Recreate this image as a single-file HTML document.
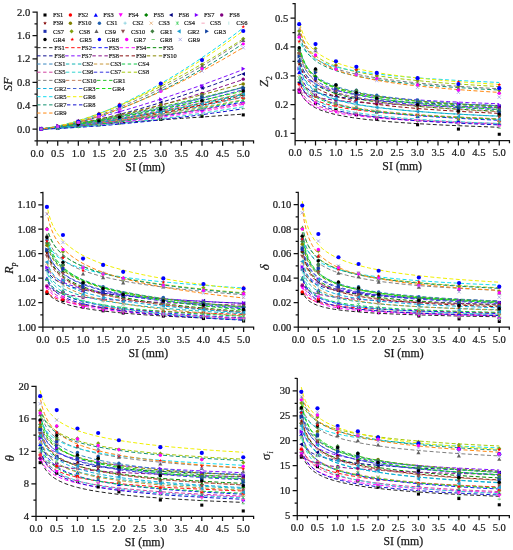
<!DOCTYPE html>
<html lang="en"><head><meta charset="utf-8"><title>Roughness parameters vs sampling interval</title>
<style>html,body{margin:0;padding:0;background:#fff}svg{display:block;filter:blur(0.35px)}</style></head>
<body>
<svg width="513" height="550" viewBox="0 0 513 550" font-family='"Liberation Serif", "DejaVu Serif", serif'>
<rect width="513" height="550" fill="#ffffff"/>
<g fill="none" stroke-width="1" stroke-dasharray="4 2.4">
<polyline stroke="#202020" stroke-dashoffset="2.0" points="41.2,128.7 43.3,128.6 45.3,128.4 47.4,128.2 49.5,128.0 51.5,127.9 53.6,127.7 55.7,127.6 57.7,127.4 59.8,127.2 61.8,127.1 66.0,126.8 70.1,126.4 74.2,126.1 78.3,125.8 82.5,125.5 86.6,125.2 90.7,124.9 94.8,124.6 98.9,124.3 109.3,123.5 119.6,122.8 129.9,122.1 140.2,121.3 150.5,120.6 160.8,119.9 171.1,119.1 181.4,118.4 191.7,117.7 202.0,117.0 212.3,116.3 222.6,115.5 232.9,114.8 243.2,114.1"/>
<polyline stroke="#ff1010" stroke-dashoffset="2.6" points="41.2,128.8 43.3,128.7 45.3,128.5 47.4,128.3 49.5,128.1 51.5,127.9 53.6,127.7 55.7,127.5 57.7,127.3 59.8,127.0 61.8,126.8 66.0,126.3 70.1,125.8 74.2,125.3 78.3,124.8 82.5,124.2 86.6,123.7 90.7,123.1 94.8,122.5 98.9,121.9 109.3,120.4 119.6,118.9 129.9,117.3 140.2,115.6 150.5,114.0 160.8,112.2 171.1,110.5 181.4,108.7 191.7,106.9 202.0,105.0 212.3,103.2 222.6,101.3 232.9,99.3 243.2,97.4"/>
<polyline stroke="#1010ff" stroke-dashoffset="4.0" points="41.2,129.0 43.3,128.9 45.3,128.8 47.4,128.7 49.5,128.6 51.5,128.5 53.6,128.4 55.7,128.3 57.7,128.1 59.8,128.0 61.8,127.8 66.0,127.5 70.1,127.2 74.2,126.8 78.3,126.5 82.5,126.1 86.6,125.7 90.7,125.3 94.8,124.8 98.9,124.4 109.3,123.2 119.6,121.9 129.9,120.6 140.2,119.2 150.5,117.7 160.8,116.2 171.1,114.6 181.4,112.9 191.7,111.2 202.0,109.5 212.3,107.6 222.6,105.8 232.9,103.9 243.2,101.9"/>
<polyline stroke="#ff10ff" stroke-dashoffset="5.0" points="41.2,129.0 43.3,128.9 45.3,128.9 47.4,128.8 49.5,128.7 51.5,128.6 53.6,128.5 55.7,128.4 57.7,128.2 59.8,128.1 61.8,128.0 66.0,127.7 70.1,127.4 74.2,127.1 78.3,126.7 82.5,126.4 86.6,126.0 90.7,125.6 94.8,125.2 98.9,124.8 109.3,123.7 119.6,122.6 129.9,121.4 140.2,120.1 150.5,118.7 160.8,117.4 171.1,115.9 181.4,114.4 191.7,112.8 202.0,111.2 212.3,109.6 222.6,107.9 232.9,106.2 243.2,104.4"/>
<polyline stroke="#008800" stroke-dashoffset="5.4" points="41.2,129.0 43.3,128.8 45.3,128.7 47.4,128.6 49.5,128.4 51.5,128.2 53.6,128.1 55.7,127.9 57.7,127.7 59.8,127.5 61.8,127.3 66.0,126.8 70.1,126.4 74.2,125.9 78.3,125.4 82.5,124.9 86.6,124.3 90.7,123.7 94.8,123.2 98.9,122.6 109.3,121.0 119.6,119.3 129.9,117.6 140.2,115.7 150.5,113.8 160.8,111.9 171.1,109.8 181.4,107.7 191.7,105.5 202.0,103.3 212.3,101.0 222.6,98.7 232.9,96.3 243.2,93.9"/>
<polyline stroke="#101090" stroke-dashoffset="1.0" points="41.2,128.9 43.3,128.7 45.3,128.6 47.4,128.4 49.5,128.1 51.5,127.9 53.6,127.7 55.7,127.4 57.7,127.1 59.8,126.8 61.8,126.5 66.0,125.9 70.1,125.2 74.2,124.4 78.3,123.7 82.5,122.9 86.6,122.0 90.7,121.2 94.8,120.3 98.9,119.3 109.3,116.9 119.6,114.3 129.9,111.6 140.2,108.7 150.5,105.7 160.8,102.5 171.1,99.3 181.4,95.9 191.7,92.4 202.0,88.8 212.3,85.2 222.6,81.4 232.9,77.5 243.2,73.5"/>
<polyline stroke="#8010ff" stroke-dashoffset="1.8" points="41.2,128.8 43.3,128.6 45.3,128.3 47.4,128.0 49.5,127.7 51.5,127.4 53.6,127.1 55.7,126.8 57.7,126.4 59.8,126.0 61.8,125.6 66.0,124.8 70.1,124.0 74.2,123.1 78.3,122.2 82.5,121.3 86.6,120.3 90.7,119.3 94.8,118.3 98.9,117.3 109.3,114.6 119.6,111.7 129.9,108.7 140.2,105.6 150.5,102.4 160.8,99.1 171.1,95.7 181.4,92.2 191.7,88.6 202.0,85.0 212.3,81.2 222.6,77.4 232.9,73.5 243.2,69.5"/>
<polyline stroke="#881088" stroke-dashoffset="2.7" points="41.2,128.9 43.3,128.8 45.3,128.6 47.4,128.4 49.5,128.2 51.5,128.0 53.6,127.8 55.7,127.5 57.7,127.3 59.8,127.0 61.8,126.7 66.0,126.1 70.1,125.5 74.2,124.8 78.3,124.1 82.5,123.4 86.6,122.7 90.7,121.9 94.8,121.1 98.9,120.2 109.3,118.1 119.6,115.7 129.9,113.3 140.2,110.7 150.5,108.0 160.8,105.2 171.1,102.3 181.4,99.3 191.7,96.2 202.0,93.0 212.3,89.8 222.6,86.4 232.9,83.0 243.2,79.5"/>
<polyline stroke="#8a1010" stroke-dashoffset="3.4" points="41.2,129.0 43.3,128.9 45.3,128.8 47.4,128.7 49.5,128.6 51.5,128.5 53.6,128.4 55.7,128.2 57.7,128.1 59.8,127.9 61.8,127.7 66.0,127.4 70.1,127.0 74.2,126.6 78.3,126.2 82.5,125.7 86.6,125.2 90.7,124.7 94.8,124.2 98.9,123.6 109.3,122.2 119.6,120.7 129.9,119.0 140.2,117.3 150.5,115.4 160.8,113.5 171.1,111.5 181.4,109.4 191.7,107.2 202.0,104.9 212.3,102.6 222.6,100.2 232.9,97.7 243.2,95.2"/>
<polyline stroke="#888800" stroke-dashoffset="2.1" points="41.2,128.8 43.3,128.5 45.3,128.3 47.4,128.0 49.5,127.8 51.5,127.5 53.6,127.2 55.7,126.9 57.7,126.6 59.8,126.2 61.8,125.9 66.0,125.2 70.1,124.5 74.2,123.8 78.3,123.0 82.5,122.3 86.6,121.5 90.7,120.7 94.8,119.9 98.9,119.0 109.3,116.9 119.6,114.7 129.9,112.4 140.2,110.0 150.5,107.6 160.8,105.1 171.1,102.6 181.4,100.0 191.7,97.4 202.0,94.7 212.3,92.0 222.6,89.3 232.9,86.5 243.2,83.7"/>
<polyline stroke="#3888c0" stroke-dashoffset="1.2" points="41.2,128.9 43.3,128.7 45.3,128.5 47.4,128.3 49.5,128.1 51.5,127.9 53.6,127.7 55.7,127.4 57.7,127.2 59.8,126.9 61.8,126.6 66.0,126.1 70.1,125.5 74.2,124.9 78.3,124.2 82.5,123.6 86.6,122.9 90.7,122.2 94.8,121.5 98.9,120.7 109.3,118.8 119.6,116.8 129.9,114.7 140.2,112.5 150.5,110.3 160.8,108.0 171.1,105.6 181.4,103.1 191.7,100.6 202.0,98.1 212.3,95.5 222.6,92.8 232.9,90.1 243.2,87.3"/>
<polyline stroke="#10b4b4" stroke-dashoffset="0.5" points="41.2,129.0 43.3,129.0 45.3,128.9 47.4,128.8 49.5,128.7 51.5,128.6 53.6,128.4 55.7,128.3 57.7,128.2 59.8,128.0 61.8,127.9 66.0,127.5 70.1,127.2 74.2,126.8 78.3,126.4 82.5,126.0 86.6,125.5 90.7,125.0 94.8,124.5 98.9,124.0 109.3,122.7 119.6,121.2 129.9,119.6 140.2,118.0 150.5,116.2 160.8,114.4 171.1,112.4 181.4,110.4 191.7,108.3 202.0,106.2 212.3,103.9 222.6,101.6 232.9,99.2 243.2,96.8"/>
<polyline stroke="#c89838" stroke-dashoffset="1.9" points="41.2,128.9 43.3,128.8 45.3,128.7 47.4,128.5 49.5,128.4 51.5,128.2 53.6,128.1 55.7,127.9 57.7,127.7 59.8,127.5 61.8,127.3 66.0,126.9 70.1,126.5 74.2,126.1 78.3,125.6 82.5,125.1 86.6,124.7 90.7,124.2 94.8,123.7 98.9,123.1 109.3,121.8 119.6,120.4 129.9,118.9 140.2,117.4 150.5,115.8 160.8,114.2 171.1,112.5 181.4,110.8 191.7,109.1 202.0,107.3 212.3,105.5 222.6,103.6 232.9,101.7 243.2,99.8"/>
<polyline stroke="#10c848" stroke-dashoffset="2.8" points="41.2,129.0 43.3,128.9 45.3,128.8 47.4,128.7 49.5,128.6 51.5,128.5 53.6,128.4 55.7,128.3 57.7,128.1 59.8,128.0 61.8,127.8 66.0,127.5 70.1,127.2 74.2,126.8 78.3,126.4 82.5,126.0 86.6,125.6 90.7,125.2 94.8,124.7 98.9,124.2 109.3,123.0 119.6,121.7 129.9,120.3 140.2,118.8 150.5,117.2 160.8,115.6 171.1,113.9 181.4,112.2 191.7,110.4 202.0,108.5 212.3,106.6 222.6,104.6 232.9,102.6 243.2,100.5"/>
<polyline stroke="#d040a0" stroke-dashoffset="5.8" points="41.2,128.9 43.3,128.8 45.3,128.6 47.4,128.5 49.5,128.3 51.5,128.1 53.6,128.0 55.7,127.8 57.7,127.6 59.8,127.4 61.8,127.2 66.0,126.8 70.1,126.4 74.2,126.0 78.3,125.6 82.5,125.2 86.6,124.7 90.7,124.2 94.8,123.8 98.9,123.3 109.3,122.1 119.6,120.8 129.9,119.5 140.2,118.2 150.5,116.9 160.8,115.5 171.1,114.0 181.4,112.6 191.7,111.1 202.0,109.6 212.3,108.1 222.6,106.6 232.9,105.0 243.2,103.5"/>
<polyline stroke="#30d4d0" stroke-dashoffset="5.5" points="41.2,129.0 43.3,129.0 45.3,128.9 47.4,128.9 49.5,128.8 51.5,128.7 53.6,128.6 55.7,128.5 57.7,128.4 59.8,128.3 61.8,128.2 66.0,128.0 70.1,127.7 74.2,127.4 78.3,127.1 82.5,126.8 86.6,126.5 90.7,126.2 94.8,125.8 98.9,125.5 109.3,124.5 119.6,123.5 129.9,122.4 140.2,121.3 150.5,120.1 160.8,118.8 171.1,117.5 181.4,116.1 191.7,114.7 202.0,113.2 212.3,111.7 222.6,110.1 232.9,108.5 243.2,106.8"/>
<polyline stroke="#3434e0" stroke-dashoffset="5.2" points="41.2,129.0 43.3,128.9 45.3,128.7 47.4,128.6 49.5,128.4 51.5,128.3 53.6,128.1 55.7,127.9 57.7,127.7 59.8,127.5 61.8,127.3 66.0,126.8 70.1,126.3 74.2,125.8 78.3,125.3 82.5,124.7 86.6,124.1 90.7,123.5 94.8,122.9 98.9,122.2 109.3,120.5 119.6,118.7 129.9,116.7 140.2,114.7 150.5,112.6 160.8,110.3 171.1,108.0 181.4,105.6 191.7,103.1 202.0,100.6 212.3,98.0 222.6,95.3 232.9,92.5 243.2,89.7"/>
<polyline stroke="#a4c808" stroke-dashoffset="5.8" points="41.2,128.8 43.3,128.6 45.3,128.3 47.4,128.0 49.5,127.6 51.5,127.3 53.6,126.9 55.7,126.5 57.7,126.0 59.8,125.5 61.8,125.1 66.0,124.0 70.1,123.0 74.2,121.8 78.3,120.6 82.5,119.3 86.6,118.0 90.7,116.6 94.8,115.1 98.9,113.6 109.3,109.7 119.6,105.5 129.9,101.1 140.2,96.4 150.5,91.5 160.8,86.4 171.1,81.1 181.4,75.6 191.7,69.9 202.0,64.0 212.3,58.0 222.6,51.8 232.9,45.4 243.2,38.8"/>
<polyline stroke="#808080" stroke-dashoffset="5.8" points="41.2,128.9 43.3,128.7 45.3,128.5 47.4,128.2 49.5,127.9 51.5,127.6 53.6,127.3 55.7,126.9 57.7,126.5 59.8,126.1 61.8,125.7 66.0,124.8 70.1,123.8 74.2,122.8 78.3,121.6 82.5,120.5 86.6,119.2 90.7,117.9 94.8,116.6 98.9,115.2 109.3,111.5 119.6,107.4 129.9,103.1 140.2,98.5 150.5,93.7 160.8,88.7 171.1,83.3 181.4,77.8 191.7,72.1 202.0,66.1 212.3,60.0 222.6,53.6 232.9,47.0 243.2,40.3"/>
<polyline stroke="#c08060" stroke-dashoffset="3.7" points="41.2,128.9 43.3,128.8 45.3,128.6 47.4,128.5 49.5,128.3 51.5,128.1 53.6,127.9 55.7,127.7 57.7,127.5 59.8,127.2 61.8,127.0 66.0,126.5 70.1,126.0 74.2,125.5 78.3,125.0 82.5,124.4 86.6,123.8 90.7,123.2 94.8,122.6 98.9,122.0 109.3,120.3 119.6,118.6 129.9,116.8 140.2,114.9 150.5,113.0 160.8,111.0 171.1,108.9 181.4,106.8 191.7,104.7 202.0,102.5 212.3,100.2 222.6,97.9 232.9,95.6 243.2,93.2"/>
<polyline stroke="#28c428" stroke-dashoffset="4.9" points="41.2,128.8 43.3,128.6 45.3,128.4 47.4,128.1 49.5,127.9 51.5,127.6 53.6,127.3 55.7,127.1 57.7,126.8 59.8,126.5 61.8,126.2 66.0,125.6 70.1,124.9 74.2,124.2 78.3,123.6 82.5,122.8 86.6,122.1 90.7,121.4 94.8,120.6 98.9,119.9 109.3,117.9 119.6,115.9 129.9,113.7 140.2,111.6 150.5,109.3 160.8,107.1 171.1,104.7 181.4,102.3 191.7,99.9 202.0,97.5 212.3,95.0 222.6,92.4 232.9,89.8 243.2,87.2"/>
<polyline stroke="#10b0e0" stroke-dashoffset="0.4" points="41.2,128.9 43.3,128.8 45.3,128.7 47.4,128.5 49.5,128.4 51.5,128.2 53.6,128.0 55.7,127.8 57.7,127.6 59.8,127.4 61.8,127.2 66.0,126.7 70.1,126.3 74.2,125.8 78.3,125.3 82.5,124.7 86.6,124.2 90.7,123.6 94.8,123.0 98.9,122.4 109.3,120.8 119.6,119.2 129.9,117.4 140.2,115.6 150.5,113.8 160.8,111.8 171.1,109.8 181.4,107.8 191.7,105.6 202.0,103.5 212.3,101.3 222.6,99.0 232.9,96.7 243.2,94.3"/>
<polyline stroke="#4060d0" stroke-dashoffset="4.1" points="41.2,128.9 43.3,128.8 45.3,128.6 47.4,128.4 49.5,128.2 51.5,128.0 53.6,127.8 55.7,127.6 57.7,127.4 59.8,127.1 61.8,126.9 66.0,126.4 70.1,125.8 74.2,125.2 78.3,124.6 82.5,124.0 86.6,123.3 90.7,122.6 94.8,121.9 98.9,121.2 109.3,119.3 119.6,117.4 129.9,115.3 140.2,113.1 150.5,110.9 160.8,108.5 171.1,106.1 181.4,103.6 191.7,101.1 202.0,98.5 212.3,95.8 222.6,93.0 232.9,90.2 243.2,87.4"/>
<polyline stroke="#10e010" stroke-dashoffset="3.7" points="41.2,128.8 43.3,128.7 45.3,128.5 47.4,128.3 49.5,128.0 51.5,127.8 53.6,127.6 55.7,127.3 57.7,127.1 59.8,126.8 61.8,126.5 66.0,126.0 70.1,125.4 74.2,124.8 78.3,124.2 82.5,123.5 86.6,122.9 90.7,122.2 94.8,121.5 98.9,120.8 109.3,119.1 119.6,117.2 129.9,115.3 140.2,113.3 150.5,111.3 160.8,109.2 171.1,107.0 181.4,104.9 191.7,102.6 202.0,100.4 212.3,98.1 222.6,95.7 232.9,93.4 243.2,91.0"/>
<polyline stroke="#10dcf0" stroke-dashoffset="1.8" points="41.2,128.9 43.3,128.7 45.3,128.4 47.4,128.2 49.5,127.9 51.5,127.5 53.6,127.2 55.7,126.8 57.7,126.3 59.8,125.9 61.8,125.4 66.0,124.4 70.1,123.3 74.2,122.2 78.3,120.9 82.5,119.6 86.6,118.3 90.7,116.8 94.8,115.3 98.9,113.7 109.3,109.5 119.6,105.0 129.9,100.1 140.2,94.9 150.5,89.4 160.8,83.6 171.1,77.5 181.4,71.2 191.7,64.6 202.0,57.7 212.3,50.6 222.6,43.3 232.9,35.7 243.2,27.9"/>
<polyline stroke="#f0f000" stroke-dashoffset="3.4" points="41.2,128.9 43.3,128.7 45.3,128.4 47.4,128.2 49.5,127.9 51.5,127.5 53.6,127.2 55.7,126.8 57.7,126.4 59.8,125.9 61.8,125.5 66.0,124.5 70.1,123.4 74.2,122.3 78.3,121.1 82.5,119.8 86.6,118.4 90.7,117.0 94.8,115.5 98.9,114.0 109.3,109.9 119.6,105.5 129.9,100.7 140.2,95.7 150.5,90.3 160.8,84.7 171.1,78.8 181.4,72.7 191.7,66.3 202.0,59.7 212.3,52.8 222.6,45.7 232.9,38.4 243.2,30.9"/>
<polyline stroke="#109070" stroke-dashoffset="5.7" points="41.2,128.9 43.3,128.8 45.3,128.6 47.4,128.4 49.5,128.1 51.5,127.8 53.6,127.5 55.7,127.2 57.7,126.9 59.8,126.5 61.8,126.1 66.0,125.3 70.1,124.4 74.2,123.4 78.3,122.4 82.5,121.3 86.6,120.2 90.7,119.0 94.8,117.7 98.9,116.4 109.3,112.9 119.6,109.1 129.9,105.0 140.2,100.6 150.5,95.9 160.8,91.0 171.1,85.9 181.4,80.5 191.7,74.9 202.0,69.1 212.3,63.0 222.6,56.8 232.9,50.3 243.2,43.6"/>
<polyline stroke="#1010d0" stroke-dashoffset="2.9" points="41.2,129.1 43.3,129.0 45.3,129.0 47.4,128.9 49.5,128.8 51.5,128.8 53.6,128.7 55.7,128.6 57.7,128.5 59.8,128.4 61.8,128.3 66.0,128.1 70.1,127.9 74.2,127.6 78.3,127.4 82.5,127.1 86.6,126.8 90.7,126.5 94.8,126.2 98.9,125.9 109.3,125.1 119.6,124.1 129.9,123.1 140.2,122.1 150.5,121.0 160.8,119.8 171.1,118.6 181.4,117.3 191.7,116.0 202.0,114.7 212.3,113.2 222.6,111.8 232.9,110.3 243.2,108.7"/>
<polyline stroke="#ff8810" stroke-dashoffset="3.9" points="41.2,128.9 43.3,128.7 45.3,128.5 47.4,128.3 49.5,128.0 51.5,127.7 53.6,127.4 55.7,127.0 57.7,126.7 59.8,126.3 61.8,125.9 66.0,125.0 70.1,124.1 74.2,123.1 78.3,122.1 82.5,121.0 86.6,119.8 90.7,118.6 94.8,117.4 98.9,116.1 109.3,112.6 119.6,108.9 129.9,104.9 140.2,100.7 150.5,96.3 160.8,91.6 171.1,86.8 181.4,81.7 191.7,76.5 202.0,71.0 212.3,65.4 222.6,59.6 232.9,53.6 243.2,47.5"/>
</g>
<g>
<rect x="39.69" y="127.39" width="3.06" height="3.06" fill="#000000"/>
<rect x="56.19" y="126.4" width="3.06" height="3.06" fill="#000000"/>
<rect x="76.8" y="124.64" width="3.06" height="3.06" fill="#000000"/>
<rect x="97.41" y="122.89" width="3.06" height="3.06" fill="#000000"/>
<rect x="118.03" y="121.13" width="3.06" height="3.06" fill="#000000"/>
<rect x="159.26" y="117.86" width="3.06" height="3.06" fill="#000000"/>
<rect x="200.49" y="114.7" width="3.06" height="3.06" fill="#000000"/>
<rect x="241.72" y="113.35" width="3.06" height="3.06" fill="#000000"/>
<circle cx="41.22" cy="128.83" r="1.71" fill="#ff0000"/>
<circle cx="57.72" cy="127.14" r="1.71" fill="#ff0000"/>
<circle cx="78.33" cy="124.79" r="1.71" fill="#ff0000"/>
<circle cx="98.94" cy="122.38" r="1.71" fill="#ff0000"/>
<circle cx="119.56" cy="119.55" r="1.71" fill="#ff0000"/>
<circle cx="160.79" cy="112" r="1.71" fill="#ff0000"/>
<circle cx="202.02" cy="103.67" r="1.71" fill="#ff0000"/>
<circle cx="243.25" cy="98.27" r="1.71" fill="#ff0000"/>
<polygon points="41.22,126.95 39.15,130.67 43.29,130.67" fill="#0000ff"/>
<polygon points="57.72,126.07 55.65,129.79 59.79,129.79" fill="#0000ff"/>
<polygon points="78.33,124.4 76.26,128.12 80.4,128.12" fill="#0000ff"/>
<polygon points="98.94,122.41 96.88,126.13 101.01,126.13" fill="#0000ff"/>
<polygon points="119.56,120.34 117.49,124.07 121.63,124.07" fill="#0000ff"/>
<polygon points="160.79,113.55 158.72,117.28 162.86,117.28" fill="#0000ff"/>
<polygon points="202.02,107.31 199.95,111.03 204.09,111.03" fill="#0000ff"/>
<polygon points="243.25,100.03 241.18,103.76 245.32,103.76" fill="#0000ff"/>
<polygon points="41.22,131.06 39.15,127.34 43.29,127.34" fill="#ff00ff"/>
<polygon points="57.72,130.17 55.65,126.44 59.79,126.44" fill="#ff00ff"/>
<polygon points="78.33,128.44 76.26,124.72 80.4,124.72" fill="#ff00ff"/>
<polygon points="98.94,126.61 96.88,122.88 101.01,122.88" fill="#ff00ff"/>
<polygon points="119.56,124.78 117.49,121.05 121.63,121.05" fill="#ff00ff"/>
<polygon points="160.79,119.24 158.72,115.52 162.86,115.52" fill="#ff00ff"/>
<polygon points="202.02,114.16 199.95,110.44 204.09,110.44" fill="#ff00ff"/>
<polygon points="243.25,106 241.18,102.27 245.32,102.27" fill="#ff00ff"/>
<polygon points="41.22,126.93 43.29,129 41.22,131.07 39.15,129" fill="#008000"/>
<polygon points="57.72,125.89 59.79,127.96 57.72,130.03 55.65,127.96" fill="#008000"/>
<polygon points="78.33,123.77 80.4,125.84 78.33,127.91 76.26,125.84" fill="#008000"/>
<polygon points="98.94,120.85 101.01,122.92 98.94,124.99 96.88,122.92" fill="#008000"/>
<polygon points="119.56,117.85 121.63,119.92 119.56,121.99 117.49,119.92" fill="#008000"/>
<polygon points="160.79,109.76 162.86,111.83 160.79,113.9 158.72,111.83" fill="#008000"/>
<polygon points="202.02,99.24 204.09,101.31 202.02,103.38 199.95,101.31" fill="#008000"/>
<polygon points="243.25,93.01 245.32,95.08 243.25,97.15 241.18,95.08" fill="#008000"/>
<polygon points="39.15,128.89 42.88,126.82 42.88,130.96" fill="#000080"/>
<polygon points="55.65,127.02 59.37,124.95 59.37,129.09" fill="#000080"/>
<polygon points="76.26,123.27 79.99,121.2 79.99,125.34" fill="#000080"/>
<polygon points="96.88,119.77 100.6,117.7 100.6,121.84" fill="#000080"/>
<polygon points="117.49,114.86 121.22,112.79 121.22,116.93" fill="#000080"/>
<polygon points="158.72,102.55 162.45,100.48 162.45,104.62" fill="#000080"/>
<polygon points="199.95,87.87 203.68,85.8 203.68,89.94" fill="#000080"/>
<polygon points="241.18,74.05 244.91,71.98 244.91,76.12" fill="#000080"/>
<polygon points="43.29,128.67 39.57,126.6 39.57,130.74" fill="#8000ff"/>
<polygon points="59.79,125.87 56.06,123.8 56.06,127.94" fill="#8000ff"/>
<polygon points="80.4,121.59 76.67,119.52 76.67,123.66" fill="#8000ff"/>
<polygon points="101.01,116.86 97.29,114.79 97.29,118.93" fill="#8000ff"/>
<polygon points="121.63,111.74 117.9,109.67 117.9,113.81" fill="#8000ff"/>
<polygon points="162.86,99.39 159.13,97.32 159.13,101.46" fill="#8000ff"/>
<polygon points="204.09,86.1 200.36,84.03 200.36,88.17" fill="#8000ff"/>
<polygon points="245.32,68.72 241.59,66.65 241.59,70.79" fill="#8000ff"/>
<circle cx="41.22" cy="128.9" r="1.71" fill="#800080"/>
<circle cx="57.72" cy="127.24" r="1.71" fill="#800080"/>
<circle cx="78.33" cy="124.13" r="1.71" fill="#800080"/>
<circle cx="98.94" cy="119.92" r="1.71" fill="#800080"/>
<circle cx="119.56" cy="115.69" r="1.71" fill="#800080"/>
<circle cx="160.79" cy="105.24" r="1.71" fill="#800080"/>
<circle cx="202.02" cy="93.57" r="1.71" fill="#800080"/>
<circle cx="243.25" cy="79.16" r="1.71" fill="#800080"/>
<polygon points="41.22,127.04 41.7,128.36 43.11,128.4 41.99,129.27 42.39,130.62 41.22,129.83 40.06,130.62 40.45,129.27 39.34,128.4 40.75,128.36" fill="#800000"/>
<polygon points="57.72,126.11 58.19,127.44 59.6,127.48 58.49,128.34 58.88,129.69 57.72,128.9 56.55,129.69 56.94,128.34 55.83,127.48 57.24,127.44" fill="#800000"/>
<polygon points="78.33,124.21 78.81,125.54 80.21,125.58 79.1,126.44 79.49,127.79 78.33,127 77.17,127.79 77.56,126.44 76.45,125.58 77.85,125.54" fill="#800000"/>
<polygon points="98.94,121.68 99.42,123 100.83,123.05 99.72,123.91 100.11,125.26 98.94,124.47 97.78,125.26 98.17,123.91 97.06,123.05 98.47,123" fill="#800000"/>
<polygon points="119.56,119.34 120.04,120.67 121.44,120.71 120.33,121.57 120.72,122.92 119.56,122.13 118.4,122.92 118.79,121.57 117.68,120.71 119.08,120.67" fill="#800000"/>
<polygon points="160.79,111.58 161.27,112.9 162.67,112.94 161.56,113.81 161.95,115.16 160.79,114.37 159.63,115.16 160.02,113.81 158.91,112.94 160.31,112.9" fill="#800000"/>
<polygon points="202.02,101.86 202.5,103.19 203.9,103.23 202.79,104.09 203.18,105.44 202.02,104.65 200.86,105.44 201.25,104.09 200.14,103.23 201.54,103.19" fill="#800000"/>
<polygon points="243.25,93.81 243.73,95.14 245.13,95.18 244.02,96.05 244.41,97.4 243.25,96.6 242.09,97.4 242.48,96.05 241.37,95.18 242.77,95.14" fill="#800000"/>
<circle cx="41.22" cy="128.74" r="1.71" fill="#808000"/>
<circle cx="57.72" cy="126.5" r="1.71" fill="#808000"/>
<circle cx="78.33" cy="122.97" r="1.71" fill="#808000"/>
<circle cx="98.94" cy="118.96" r="1.71" fill="#808000"/>
<circle cx="119.56" cy="115.51" r="1.71" fill="#808000"/>
<circle cx="160.79" cy="104.61" r="1.71" fill="#808000"/>
<circle cx="202.02" cy="94.43" r="1.71" fill="#808000"/>
<circle cx="243.25" cy="83.93" r="1.71" fill="#808000"/>
<circle cx="41.22" cy="128.91" r="1.71" fill="#2060b0"/>
<circle cx="57.72" cy="127.43" r="1.71" fill="#2060b0"/>
<circle cx="78.33" cy="124.49" r="1.71" fill="#2060b0"/>
<circle cx="98.94" cy="121.26" r="1.71" fill="#2060b0"/>
<circle cx="119.56" cy="117.47" r="1.71" fill="#2060b0"/>
<circle cx="160.79" cy="107.83" r="1.71" fill="#2060b0"/>
<circle cx="202.02" cy="96.04" r="1.71" fill="#2060b0"/>
<circle cx="243.25" cy="88.54" r="1.71" fill="#2060b0"/>
<path d="M39.6 129.02H42.84M41.22 127.4V130.64" stroke="#70c8d8" stroke-width="0.7" fill="none"/>
<path d="M56.1 128.22H59.34M57.72 126.6V129.84" stroke="#70c8d8" stroke-width="0.7" fill="none"/>
<path d="M76.71 126.37H79.95M78.33 124.75V127.99" stroke="#70c8d8" stroke-width="0.7" fill="none"/>
<path d="M97.32 124.31H100.56M98.94 122.69V125.93" stroke="#70c8d8" stroke-width="0.7" fill="none"/>
<path d="M117.94 121.25H121.18M119.56 119.63V122.87" stroke="#70c8d8" stroke-width="0.7" fill="none"/>
<path d="M159.17 113.96H162.41M160.79 112.34V115.58" stroke="#70c8d8" stroke-width="0.7" fill="none"/>
<path d="M200.4 106.41H203.64M202.02 104.79V108.03" stroke="#70c8d8" stroke-width="0.7" fill="none"/>
<path d="M241.63 96.74H244.87M243.25 95.12V98.36" stroke="#70c8d8" stroke-width="0.7" fill="none"/>
<path d="M39.6 127.31L42.84 130.55M39.6 130.55L42.84 127.31" stroke="#e0a060" stroke-width="0.7" fill="none"/>
<path d="M56.1 126.05L59.34 129.29M56.1 129.29L59.34 126.05" stroke="#e0a060" stroke-width="0.7" fill="none"/>
<path d="M76.71 123.93L79.95 127.17M76.71 127.17L79.95 123.93" stroke="#e0a060" stroke-width="0.7" fill="none"/>
<path d="M97.32 121.33L100.56 124.57M97.32 124.57L100.56 121.33" stroke="#e0a060" stroke-width="0.7" fill="none"/>
<path d="M117.94 119.05L121.18 122.29M117.94 122.29L121.18 119.05" stroke="#e0a060" stroke-width="0.7" fill="none"/>
<path d="M159.17 113.02L162.41 116.26M159.17 116.26L162.41 113.02" stroke="#e0a060" stroke-width="0.7" fill="none"/>
<path d="M200.4 104.89L203.64 108.13M200.4 108.13L203.64 104.89" stroke="#e0a060" stroke-width="0.7" fill="none"/>
<path d="M241.63 98.51L244.87 101.75M241.63 101.75L244.87 98.51" stroke="#e0a060" stroke-width="0.7" fill="none"/>
<path d="M39.6 127.37L42.84 130.61M39.6 130.61L42.84 127.37M41.22 127.37V130.61" stroke="#40d060" stroke-width="0.7" fill="none"/>
<path d="M56.1 126.42L59.34 129.66M56.1 129.66L59.34 126.42M57.72 126.42V129.66" stroke="#40d060" stroke-width="0.7" fill="none"/>
<path d="M76.71 124.7L79.95 127.94M76.71 127.94L79.95 124.7M78.33 124.7V127.94" stroke="#40d060" stroke-width="0.7" fill="none"/>
<path d="M97.32 122.63L100.56 125.87M97.32 125.87L100.56 122.63M98.94 122.63V125.87" stroke="#40d060" stroke-width="0.7" fill="none"/>
<path d="M117.94 119.66L121.18 122.9M117.94 122.9L121.18 119.66M119.56 119.66V122.9" stroke="#40d060" stroke-width="0.7" fill="none"/>
<path d="M159.17 114.34L162.41 117.58M159.17 117.58L162.41 114.34M160.79 114.34V117.58" stroke="#40d060" stroke-width="0.7" fill="none"/>
<path d="M200.4 107.03L203.64 110.27M200.4 110.27L203.64 107.03M202.02 107.03V110.27" stroke="#40d060" stroke-width="0.7" fill="none"/>
<path d="M241.63 98.74L244.87 101.98M241.63 101.98L244.87 98.74M243.25 98.74V101.98" stroke="#40d060" stroke-width="0.7" fill="none"/>
<path d="M39.6 128.89H42.84" stroke="#f080a0" stroke-width="0.7" fill="none"/>
<path d="M56.1 127.52H59.34" stroke="#f080a0" stroke-width="0.7" fill="none"/>
<path d="M76.71 125.53H79.95" stroke="#f080a0" stroke-width="0.7" fill="none"/>
<path d="M97.32 123.31H100.56" stroke="#f080a0" stroke-width="0.7" fill="none"/>
<path d="M117.94 120.36H121.18" stroke="#f080a0" stroke-width="0.7" fill="none"/>
<path d="M159.17 116.2H162.41" stroke="#f080a0" stroke-width="0.7" fill="none"/>
<path d="M200.4 109.46H203.64" stroke="#f080a0" stroke-width="0.7" fill="none"/>
<path d="M241.63 103.39H244.87" stroke="#f080a0" stroke-width="0.7" fill="none"/>
<path d="M41.22 127.41V130.65" stroke="#a0e0d8" stroke-width="0.7" fill="none"/>
<path d="M57.72 126.74V129.98" stroke="#a0e0d8" stroke-width="0.7" fill="none"/>
<path d="M78.33 125.47V128.71" stroke="#a0e0d8" stroke-width="0.7" fill="none"/>
<path d="M98.94 123.7V126.94" stroke="#a0e0d8" stroke-width="0.7" fill="none"/>
<path d="M119.56 121.91V125.15" stroke="#a0e0d8" stroke-width="0.7" fill="none"/>
<path d="M160.79 117.22V120.46" stroke="#a0e0d8" stroke-width="0.7" fill="none"/>
<path d="M202.02 111.76V115" stroke="#a0e0d8" stroke-width="0.7" fill="none"/>
<path d="M243.25 105.08V108.32" stroke="#a0e0d8" stroke-width="0.7" fill="none"/>
<rect x="39.69" y="127.44" width="3.06" height="3.06" fill="#2030b0"/>
<rect x="56.19" y="126.3" width="3.06" height="3.06" fill="#2030b0"/>
<rect x="76.8" y="123.99" width="3.06" height="3.06" fill="#2030b0"/>
<rect x="97.41" y="120.79" width="3.06" height="3.06" fill="#2030b0"/>
<rect x="118.03" y="117.06" width="3.06" height="3.06" fill="#2030b0"/>
<rect x="159.26" y="108.62" width="3.06" height="3.06" fill="#2030b0"/>
<rect x="200.49" y="99.06" width="3.06" height="3.06" fill="#2030b0"/>
<rect x="241.72" y="88.21" width="3.06" height="3.06" fill="#2030b0"/>
<polygon points="41.22,126.78 43.29,128.85 41.22,130.92 39.15,128.85" fill="#80a010"/>
<polygon points="57.72,124.16 59.79,126.23 57.72,128.3 55.65,126.23" fill="#80a010"/>
<polygon points="78.33,119.13 80.4,121.2 78.33,123.27 76.26,121.2" fill="#80a010"/>
<polygon points="98.94,111.67 101.01,113.74 98.94,115.81 96.88,113.74" fill="#80a010"/>
<polygon points="119.56,103.44 121.63,105.51 119.56,107.58 117.49,105.51" fill="#80a010"/>
<polygon points="160.79,83.43 162.86,85.5 160.79,87.57 158.72,85.5" fill="#80a010"/>
<polygon points="202.02,62.54 204.09,64.61 202.02,66.68 199.95,64.61" fill="#80a010"/>
<polygon points="243.25,36.69 245.32,38.76 243.25,40.83 241.18,38.76" fill="#80a010"/>
<polygon points="41.22,126.82 39.15,130.55 43.29,130.55" fill="#606060"/>
<polygon points="57.72,124.39 55.65,128.12 59.79,128.12" fill="#606060"/>
<polygon points="78.33,119.35 76.26,123.08 80.4,123.08" fill="#606060"/>
<polygon points="98.94,113.07 96.88,116.8 101.01,116.8" fill="#606060"/>
<polygon points="119.56,105.62 117.49,109.35 121.63,109.35" fill="#606060"/>
<polygon points="160.79,86.57 158.72,90.3 162.86,90.3" fill="#606060"/>
<polygon points="202.02,63.96 199.95,67.69 204.09,67.69" fill="#606060"/>
<polygon points="243.25,38.26 241.18,41.99 245.32,41.99" fill="#606060"/>
<polygon points="41.22,131 39.15,127.27 43.29,127.27" fill="#905050"/>
<polygon points="57.72,129.62 55.65,125.9 59.79,125.9" fill="#905050"/>
<polygon points="78.33,127.1 76.26,123.38 80.4,123.38" fill="#905050"/>
<polygon points="98.94,124.14 96.88,120.42 101.01,120.42" fill="#905050"/>
<polygon points="119.56,120.99 117.49,117.26 121.63,117.26" fill="#905050"/>
<polygon points="160.79,112.39 158.72,108.66 162.86,108.66" fill="#905050"/>
<polygon points="202.02,104.75 199.95,101.03 204.09,101.03" fill="#905050"/>
<polygon points="243.25,95.29 241.18,91.56 245.32,91.56" fill="#905050"/>
<polygon points="41.22,126.72 43.29,128.79 41.22,130.86 39.15,128.79" fill="#408040"/>
<polygon points="57.72,124.66 59.79,126.73 57.72,128.8 55.65,126.73" fill="#408040"/>
<polygon points="78.33,121.48 80.4,123.55 78.33,125.62 76.26,123.55" fill="#408040"/>
<polygon points="98.94,117.52 101.01,119.59 98.94,121.66 96.88,119.59" fill="#408040"/>
<polygon points="119.56,114.11 121.63,116.18 119.56,118.25 117.49,116.18" fill="#408040"/>
<polygon points="160.79,105.4 162.86,107.47 160.79,109.54 158.72,107.47" fill="#408040"/>
<polygon points="202.02,94.64 204.09,96.71 202.02,98.78 199.95,96.71" fill="#408040"/>
<polygon points="243.25,85.46 245.32,87.53 243.25,89.6 241.18,87.53" fill="#408040"/>
<polygon points="39.15,128.89 42.88,126.82 42.88,130.96" fill="#20a0d0"/>
<polygon points="55.65,127.37 59.37,125.3 59.37,129.44" fill="#20a0d0"/>
<polygon points="76.26,124.91 79.99,122.84 79.99,126.98" fill="#20a0d0"/>
<polygon points="96.88,122.31 100.6,120.24 100.6,124.38" fill="#20a0d0"/>
<polygon points="117.49,118.84 121.22,116.77 121.22,120.91" fill="#20a0d0"/>
<polygon points="158.72,112.31 162.45,110.24 162.45,114.38" fill="#20a0d0"/>
<polygon points="199.95,103.87 203.68,101.8 203.68,105.94" fill="#20a0d0"/>
<polygon points="241.18,93.95 244.91,91.88 244.91,96.02" fill="#20a0d0"/>
<polygon points="43.29,128.89 39.57,126.82 39.57,130.96" fill="#1040a0"/>
<polygon points="59.79,127.27 56.06,125.2 56.06,129.34" fill="#1040a0"/>
<polygon points="80.4,124.41 76.67,122.34 76.67,126.48" fill="#1040a0"/>
<polygon points="101.01,121.23 97.29,119.16 97.29,123.3" fill="#1040a0"/>
<polygon points="121.63,117.56 117.9,115.49 117.9,119.63" fill="#1040a0"/>
<polygon points="162.86,109.25 159.13,107.18 159.13,111.32" fill="#1040a0"/>
<polygon points="204.09,97.28 200.36,95.21 200.36,99.35" fill="#1040a0"/>
<polygon points="245.32,87.87 241.59,85.8 241.59,89.94" fill="#1040a0"/>
<circle cx="41.22" cy="128.83" r="1.71" fill="#000000"/>
<circle cx="57.72" cy="127.03" r="1.71" fill="#000000"/>
<circle cx="78.33" cy="124.2" r="1.71" fill="#000000"/>
<circle cx="98.94" cy="120.89" r="1.71" fill="#000000"/>
<circle cx="119.56" cy="117.16" r="1.71" fill="#000000"/>
<circle cx="160.79" cy="109.03" r="1.71" fill="#000000"/>
<circle cx="202.02" cy="100.61" r="1.71" fill="#000000"/>
<circle cx="243.25" cy="90.88" r="1.71" fill="#000000"/>
<polygon points="41.22,126.88 41.7,128.21 43.11,128.25 41.99,129.11 42.39,130.46 41.22,129.67 40.06,130.46 40.45,129.11 39.34,128.25 40.75,128.21" fill="#ff0000"/>
<polygon points="57.72,124.21 58.19,125.54 59.6,125.58 58.49,126.44 58.88,127.79 57.72,127 56.55,127.79 56.94,126.44 55.83,125.58 57.24,125.54" fill="#ff0000"/>
<polygon points="78.33,118.65 78.81,119.97 80.21,120.02 79.1,120.88 79.49,122.23 78.33,121.44 77.17,122.23 77.56,120.88 76.45,120.02 77.85,119.97" fill="#ff0000"/>
<polygon points="98.94,111.55 99.42,112.87 100.83,112.92 99.72,113.78 100.11,115.13 98.94,114.34 97.78,115.13 98.17,113.78 97.06,112.92 98.47,112.87" fill="#ff0000"/>
<polygon points="119.56,102.25 120.04,103.57 121.44,103.62 120.33,104.48 120.72,105.83 119.56,105.04 118.4,105.83 118.79,104.48 117.68,103.62 119.08,103.57" fill="#ff0000"/>
<polygon points="160.79,81.27 161.27,82.59 162.67,82.64 161.56,83.5 161.95,84.85 160.79,84.06 159.63,84.85 160.02,83.5 158.91,82.64 160.31,82.59" fill="#ff0000"/>
<polygon points="202.02,57.79 202.5,59.12 203.9,59.16 202.79,60.02 203.18,61.37 202.02,60.58 200.86,61.37 201.25,60.02 200.14,59.16 201.54,59.12" fill="#ff0000"/>
<polygon points="243.25,24.83 243.73,26.16 245.13,26.2 244.02,27.06 244.41,28.42 243.25,27.62 242.09,28.42 242.48,27.06 241.37,26.2 242.77,26.16" fill="#ff0000"/>
<circle cx="41.22" cy="128.92" r="2.09" fill="#0000ff"/>
<circle cx="57.72" cy="126.76" r="2.09" fill="#0000ff"/>
<circle cx="78.33" cy="121.49" r="2.09" fill="#0000ff"/>
<circle cx="98.94" cy="114.47" r="2.09" fill="#0000ff"/>
<circle cx="119.56" cy="105.7" r="2.09" fill="#0000ff"/>
<circle cx="160.79" cy="83.47" r="2.09" fill="#0000ff"/>
<circle cx="202.02" cy="60.07" r="2.09" fill="#0000ff"/>
<circle cx="243.25" cy="31" r="2.09" fill="#0000ff"/>
<circle cx="41.22" cy="128.92" r="1.71" fill="#ff00ff"/>
<circle cx="57.72" cy="126.78" r="1.71" fill="#ff00ff"/>
<circle cx="78.33" cy="122.43" r="1.71" fill="#ff00ff"/>
<circle cx="98.94" cy="116.51" r="1.71" fill="#ff00ff"/>
<circle cx="119.56" cy="109.16" r="1.71" fill="#ff00ff"/>
<circle cx="160.79" cy="91.19" r="1.71" fill="#ff00ff"/>
<circle cx="202.02" cy="68.62" r="1.71" fill="#ff00ff"/>
<circle cx="243.25" cy="43.85" r="1.71" fill="#ff00ff"/>
<path d="M39.6 129.05H42.84" stroke="#40c040" stroke-width="0.7" fill="none"/>
<path d="M56.1 128.46H59.34" stroke="#40c040" stroke-width="0.7" fill="none"/>
<path d="M76.71 127.42H79.95" stroke="#40c040" stroke-width="0.7" fill="none"/>
<path d="M97.32 125.92H100.56" stroke="#40c040" stroke-width="0.7" fill="none"/>
<path d="M117.94 124.31H121.18" stroke="#40c040" stroke-width="0.7" fill="none"/>
<path d="M159.17 119.37H162.41" stroke="#40c040" stroke-width="0.7" fill="none"/>
<path d="M200.4 115.05H203.64" stroke="#40c040" stroke-width="0.7" fill="none"/>
<path d="M241.63 108.63H244.87" stroke="#40c040" stroke-width="0.7" fill="none"/>
<path d="M39.6 127.29L42.84 130.53M39.6 130.53L42.84 127.29" stroke="#9090e0" stroke-width="0.7" fill="none"/>
<path d="M56.1 125.15L59.34 128.39M56.1 128.39L59.34 125.15" stroke="#9090e0" stroke-width="0.7" fill="none"/>
<path d="M76.71 120.82L79.95 124.06M76.71 124.06L79.95 120.82" stroke="#9090e0" stroke-width="0.7" fill="none"/>
<path d="M97.32 114.89L100.56 118.13M97.32 118.13L100.56 114.89" stroke="#9090e0" stroke-width="0.7" fill="none"/>
<path d="M117.94 107.8L121.18 111.04M117.94 111.04L121.18 107.8" stroke="#9090e0" stroke-width="0.7" fill="none"/>
<path d="M159.17 88.89L162.41 92.13M159.17 92.13L162.41 88.89" stroke="#9090e0" stroke-width="0.7" fill="none"/>
<path d="M200.4 69.42L203.64 72.66M200.4 72.66L203.64 69.42" stroke="#9090e0" stroke-width="0.7" fill="none"/>
<path d="M241.63 46.17L244.87 49.41M241.63 49.41L244.87 46.17" stroke="#9090e0" stroke-width="0.7" fill="none"/>
</g>
<path d="M37.1 11.5V141.5M36.5 140.9H254.16M32.5 129.1H37.1M32.5 105.7H37.1M32.5 82.3H37.1M32.5 58.9H37.1M32.5 35.5H37.1M32.5 12.1H37.1M34.5 140.8H37.1M34.5 117.4H37.1M34.5 94H37.1M34.5 70.6H37.1M34.5 47.2H37.1M34.5 23.8H37.1M37.1 140.9V145.7M57.72 140.9V145.7M78.33 140.9V145.7M98.94 140.9V145.7M119.56 140.9V145.7M140.17 140.9V145.7M160.79 140.9V145.7M181.4 140.9V145.7M202.02 140.9V145.7M222.63 140.9V145.7M243.25 140.9V145.7M47.41 140.9V143.6M68.02 140.9V143.6M88.64 140.9V143.6M109.25 140.9V143.6M129.87 140.9V143.6M150.48 140.9V143.6M171.1 140.9V143.6M191.71 140.9V143.6M212.33 140.9V143.6M232.94 140.9V143.6M253.56 140.9V143.6" stroke="#111" stroke-width="1.25" fill="none"/>
<g font-size="10.6" fill="#1a1a1a" stroke="#1a1a1a" stroke-width="0.22">
<text x="30.2" y="132.6" text-anchor="end">0.0</text>
<text x="30.2" y="109.2" text-anchor="end">0.4</text>
<text x="30.2" y="85.8" text-anchor="end">0.8</text>
<text x="30.2" y="62.4" text-anchor="end">1.2</text>
<text x="30.2" y="39" text-anchor="end">1.6</text>
<text x="30.2" y="15.6" text-anchor="end">2.0</text>
<text x="37.1" y="156.6" text-anchor="middle">0.0</text>
<text x="57.72" y="156.6" text-anchor="middle">0.5</text>
<text x="78.33" y="156.6" text-anchor="middle">1.0</text>
<text x="98.94" y="156.6" text-anchor="middle">1.5</text>
<text x="119.56" y="156.6" text-anchor="middle">2.0</text>
<text x="140.17" y="156.6" text-anchor="middle">2.5</text>
<text x="160.79" y="156.6" text-anchor="middle">3.0</text>
<text x="181.4" y="156.6" text-anchor="middle">3.5</text>
<text x="202.02" y="156.6" text-anchor="middle">4.0</text>
<text x="222.63" y="156.6" text-anchor="middle">4.5</text>
<text x="243.25" y="156.6" text-anchor="middle">5.0</text>
</g>
<text x="145.17" y="170.7" font-size="11.8" text-anchor="middle" fill="#1a1a1a" stroke="#1a1a1a" stroke-width="0.25">SI (mm)</text>
<g fill="none" stroke-width="1" stroke-dasharray="4 2.4">
<polyline stroke="#202020" stroke-dashoffset="1.8" points="299.2,88.2 301.2,93.7 303.3,97.4 305.3,100.1 307.3,102.3 309.4,104.0 311.4,105.5 313.5,106.7 315.5,107.8 317.6,108.8 319.6,109.7 323.7,111.2 327.8,112.5 331.8,113.6 335.9,114.6 340.0,115.5 344.1,116.2 348.2,116.9 352.3,117.6 356.3,118.2 366.6,119.5 376.8,120.5 387.0,121.5 397.2,122.3 407.4,123.0 417.6,123.7 427.8,124.2 438.0,124.8 448.2,125.3 458.4,125.7 468.6,126.1 478.8,126.5 489.0,126.9 499.2,127.3"/>
<polyline stroke="#ff1010" stroke-dashoffset="2.1" points="299.2,82.0 301.2,86.9 303.3,90.3 305.3,92.8 307.3,94.7 309.4,96.4 311.4,97.7 313.5,98.9 315.5,100.0 317.6,100.9 319.6,101.7 323.7,103.2 327.8,104.4 331.8,105.5 335.9,106.4 340.0,107.3 344.1,108.0 348.2,108.7 352.3,109.3 356.3,109.9 366.6,111.1 376.8,112.2 387.0,113.1 397.2,113.9 407.4,114.7 417.6,115.3 427.8,115.9 438.0,116.4 448.2,116.9 458.4,117.4 468.6,117.8 478.8,118.2 489.0,118.6 499.2,119.0"/>
<polyline stroke="#1010ff" stroke-dashoffset="5.3" points="299.2,69.5 301.2,76.8 303.3,81.7 305.3,85.2 307.3,88.0 309.4,90.3 311.4,92.2 313.5,93.9 315.5,95.3 317.6,96.6 319.6,97.7 323.7,99.7 327.8,101.4 331.8,102.8 335.9,104.1 340.0,105.2 344.1,106.2 348.2,107.1 352.3,107.9 356.3,108.7 366.6,110.3 376.8,111.7 387.0,112.9 397.2,113.9 407.4,114.9 417.6,115.7 427.8,116.4 438.0,117.1 448.2,117.7 458.4,118.3 468.6,118.9 478.8,119.4 489.0,119.8 499.2,120.3"/>
<polyline stroke="#ff10ff" stroke-dashoffset="0.2" points="299.2,89.9 301.2,94.5 303.3,97.6 305.3,100.0 307.3,101.8 309.4,103.3 311.4,104.6 313.5,105.7 315.5,106.6 317.6,107.5 319.6,108.3 323.7,109.6 327.8,110.7 331.8,111.7 335.9,112.6 340.0,113.4 344.1,114.1 348.2,114.7 352.3,115.3 356.3,115.8 366.6,116.9 376.8,117.9 387.0,118.8 397.2,119.5 407.4,120.2 417.6,120.8 427.8,121.3 438.0,121.8 448.2,122.2 458.4,122.7 468.6,123.1 478.8,123.4 489.0,123.8 499.2,124.1"/>
<polyline stroke="#008800" stroke-dashoffset="1.1" points="299.2,57.5 301.2,65.0 303.3,70.1 305.3,73.8 307.3,76.7 309.4,79.1 311.4,81.1 313.5,82.8 315.5,84.4 317.6,85.7 319.6,86.9 323.7,89.0 327.8,90.8 331.8,92.3 335.9,93.7 340.0,94.9 344.1,95.9 348.2,96.9 352.3,97.8 356.3,98.6 366.6,100.4 376.8,101.9 387.0,103.2 397.2,104.3 407.4,105.3 417.6,106.2 427.8,107.1 438.0,107.8 448.2,108.5 458.4,109.1 468.6,109.7 478.8,110.3 489.0,110.8 499.2,111.3"/>
<polyline stroke="#101090" stroke-dashoffset="4.1" points="299.2,81.2 301.2,84.1 303.3,86.1 305.3,87.7 307.3,88.9 309.4,89.9 311.4,90.8 313.5,91.6 315.5,92.2 317.6,92.8 319.6,93.4 323.7,94.4 327.8,95.2 331.8,95.9 335.9,96.5 340.0,97.1 344.1,97.6 348.2,98.1 352.3,98.5 356.3,98.9 366.6,99.8 376.8,100.5 387.0,101.2 397.2,101.8 407.4,102.3 417.6,102.8 427.8,103.2 438.0,103.6 448.2,104.0 458.4,104.3 468.6,104.6 478.8,104.9 489.0,105.2 499.2,105.5"/>
<polyline stroke="#8010ff" stroke-dashoffset="2.7" points="299.2,66.1 301.2,70.9 303.3,74.2 305.3,76.7 307.3,78.6 309.4,80.2 311.4,81.6 313.5,82.8 315.5,83.9 317.6,84.8 319.6,85.7 323.7,87.2 327.8,88.4 331.8,89.5 335.9,90.5 340.0,91.4 344.1,92.1 348.2,92.9 352.3,93.5 356.3,94.1 366.6,95.4 376.8,96.6 387.0,97.5 397.2,98.4 407.4,99.2 417.6,99.9 427.8,100.5 438.0,101.1 448.2,101.6 458.4,102.1 468.6,102.6 478.8,103.0 489.0,103.4 499.2,103.8"/>
<polyline stroke="#881088" stroke-dashoffset="0.5" points="299.2,88.3 301.2,90.6 303.3,92.1 305.3,93.3 307.3,94.3 309.4,95.1 311.4,95.8 313.5,96.4 315.5,96.9 317.6,97.4 319.6,97.8 323.7,98.6 327.8,99.2 331.8,99.8 335.9,100.3 340.0,100.7 344.1,101.1 348.2,101.5 352.3,101.9 356.3,102.2 366.6,102.9 376.8,103.5 387.0,104.0 397.2,104.5 407.4,104.9 417.6,105.3 427.8,105.6 438.0,106.0 448.2,106.3 458.4,106.5 468.6,106.8 478.8,107.0 489.0,107.3 499.2,107.5"/>
<polyline stroke="#8a1010" stroke-dashoffset="4.0" points="299.2,61.0 301.2,68.4 303.3,73.3 305.3,76.9 307.3,79.7 309.4,82.1 311.4,84.0 313.5,85.7 315.5,87.2 317.6,88.5 319.6,89.7 323.7,91.8 327.8,93.5 331.8,95.0 335.9,96.3 340.0,97.5 344.1,98.5 348.2,99.5 352.3,100.3 356.3,101.1 366.6,102.8 376.8,104.3 387.0,105.6 397.2,106.7 407.4,107.6 417.6,108.5 427.8,109.3 438.0,110.0 448.2,110.7 458.4,111.3 468.6,111.9 478.8,112.4 489.0,112.9 499.2,113.4"/>
<polyline stroke="#888800" stroke-dashoffset="2.2" points="299.2,49.5 301.2,57.4 303.3,62.7 305.3,66.5 307.3,69.6 309.4,72.1 311.4,74.2 313.5,76.1 315.5,77.7 317.6,79.1 319.6,80.4 323.7,82.6 327.8,84.5 331.8,86.1 335.9,87.5 340.0,88.8 344.1,89.9 348.2,90.9 352.3,91.9 356.3,92.7 366.6,94.6 376.8,96.2 387.0,97.6 397.2,98.8 407.4,99.9 417.6,100.8 427.8,101.7 438.0,102.5 448.2,103.2 458.4,103.9 468.6,104.5 478.8,105.1 489.0,105.7 499.2,106.2"/>
<polyline stroke="#3888c0" stroke-dashoffset="3.5" points="299.2,46.2 301.2,54.6 303.3,60.2 305.3,64.3 307.3,67.5 309.4,70.2 311.4,72.4 313.5,74.3 315.5,76.0 317.6,77.5 319.6,78.9 323.7,81.2 327.8,83.2 331.8,84.9 335.9,86.4 340.0,87.7 344.1,88.9 348.2,90.0 352.3,90.9 356.3,91.8 366.6,93.8 376.8,95.5 387.0,96.9 397.2,98.2 407.4,99.3 417.6,100.3 427.8,101.2 438.0,102.0 448.2,102.8 458.4,103.5 468.6,104.2 478.8,104.8 489.0,105.3 499.2,105.9"/>
<polyline stroke="#10b4b4" stroke-dashoffset="2.5" points="299.2,64.2 301.2,71.6 303.3,76.5 305.3,80.1 307.3,82.9 309.4,85.3 311.4,87.2 313.5,88.9 315.5,90.4 317.6,91.7 319.6,92.9 323.7,94.9 327.8,96.6 331.8,98.1 335.9,99.4 340.0,100.6 344.1,101.6 348.2,102.5 352.3,103.4 356.3,104.2 366.6,105.9 376.8,107.3 387.0,108.5 397.2,109.6 407.4,110.6 417.6,111.4 427.8,112.2 438.0,112.9 448.2,113.6 458.4,114.2 468.6,114.7 478.8,115.3 489.0,115.8 499.2,116.2"/>
<polyline stroke="#c89838" stroke-dashoffset="3.2" points="299.2,72.4 301.2,78.9 303.3,83.2 305.3,86.4 307.3,89.0 309.4,91.0 311.4,92.8 313.5,94.3 315.5,95.6 317.6,96.8 319.6,97.8 323.7,99.6 327.8,101.2 331.8,102.5 335.9,103.6 340.0,104.7 344.1,105.6 348.2,106.4 352.3,107.2 356.3,107.9 366.6,109.4 376.8,110.7 387.0,111.8 397.2,112.8 407.4,113.7 417.6,114.5 427.8,115.2 438.0,115.8 448.2,116.4 458.4,116.9 468.6,117.5 478.8,117.9 489.0,118.4 499.2,118.8"/>
<polyline stroke="#10c848" stroke-dashoffset="3.4" points="299.2,74.8 301.2,81.0 303.3,85.2 305.3,88.3 307.3,90.7 309.4,92.7 311.4,94.3 313.5,95.8 315.5,97.0 317.6,98.2 319.6,99.2 323.7,100.9 327.8,102.4 331.8,103.7 335.9,104.8 340.0,105.8 344.1,106.7 348.2,107.5 352.3,108.2 356.3,108.9 366.6,110.4 376.8,111.6 387.0,112.7 397.2,113.6 407.4,114.5 417.6,115.2 427.8,115.9 438.0,116.5 448.2,117.1 458.4,117.6 468.6,118.1 478.8,118.6 489.0,119.0 499.2,119.4"/>
<polyline stroke="#d040a0" stroke-dashoffset="2.4" points="299.2,86.3 301.2,91.4 303.3,94.9 305.3,97.4 307.3,99.4 309.4,101.1 311.4,102.5 313.5,103.7 315.5,104.7 317.6,105.7 319.6,106.5 323.7,108.0 327.8,109.2 331.8,110.3 335.9,111.2 340.0,112.0 344.1,112.8 348.2,113.5 352.3,114.1 356.3,114.7 366.6,115.9 376.8,117.0 387.0,117.9 397.2,118.7 407.4,119.4 417.6,120.0 427.8,120.6 438.0,121.1 448.2,121.6 458.4,122.1 468.6,122.5 478.8,122.9 489.0,123.2 499.2,123.6"/>
<polyline stroke="#30d4d0" stroke-dashoffset="0.7" points="299.2,75.3 301.2,82.3 303.3,86.9 305.3,90.3 307.3,92.9 309.4,95.1 311.4,96.9 313.5,98.5 315.5,99.9 317.6,101.1 319.6,102.2 323.7,104.1 327.8,105.7 331.8,107.0 335.9,108.2 340.0,109.3 344.1,110.2 348.2,111.1 352.3,111.9 356.3,112.6 366.6,114.1 376.8,115.4 387.0,116.6 397.2,117.5 407.4,118.4 417.6,119.2 427.8,119.9 438.0,120.6 448.2,121.1 458.4,121.7 468.6,122.2 478.8,122.7 489.0,123.1 499.2,123.5"/>
<polyline stroke="#3434e0" stroke-dashoffset="1.1" points="299.2,58.3 301.2,65.4 303.3,70.1 305.3,73.6 307.3,76.4 309.4,78.6 311.4,80.6 313.5,82.2 315.5,83.7 317.6,85.0 319.6,86.1 323.7,88.2 327.8,89.9 331.8,91.3 335.9,92.6 340.0,93.8 344.1,94.8 348.2,95.7 352.3,96.6 356.3,97.4 366.6,99.1 376.8,100.5 387.0,101.8 397.2,102.9 407.4,103.9 417.6,104.7 427.8,105.5 438.0,106.3 448.2,106.9 458.4,107.6 468.6,108.1 478.8,108.7 489.0,109.2 499.2,109.6"/>
<polyline stroke="#a4c808" stroke-dashoffset="5.3" points="299.2,27.1 301.2,35.0 303.3,40.3 305.3,44.3 307.3,47.4 309.4,50.0 311.4,52.2 313.5,54.1 315.5,55.8 317.6,57.3 319.6,58.6 323.7,61.0 327.8,63.0 331.8,64.7 335.9,66.2 340.0,67.5 344.1,68.8 348.2,69.9 352.3,70.9 356.3,71.8 366.6,73.8 376.8,75.6 387.0,77.1 397.2,78.4 407.4,79.6 417.6,80.6 427.8,81.6 438.0,82.5 448.2,83.3 458.4,84.0 468.6,84.7 478.8,85.4 489.0,86.0 499.2,86.6"/>
<polyline stroke="#808080" stroke-dashoffset="3.3" points="299.2,30.0 301.2,37.8 303.3,43.1 305.3,47.0 307.3,50.1 309.4,52.7 311.4,54.9 313.5,56.8 315.5,58.4 317.6,59.9 319.6,61.2 323.7,63.5 327.8,65.5 331.8,67.2 335.9,68.7 340.0,70.0 344.1,71.2 348.2,72.3 352.3,73.3 356.3,74.2 366.6,76.2 376.8,77.9 387.0,79.4 397.2,80.7 407.4,81.9 417.6,82.9 427.8,83.9 438.0,84.7 448.2,85.5 458.4,86.3 468.6,86.9 478.8,87.6 489.0,88.2 499.2,88.8"/>
<polyline stroke="#c08060" stroke-dashoffset="0.7" points="299.2,49.8 301.2,58.8 303.3,64.7 305.3,69.1 307.3,72.5 309.4,75.3 311.4,77.6 313.5,79.7 315.5,81.4 317.6,83.0 319.6,84.4 323.7,86.8 327.8,88.8 331.8,90.6 335.9,92.1 340.0,93.5 344.1,94.7 348.2,95.8 352.3,96.8 356.3,97.7 366.6,99.7 376.8,101.4 387.0,102.9 397.2,104.1 407.4,105.3 417.6,106.3 427.8,107.2 438.0,108.0 448.2,108.8 458.4,109.5 468.6,110.1 478.8,110.7 489.0,111.3 499.2,111.8"/>
<polyline stroke="#28c428" stroke-dashoffset="5.2" points="299.2,46.3 301.2,54.9 303.3,60.6 305.3,64.8 307.3,68.1 309.4,70.9 311.4,73.1 313.5,75.1 315.5,76.8 317.6,78.4 319.6,79.7 323.7,82.1 327.8,84.1 331.8,85.8 335.9,87.3 340.0,88.7 344.1,89.9 348.2,91.0 352.3,92.0 356.3,92.9 366.6,94.9 376.8,96.6 387.0,98.0 397.2,99.3 407.4,100.4 417.6,101.4 427.8,102.3 438.0,103.2 448.2,104.0 458.4,104.7 468.6,105.3 478.8,105.9 489.0,106.5 499.2,107.0"/>
<polyline stroke="#10b0e0" stroke-dashoffset="1.5" points="299.2,66.4 301.2,73.4 303.3,78.0 305.3,81.5 307.3,84.2 309.4,86.4 311.4,88.3 313.5,89.9 315.5,91.3 317.6,92.5 319.6,93.7 323.7,95.6 327.8,97.3 331.8,98.7 335.9,99.9 340.0,101.0 344.1,102.0 348.2,102.9 352.3,103.7 356.3,104.5 366.6,106.1 376.8,107.5 387.0,108.7 397.2,109.7 407.4,110.7 417.6,111.5 427.8,112.2 438.0,112.9 448.2,113.6 458.4,114.1 468.6,114.7 478.8,115.2 489.0,115.7 499.2,116.1"/>
<polyline stroke="#4060d0" stroke-dashoffset="0.6" points="299.2,52.6 301.2,60.3 303.3,65.5 305.3,69.3 307.3,72.3 309.4,74.8 311.4,76.9 313.5,78.7 315.5,80.3 317.6,81.7 319.6,82.9 323.7,85.1 327.8,86.9 331.8,88.5 335.9,89.9 340.0,91.1 344.1,92.3 348.2,93.3 352.3,94.2 356.3,95.0 366.6,96.9 376.8,98.4 387.0,99.8 397.2,101.0 407.4,102.0 417.6,102.9 427.8,103.8 438.0,104.6 448.2,105.3 458.4,105.9 468.6,106.6 478.8,107.1 489.0,107.7 499.2,108.2"/>
<polyline stroke="#10e010" stroke-dashoffset="3.2" points="299.2,43.4 301.2,52.9 303.3,59.3 305.3,63.9 307.3,67.6 309.4,70.5 311.4,73.0 313.5,75.2 315.5,77.1 317.6,78.7 319.6,80.2 323.7,82.8 327.8,85.0 331.8,86.8 335.9,88.5 340.0,89.9 344.1,91.2 348.2,92.4 352.3,93.4 356.3,94.4 366.6,96.5 376.8,98.3 387.0,99.9 397.2,101.2 407.4,102.4 417.6,103.5 427.8,104.4 438.0,105.3 448.2,106.1 458.4,106.9 468.6,107.6 478.8,108.2 489.0,108.8 499.2,109.4"/>
<polyline stroke="#10dcf0" stroke-dashoffset="1.5" points="299.2,39.2 301.2,44.6 303.3,48.3 305.3,51.0 307.3,53.3 309.4,55.1 311.4,56.7 313.5,58.1 315.5,59.3 317.6,60.3 319.6,61.3 323.7,63.0 327.8,64.5 331.8,65.8 335.9,66.9 340.0,67.9 344.1,68.8 348.2,69.6 352.3,70.4 356.3,71.1 366.6,72.6 376.8,73.9 387.0,75.1 397.2,76.1 407.4,77.0 417.6,77.8 427.8,78.6 438.0,79.2 448.2,79.9 458.4,80.5 468.6,81.0 478.8,81.5 489.0,82.0 499.2,82.5"/>
<polyline stroke="#f0f000" stroke-dashoffset="2.9" points="299.2,20.3 301.2,28.8 303.3,34.6 305.3,38.9 307.3,42.3 309.4,45.1 311.4,47.5 313.5,49.5 315.5,51.3 317.6,53.0 319.6,54.4 323.7,56.9 327.8,59.1 331.8,60.9 335.9,62.5 340.0,64.0 344.1,65.3 348.2,66.5 352.3,67.6 356.3,68.6 366.6,70.7 376.8,72.6 387.0,74.2 397.2,75.6 407.4,76.9 417.6,78.0 427.8,79.0 438.0,80.0 448.2,80.9 458.4,81.7 468.6,82.4 478.8,83.1 489.0,83.8 499.2,84.4"/>
<polyline stroke="#109070" stroke-dashoffset="3.3" points="299.2,33.7 301.2,41.2 303.3,46.2 305.3,49.9 307.3,52.9 309.4,55.4 311.4,57.4 313.5,59.2 315.5,60.8 317.6,62.2 319.6,63.5 323.7,65.7 327.8,67.6 331.8,69.2 335.9,70.7 340.0,71.9 344.1,73.1 348.2,74.1 352.3,75.1 356.3,76.0 366.6,77.9 376.8,79.6 387.0,81.0 397.2,82.2 407.4,83.3 417.6,84.4 427.8,85.3 438.0,86.1 448.2,86.9 458.4,87.6 468.6,88.2 478.8,88.9 489.0,89.5 499.2,90.0"/>
<polyline stroke="#1010d0" stroke-dashoffset="1.4" points="299.2,78.6 301.2,85.3 303.3,89.8 305.3,93.0 307.3,95.6 309.4,97.7 311.4,99.4 313.5,100.9 315.5,102.2 317.6,103.4 319.6,104.4 323.7,106.3 327.8,107.8 331.8,109.1 335.9,110.2 340.0,111.2 344.1,112.1 348.2,113.0 352.3,113.7 356.3,114.4 366.6,115.9 376.8,117.1 387.0,118.2 397.2,119.2 407.4,120.0 417.6,120.8 427.8,121.4 438.0,122.1 448.2,122.6 458.4,123.2 468.6,123.6 478.8,124.1 489.0,124.5 499.2,124.9"/>
<polyline stroke="#ff8810" stroke-dashoffset="3.4" points="299.2,24.4 301.2,33.8 303.3,40.1 305.3,44.7 307.3,48.4 309.4,51.4 311.4,53.9 313.5,56.1 315.5,58.1 317.6,59.8 319.6,61.3 323.7,64.0 327.8,66.2 331.8,68.2 335.9,69.9 340.0,71.4 344.1,72.7 348.2,74.0 352.3,75.1 356.3,76.1 366.6,78.4 376.8,80.3 387.0,82.0 397.2,83.5 407.4,84.8 417.6,85.9 427.8,87.0 438.0,87.9 448.2,88.8 458.4,89.6 468.6,90.4 478.8,91.1 489.0,91.8 499.2,92.4"/>
</g>
<g>
<rect x="297.65" y="90.66" width="3.06" height="3.06" fill="#000000"/>
<rect x="313.99" y="101.61" width="3.06" height="3.06" fill="#000000"/>
<rect x="334.4" y="108.24" width="3.06" height="3.06" fill="#000000"/>
<rect x="354.82" y="113.14" width="3.06" height="3.06" fill="#000000"/>
<rect x="375.23" y="117.46" width="3.06" height="3.06" fill="#000000"/>
<rect x="416.06" y="123.22" width="3.06" height="3.06" fill="#000000"/>
<rect x="456.89" y="127.55" width="3.06" height="3.06" fill="#000000"/>
<rect x="497.72" y="132.73" width="3.06" height="3.06" fill="#000000"/>
<circle cx="299.18" cy="84.11" r="1.71" fill="#ff0000"/>
<circle cx="315.52" cy="96.25" r="1.71" fill="#ff0000"/>
<circle cx="335.93" cy="105.62" r="1.71" fill="#ff0000"/>
<circle cx="356.35" cy="108.5" r="1.71" fill="#ff0000"/>
<circle cx="376.76" cy="112.36" r="1.71" fill="#ff0000"/>
<circle cx="417.59" cy="115.24" r="1.71" fill="#ff0000"/>
<circle cx="458.42" cy="119.08" r="1.71" fill="#ff0000"/>
<circle cx="499.25" cy="121.23" r="1.71" fill="#ff0000"/>
<polygon points="299.18,70.32 297.11,74.05 301.25,74.05" fill="#0000ff"/>
<polygon points="315.52,88.2 313.45,91.92 317.59,91.92" fill="#0000ff"/>
<polygon points="335.93,99.78 333.86,103.51 338,103.51" fill="#0000ff"/>
<polygon points="356.35,105.29 354.28,109.02 358.42,109.02" fill="#0000ff"/>
<polygon points="376.76,109.44 374.69,113.16 378.83,113.16" fill="#0000ff"/>
<polygon points="417.59,114.37 415.52,118.09 419.66,118.09" fill="#0000ff"/>
<polygon points="458.42,118.84 456.35,122.57 460.49,122.57" fill="#0000ff"/>
<polygon points="499.25,121.4 497.18,125.13 501.32,125.13" fill="#0000ff"/>
<polygon points="299.18,94.09 297.11,90.37 301.25,90.37" fill="#ff00ff"/>
<polygon points="315.52,105.03 313.45,101.3 317.59,101.3" fill="#ff00ff"/>
<polygon points="335.93,113.61 333.86,109.89 338,109.89" fill="#ff00ff"/>
<polygon points="356.35,116.45 354.28,112.72 358.42,112.72" fill="#ff00ff"/>
<polygon points="376.76,120.15 374.69,116.43 378.83,116.43" fill="#ff00ff"/>
<polygon points="417.59,123.19 415.52,119.47 419.66,119.47" fill="#ff00ff"/>
<polygon points="458.42,126.12 456.35,122.4 460.49,122.4" fill="#ff00ff"/>
<polygon points="499.25,128.5 497.18,124.77 501.32,124.77" fill="#ff00ff"/>
<polygon points="299.18,59.34 301.25,61.41 299.18,63.48 297.11,61.41" fill="#008000"/>
<polygon points="315.52,74.33 317.59,76.4 315.52,78.47 313.45,76.4" fill="#008000"/>
<polygon points="335.93,90.73 338,92.8 335.93,94.87 333.86,92.8" fill="#008000"/>
<polygon points="356.35,95.31 358.42,97.38 356.35,99.45 354.28,97.38" fill="#008000"/>
<polygon points="376.76,99.57 378.83,101.64 376.76,103.71 374.69,101.64" fill="#008000"/>
<polygon points="417.59,104.4 419.66,106.47 417.59,108.54 415.52,106.47" fill="#008000"/>
<polygon points="458.42,109.73 460.49,111.8 458.42,113.87 456.35,111.8" fill="#008000"/>
<polygon points="499.25,113.33 501.32,115.4 499.25,117.47 497.18,115.4" fill="#008000"/>
<polygon points="297.11,82.41 300.84,80.34 300.84,84.48" fill="#000080"/>
<polygon points="313.45,90.27 317.17,88.2 317.17,92.34" fill="#000080"/>
<polygon points="333.86,96.38 337.59,94.31 337.59,98.45" fill="#000080"/>
<polygon points="354.28,97.95 358,95.88 358,100.02" fill="#000080"/>
<polygon points="374.69,100.59 378.42,98.52 378.42,102.66" fill="#000080"/>
<polygon points="415.52,102.91 419.25,100.84 419.25,104.98" fill="#000080"/>
<polygon points="456.35,105.17 460.08,103.1 460.08,107.24" fill="#000080"/>
<polygon points="497.18,106.37 500.91,104.3 500.91,108.44" fill="#000080"/>
<polygon points="301.25,68.65 297.53,66.58 297.53,70.72" fill="#8000ff"/>
<polygon points="317.59,78.93 313.86,76.86 313.86,81" fill="#8000ff"/>
<polygon points="338,89.74 334.27,87.67 334.27,91.81" fill="#8000ff"/>
<polygon points="358.42,93.4 354.69,91.33 354.69,95.47" fill="#8000ff"/>
<polygon points="378.83,97.07 375.1,95 375.1,99.14" fill="#8000ff"/>
<polygon points="419.66,100.33 415.93,98.26 415.93,102.4" fill="#8000ff"/>
<polygon points="460.49,103.61 456.76,101.54 456.76,105.68" fill="#8000ff"/>
<polygon points="501.32,105.3 497.59,103.23 497.59,107.37" fill="#8000ff"/>
<circle cx="299.18" cy="89.36" r="1.71" fill="#800080"/>
<circle cx="315.52" cy="94.95" r="1.71" fill="#800080"/>
<circle cx="335.93" cy="100.32" r="1.71" fill="#800080"/>
<circle cx="356.35" cy="101.77" r="1.71" fill="#800080"/>
<circle cx="376.76" cy="103.49" r="1.71" fill="#800080"/>
<circle cx="417.59" cy="105.38" r="1.71" fill="#800080"/>
<circle cx="458.42" cy="107.08" r="1.71" fill="#800080"/>
<circle cx="499.25" cy="108.1" r="1.71" fill="#800080"/>
<polygon points="299.18,62.19 299.66,63.51 301.07,63.56 299.95,64.42 300.35,65.77 299.18,64.98 298.02,65.77 298.41,64.42 297.3,63.56 298.71,63.51" fill="#800000"/>
<polygon points="315.52,79.06 315.99,80.38 317.4,80.42 316.29,81.29 316.68,82.64 315.52,81.85 314.35,82.64 314.74,81.29 313.63,80.42 315.04,80.38" fill="#800000"/>
<polygon points="335.93,93.08 336.41,94.4 337.81,94.45 336.7,95.31 337.09,96.66 335.93,95.87 334.77,96.66 335.16,95.31 334.05,94.45 335.45,94.4" fill="#800000"/>
<polygon points="356.35,97.66 356.82,98.98 358.23,99.02 357.12,99.89 357.51,101.24 356.35,100.45 355.18,101.24 355.57,99.89 354.46,99.02 355.87,98.98" fill="#800000"/>
<polygon points="376.76,102.67 377.24,103.99 378.64,104.04 377.53,104.9 377.92,106.25 376.76,105.46 375.6,106.25 375.99,104.9 374.88,104.04 376.28,103.99" fill="#800000"/>
<polygon points="417.59,107.23 418.07,108.56 419.47,108.6 418.36,109.46 418.75,110.81 417.59,110.02 416.43,110.81 416.82,109.46 415.71,108.6 417.11,108.56" fill="#800000"/>
<polygon points="458.42,111.29 458.9,112.61 460.3,112.66 459.19,113.52 459.58,114.87 458.42,114.08 457.26,114.87 457.65,113.52 456.54,112.66 457.94,112.61" fill="#800000"/>
<polygon points="499.25,114.68 499.73,116 501.13,116.05 500.02,116.91 500.41,118.26 499.25,117.47 498.09,118.26 498.48,116.91 497.37,116.05 498.77,116" fill="#800000"/>
<circle cx="299.18" cy="53.29" r="1.71" fill="#808000"/>
<circle cx="315.52" cy="70.28" r="1.71" fill="#808000"/>
<circle cx="335.93" cy="86.05" r="1.71" fill="#808000"/>
<circle cx="356.35" cy="91.78" r="1.71" fill="#808000"/>
<circle cx="376.76" cy="96.41" r="1.71" fill="#808000"/>
<circle cx="417.59" cy="100.79" r="1.71" fill="#808000"/>
<circle cx="458.42" cy="106.55" r="1.71" fill="#808000"/>
<circle cx="499.25" cy="110.04" r="1.71" fill="#808000"/>
<circle cx="299.18" cy="49.74" r="1.71" fill="#2060b0"/>
<circle cx="315.52" cy="69.66" r="1.71" fill="#2060b0"/>
<circle cx="335.93" cy="84.7" r="1.71" fill="#2060b0"/>
<circle cx="356.35" cy="90.2" r="1.71" fill="#2060b0"/>
<circle cx="376.76" cy="95.3" r="1.71" fill="#2060b0"/>
<circle cx="417.59" cy="100.03" r="1.71" fill="#2060b0"/>
<circle cx="458.42" cy="106.32" r="1.71" fill="#2060b0"/>
<circle cx="499.25" cy="110.29" r="1.71" fill="#2060b0"/>
<path d="M297.56 67.46H300.8M299.18 65.84V69.08" stroke="#70c8d8" stroke-width="0.7" fill="none"/>
<path d="M313.9 84.01H317.14M315.52 82.39V85.63" stroke="#70c8d8" stroke-width="0.7" fill="none"/>
<path d="M334.31 97.98H337.55M335.93 96.36V99.6" stroke="#70c8d8" stroke-width="0.7" fill="none"/>
<path d="M354.73 102.81H357.97M356.35 101.19V104.43" stroke="#70c8d8" stroke-width="0.7" fill="none"/>
<path d="M375.14 107.25H378.38M376.76 105.63V108.87" stroke="#70c8d8" stroke-width="0.7" fill="none"/>
<path d="M415.97 111.8H419.21M417.59 110.18V113.42" stroke="#70c8d8" stroke-width="0.7" fill="none"/>
<path d="M456.8 116.47H460.04M458.42 114.85V118.09" stroke="#70c8d8" stroke-width="0.7" fill="none"/>
<path d="M497.63 120.1H500.87M499.25 118.48V121.72" stroke="#70c8d8" stroke-width="0.7" fill="none"/>
<path d="M297.56 73.76L300.8 77M297.56 77L300.8 73.76" stroke="#e0a060" stroke-width="0.7" fill="none"/>
<path d="M313.9 88.08L317.14 91.32M313.9 91.32L317.14 88.08" stroke="#e0a060" stroke-width="0.7" fill="none"/>
<path d="M334.31 100.88L337.55 104.12M334.31 104.12L337.55 100.88" stroke="#e0a060" stroke-width="0.7" fill="none"/>
<path d="M354.73 105.06L357.97 108.3M354.73 108.3L357.97 105.06" stroke="#e0a060" stroke-width="0.7" fill="none"/>
<path d="M375.14 108.97L378.38 112.21M375.14 112.21L378.38 108.97" stroke="#e0a060" stroke-width="0.7" fill="none"/>
<path d="M415.97 113.18L419.21 116.42M415.97 116.42L419.21 113.18" stroke="#e0a060" stroke-width="0.7" fill="none"/>
<path d="M456.8 117.61L460.04 120.85M456.8 120.85L460.04 117.61" stroke="#e0a060" stroke-width="0.7" fill="none"/>
<path d="M497.63 120.36L500.87 123.6M497.63 123.6L500.87 120.36" stroke="#e0a060" stroke-width="0.7" fill="none"/>
<path d="M297.56 76.59L300.8 79.83M297.56 79.83L300.8 76.59M299.18 76.59V79.83" stroke="#40d060" stroke-width="0.7" fill="none"/>
<path d="M313.9 88.67L317.14 91.91M313.9 91.91L317.14 88.67M315.52 88.67V91.91" stroke="#40d060" stroke-width="0.7" fill="none"/>
<path d="M334.31 101.77L337.55 105.01M334.31 105.01L337.55 101.77M335.93 101.77V105.01" stroke="#40d060" stroke-width="0.7" fill="none"/>
<path d="M354.73 105.85L357.97 109.09M354.73 109.09L357.97 105.85M356.35 105.85V109.09" stroke="#40d060" stroke-width="0.7" fill="none"/>
<path d="M375.14 110.63L378.38 113.87M375.14 113.87L378.38 110.63M376.76 110.63V113.87" stroke="#40d060" stroke-width="0.7" fill="none"/>
<path d="M415.97 114.51L419.21 117.75M415.97 117.75L419.21 114.51M417.59 114.51V117.75" stroke="#40d060" stroke-width="0.7" fill="none"/>
<path d="M456.8 117.66L460.04 120.9M456.8 120.9L460.04 117.66M458.42 117.66V120.9" stroke="#40d060" stroke-width="0.7" fill="none"/>
<path d="M497.63 121.35L500.87 124.59M497.63 124.59L500.87 121.35M499.25 121.35V124.59" stroke="#40d060" stroke-width="0.7" fill="none"/>
<path d="M297.56 88.22H300.8" stroke="#f080a0" stroke-width="0.7" fill="none"/>
<path d="M313.9 101.3H317.14" stroke="#f080a0" stroke-width="0.7" fill="none"/>
<path d="M334.31 110.65H337.55" stroke="#f080a0" stroke-width="0.7" fill="none"/>
<path d="M354.73 113.02H357.97" stroke="#f080a0" stroke-width="0.7" fill="none"/>
<path d="M375.14 117.2H378.38" stroke="#f080a0" stroke-width="0.7" fill="none"/>
<path d="M415.97 119.96H419.21" stroke="#f080a0" stroke-width="0.7" fill="none"/>
<path d="M456.8 123.56H460.04" stroke="#f080a0" stroke-width="0.7" fill="none"/>
<path d="M497.63 125.89H500.87" stroke="#f080a0" stroke-width="0.7" fill="none"/>
<path d="M299.18 76.48V79.72" stroke="#a0e0d8" stroke-width="0.7" fill="none"/>
<path d="M315.52 92.88V96.12" stroke="#a0e0d8" stroke-width="0.7" fill="none"/>
<path d="M335.93 105.05V108.29" stroke="#a0e0d8" stroke-width="0.7" fill="none"/>
<path d="M356.35 109.68V112.92" stroke="#a0e0d8" stroke-width="0.7" fill="none"/>
<path d="M376.76 113.46V116.7" stroke="#a0e0d8" stroke-width="0.7" fill="none"/>
<path d="M417.59 118.27V121.51" stroke="#a0e0d8" stroke-width="0.7" fill="none"/>
<path d="M458.42 122.17V125.41" stroke="#a0e0d8" stroke-width="0.7" fill="none"/>
<path d="M499.25 125.44V128.68" stroke="#a0e0d8" stroke-width="0.7" fill="none"/>
<rect x="297.65" y="59.53" width="3.06" height="3.06" fill="#2030b0"/>
<rect x="313.99" y="77.18" width="3.06" height="3.06" fill="#2030b0"/>
<rect x="334.4" y="90" width="3.06" height="3.06" fill="#2030b0"/>
<rect x="354.82" y="94.46" width="3.06" height="3.06" fill="#2030b0"/>
<rect x="375.23" y="98.62" width="3.06" height="3.06" fill="#2030b0"/>
<rect x="416.06" y="102.3" width="3.06" height="3.06" fill="#2030b0"/>
<rect x="456.89" y="109.14" width="3.06" height="3.06" fill="#2030b0"/>
<rect x="497.72" y="111.33" width="3.06" height="3.06" fill="#2030b0"/>
<polygon points="299.18,29.03 301.25,31.1 299.18,33.17 297.11,31.1" fill="#80a010"/>
<polygon points="315.52,46.43 317.59,48.5 315.52,50.57 313.45,48.5" fill="#80a010"/>
<polygon points="335.93,62.99 338,65.06 335.93,67.13 333.86,65.06" fill="#80a010"/>
<polygon points="356.35,67.73 358.42,69.8 356.35,71.87 354.28,69.8" fill="#80a010"/>
<polygon points="376.76,73.93 378.83,76 376.76,78.07 374.69,76" fill="#80a010"/>
<polygon points="417.59,78.65 419.66,80.72 417.59,82.79 415.52,80.72" fill="#80a010"/>
<polygon points="458.42,84.5 460.49,86.57 458.42,88.64 456.35,86.57" fill="#80a010"/>
<polygon points="499.25,88.29 501.32,90.36 499.25,92.43 497.18,90.36" fill="#80a010"/>
<polygon points="299.18,32.06 297.11,35.79 301.25,35.79" fill="#606060"/>
<polygon points="315.52,48.45 313.45,52.18 317.59,52.18" fill="#606060"/>
<polygon points="335.93,65.5 333.86,69.22 338,69.22" fill="#606060"/>
<polygon points="356.35,70.64 354.28,74.37 358.42,74.37" fill="#606060"/>
<polygon points="376.76,75.96 374.69,79.69 378.83,79.69" fill="#606060"/>
<polygon points="417.59,81.93 415.52,85.66 419.66,85.66" fill="#606060"/>
<polygon points="458.42,86.18 456.35,89.91 460.49,89.91" fill="#606060"/>
<polygon points="499.25,90.28 497.18,94.01 501.32,94.01" fill="#606060"/>
<polygon points="299.18,55.77 297.11,52.05 301.25,52.05" fill="#905050"/>
<polygon points="315.52,75.11 313.45,71.38 317.59,71.38" fill="#905050"/>
<polygon points="335.93,93.13 333.86,89.41 338,89.41" fill="#905050"/>
<polygon points="356.35,98.58 354.28,94.85 358.42,94.85" fill="#905050"/>
<polygon points="376.76,103.62 374.69,99.89 378.83,99.89" fill="#905050"/>
<polygon points="417.59,109.2 415.52,105.47 419.66,105.47" fill="#905050"/>
<polygon points="458.42,114.34 456.35,110.61 460.49,110.61" fill="#905050"/>
<polygon points="499.25,117.65 497.18,113.92 501.32,113.92" fill="#905050"/>
<polygon points="299.18,48.3 301.25,50.37 299.18,52.44 297.11,50.37" fill="#408040"/>
<polygon points="315.52,67.32 317.59,69.39 315.52,71.46 313.45,69.39" fill="#408040"/>
<polygon points="335.93,83.19 338,85.26 335.93,87.33 333.86,85.26" fill="#408040"/>
<polygon points="356.35,88.44 358.42,90.51 356.35,92.58 354.28,90.51" fill="#408040"/>
<polygon points="376.76,94.84 378.83,96.91 376.76,98.98 374.69,96.91" fill="#408040"/>
<polygon points="417.59,100.16 419.66,102.23 417.59,104.3 415.52,102.23" fill="#408040"/>
<polygon points="458.42,105.9 460.49,107.97 458.42,110.04 456.35,107.97" fill="#408040"/>
<polygon points="499.25,109.13 501.32,111.2 499.25,113.27 497.18,111.2" fill="#408040"/>
<polygon points="297.11,69.02 300.84,66.95 300.84,71.09" fill="#20a0d0"/>
<polygon points="313.45,86.57 317.17,84.5 317.17,88.64" fill="#20a0d0"/>
<polygon points="333.86,98.76 337.59,96.69 337.59,100.83" fill="#20a0d0"/>
<polygon points="354.28,102.51 358,100.44 358,104.58" fill="#20a0d0"/>
<polygon points="374.69,107.53 378.42,105.46 378.42,109.6" fill="#20a0d0"/>
<polygon points="415.52,111.56 419.25,109.49 419.25,113.63" fill="#20a0d0"/>
<polygon points="456.35,116.53 460.08,114.46 460.08,118.6" fill="#20a0d0"/>
<polygon points="497.18,119.26 500.91,117.19 500.91,121.33" fill="#20a0d0"/>
<polygon points="301.25,56.31 297.53,54.24 297.53,58.38" fill="#1040a0"/>
<polygon points="317.59,72.6 313.86,70.53 313.86,74.67" fill="#1040a0"/>
<polygon points="338,88.75 334.27,86.68 334.27,90.82" fill="#1040a0"/>
<polygon points="358.42,94.23 354.69,92.16 354.69,96.3" fill="#1040a0"/>
<polygon points="378.83,98.66 375.1,96.59 375.1,100.73" fill="#1040a0"/>
<polygon points="419.66,103 415.93,100.93 415.93,105.07" fill="#1040a0"/>
<polygon points="460.49,108.33 456.76,106.26 456.76,110.4" fill="#1040a0"/>
<polygon points="501.32,111.95 497.59,109.88 497.59,114.02" fill="#1040a0"/>
<circle cx="299.18" cy="47.82" r="1.71" fill="#000000"/>
<circle cx="315.52" cy="68.9" r="1.71" fill="#000000"/>
<circle cx="335.93" cy="85.04" r="1.71" fill="#000000"/>
<circle cx="356.35" cy="92.6" r="1.71" fill="#000000"/>
<circle cx="376.76" cy="98.13" r="1.71" fill="#000000"/>
<circle cx="417.59" cy="104.74" r="1.71" fill="#000000"/>
<circle cx="458.42" cy="110.96" r="1.71" fill="#000000"/>
<circle cx="499.25" cy="114.12" r="1.71" fill="#000000"/>
<polygon points="299.18,39.43 299.66,40.75 301.07,40.8 299.95,41.66 300.35,43.01 299.18,42.22 298.02,43.01 298.41,41.66 297.3,40.8 298.71,40.75" fill="#ff0000"/>
<polygon points="315.52,53.6 315.99,54.93 317.4,54.97 316.29,55.83 316.68,57.18 315.52,56.39 314.35,57.18 314.74,55.83 313.63,54.97 315.04,54.93" fill="#ff0000"/>
<polygon points="335.93,64.27 336.41,65.6 337.81,65.64 336.7,66.5 337.09,67.86 335.93,67.06 334.77,67.86 335.16,66.5 334.05,65.64 335.45,65.6" fill="#ff0000"/>
<polygon points="356.35,67.82 356.82,69.14 358.23,69.18 357.12,70.05 357.51,71.4 356.35,70.61 355.18,71.4 355.57,70.05 354.46,69.18 355.87,69.14" fill="#ff0000"/>
<polygon points="376.76,72.06 377.24,73.38 378.64,73.42 377.53,74.29 377.92,75.64 376.76,74.85 375.6,75.64 375.99,74.29 374.88,73.42 376.28,73.38" fill="#ff0000"/>
<polygon points="417.59,75.63 418.07,76.95 419.47,77 418.36,77.86 418.75,79.21 417.59,78.42 416.43,79.21 416.82,77.86 415.71,77 417.11,76.95" fill="#ff0000"/>
<polygon points="458.42,79.83 458.9,81.16 460.3,81.2 459.19,82.06 459.58,83.42 458.42,82.62 457.26,83.42 457.65,82.06 456.54,81.2 457.94,81.16" fill="#ff0000"/>
<polygon points="499.25,82.67 499.73,84 501.13,84.04 500.02,84.9 500.41,86.25 499.25,85.46 498.09,86.25 498.48,84.9 497.37,84.04 498.77,84" fill="#ff0000"/>
<circle cx="299.18" cy="24.17" r="2.09" fill="#0000ff"/>
<circle cx="315.52" cy="44.06" r="2.09" fill="#0000ff"/>
<circle cx="335.93" cy="61.35" r="2.09" fill="#0000ff"/>
<circle cx="356.35" cy="66.83" r="2.09" fill="#0000ff"/>
<circle cx="376.76" cy="72.88" r="2.09" fill="#0000ff"/>
<circle cx="417.59" cy="78.21" r="2.09" fill="#0000ff"/>
<circle cx="458.42" cy="84.12" r="2.09" fill="#0000ff"/>
<circle cx="499.25" cy="88.15" r="2.09" fill="#0000ff"/>
<circle cx="299.18" cy="37.14" r="1.71" fill="#ff00ff"/>
<circle cx="315.52" cy="55.01" r="1.71" fill="#ff00ff"/>
<circle cx="335.93" cy="69.13" r="1.71" fill="#ff00ff"/>
<circle cx="356.35" cy="74.61" r="1.71" fill="#ff00ff"/>
<circle cx="376.76" cy="78.64" r="1.71" fill="#ff00ff"/>
<circle cx="417.59" cy="84.98" r="1.71" fill="#ff00ff"/>
<circle cx="458.42" cy="90.17" r="1.71" fill="#ff00ff"/>
<circle cx="499.25" cy="93.34" r="1.71" fill="#ff00ff"/>
<path d="M297.56 81.43H300.8" stroke="#40c040" stroke-width="0.7" fill="none"/>
<path d="M313.9 96.82H317.14" stroke="#40c040" stroke-width="0.7" fill="none"/>
<path d="M334.31 108.51H337.55" stroke="#40c040" stroke-width="0.7" fill="none"/>
<path d="M354.73 113.21H357.97" stroke="#40c040" stroke-width="0.7" fill="none"/>
<path d="M375.14 117.34H378.38" stroke="#40c040" stroke-width="0.7" fill="none"/>
<path d="M415.97 121.57H419.21" stroke="#40c040" stroke-width="0.7" fill="none"/>
<path d="M456.8 124.98H460.04" stroke="#40c040" stroke-width="0.7" fill="none"/>
<path d="M497.63 128.19H500.87" stroke="#40c040" stroke-width="0.7" fill="none"/>
<path d="M297.56 27.21L300.8 30.45M297.56 30.45L300.8 27.21" stroke="#9090e0" stroke-width="0.7" fill="none"/>
<path d="M313.9 48.81L317.14 52.05M313.9 52.05L317.14 48.81" stroke="#9090e0" stroke-width="0.7" fill="none"/>
<path d="M334.31 65.59L337.55 68.83M334.31 68.83L337.55 65.59" stroke="#9090e0" stroke-width="0.7" fill="none"/>
<path d="M354.73 72.18L357.97 75.42M354.73 75.42L357.97 72.18" stroke="#9090e0" stroke-width="0.7" fill="none"/>
<path d="M375.14 78.8L378.38 82.04M375.14 82.04L378.38 78.8" stroke="#9090e0" stroke-width="0.7" fill="none"/>
<path d="M415.97 85.67L419.21 88.91M415.97 88.91L419.21 85.67" stroke="#9090e0" stroke-width="0.7" fill="none"/>
<path d="M456.8 90.68L460.04 93.92M456.8 93.92L460.04 90.68" stroke="#9090e0" stroke-width="0.7" fill="none"/>
<path d="M497.63 95.52L500.87 98.76M497.63 98.76L500.87 95.52" stroke="#9090e0" stroke-width="0.7" fill="none"/>
</g>
<path d="M295.1 3.1V141.2M294.5 140.6H510.06M290.5 133.4H295.1M290.5 104.58H295.1M290.5 75.76H295.1M290.5 46.94H295.1M290.5 18.12H295.1M292.5 118.99H295.1M292.5 90.17H295.1M292.5 61.35H295.1M292.5 32.53H295.1M292.5 3.71H295.1M295.1 140.6V145.4M315.52 140.6V145.4M335.93 140.6V145.4M356.35 140.6V145.4M376.76 140.6V145.4M397.18 140.6V145.4M417.59 140.6V145.4M438 140.6V145.4M458.42 140.6V145.4M478.84 140.6V145.4M499.25 140.6V145.4M305.31 140.6V143.3M325.72 140.6V143.3M346.14 140.6V143.3M366.55 140.6V143.3M386.97 140.6V143.3M407.38 140.6V143.3M427.8 140.6V143.3M448.21 140.6V143.3M468.63 140.6V143.3M489.04 140.6V143.3M509.46 140.6V143.3" stroke="#111" stroke-width="1.25" fill="none"/>
<g font-size="10.6" fill="#1a1a1a" stroke="#1a1a1a" stroke-width="0.22">
<text x="288.2" y="136.9" text-anchor="end">0.1</text>
<text x="288.2" y="108.08" text-anchor="end">0.2</text>
<text x="288.2" y="79.26" text-anchor="end">0.3</text>
<text x="288.2" y="50.44" text-anchor="end">0.4</text>
<text x="288.2" y="21.62" text-anchor="end">0.5</text>
<text x="295.1" y="156.3" text-anchor="middle">0.0</text>
<text x="315.52" y="156.3" text-anchor="middle">0.5</text>
<text x="335.93" y="156.3" text-anchor="middle">1.0</text>
<text x="356.35" y="156.3" text-anchor="middle">1.5</text>
<text x="376.76" y="156.3" text-anchor="middle">2.0</text>
<text x="397.18" y="156.3" text-anchor="middle">2.5</text>
<text x="417.59" y="156.3" text-anchor="middle">3.0</text>
<text x="438" y="156.3" text-anchor="middle">3.5</text>
<text x="458.42" y="156.3" text-anchor="middle">4.0</text>
<text x="478.84" y="156.3" text-anchor="middle">4.5</text>
<text x="499.25" y="156.3" text-anchor="middle">5.0</text>
</g>
<text x="402.18" y="170.4" font-size="11.8" text-anchor="middle" fill="#1a1a1a" stroke="#1a1a1a" stroke-width="0.25">SI (mm)</text>
<g fill="none" stroke-width="1" stroke-dasharray="4 2.4">
<polyline stroke="#202020" stroke-dashoffset="0.7" points="46.9,291.5 48.9,294.4 50.9,296.5 52.9,298.1 54.9,299.4 56.9,300.6 59.0,301.5 61.0,302.4 63.0,303.1 65.0,303.8 67.0,304.4 71.0,305.6 75.0,306.5 79.0,307.4 83.0,308.1 87.1,308.8 91.1,309.4 95.1,310.0 99.1,310.5 103.1,311.0 113.1,312.1 123.2,313.1 133.2,313.9 143.2,314.7 153.3,315.4 163.3,316.0 173.4,316.6 183.4,317.1 193.4,317.6 203.5,318.0 213.5,318.5 223.5,318.9 233.6,319.3 243.6,319.6"/>
<polyline stroke="#ff1010" stroke-dashoffset="3.1" points="46.9,291.4 48.9,293.8 50.9,295.5 52.9,296.8 54.9,297.9 56.9,298.8 59.0,299.6 61.0,300.3 63.0,300.9 65.0,301.5 67.0,302.0 71.0,302.9 75.0,303.7 79.0,304.4 83.0,305.0 87.1,305.6 91.1,306.1 95.1,306.5 99.1,307.0 103.1,307.4 113.1,308.3 123.2,309.1 133.2,309.8 143.2,310.4 153.3,310.9 163.3,311.4 173.4,311.9 183.4,312.4 193.4,312.8 203.5,313.1 213.5,313.5 223.5,313.8 233.6,314.1 243.6,314.4"/>
<polyline stroke="#1010ff" stroke-dashoffset="3.5" points="46.9,277.7 48.9,282.0 50.9,284.9 52.9,287.3 54.9,289.1 56.9,290.7 59.0,292.1 61.0,293.3 63.0,294.4 65.0,295.4 67.0,296.3 71.0,297.9 75.0,299.3 79.0,300.5 83.0,301.5 87.1,302.5 91.1,303.4 95.1,304.2 99.1,305.0 103.1,305.7 113.1,307.3 123.2,308.6 133.2,309.8 143.2,310.9 153.3,311.9 163.3,312.8 173.4,313.6 183.4,314.3 193.4,315.0 203.5,315.7 213.5,316.3 223.5,316.9 233.6,317.4 243.6,317.9"/>
<polyline stroke="#ff10ff" stroke-dashoffset="0.5" points="46.9,287.0 48.9,290.3 50.9,292.7 52.9,294.6 54.9,296.1 56.9,297.4 59.0,298.5 61.0,299.5 63.0,300.3 65.0,301.1 67.0,301.8 71.0,303.1 75.0,304.2 79.0,305.2 83.0,306.1 87.1,306.8 91.1,307.6 95.1,308.2 99.1,308.8 103.1,309.4 113.1,310.7 123.2,311.7 133.2,312.7 143.2,313.6 153.3,314.4 163.3,315.1 173.4,315.7 183.4,316.3 193.4,316.9 203.5,317.4 213.5,317.9 223.5,318.4 233.6,318.8 243.6,319.2"/>
<polyline stroke="#008800" stroke-dashoffset="2.4" points="46.9,250.6 48.9,257.1 50.9,261.6 52.9,265.1 54.9,268.0 56.9,270.4 59.0,272.5 61.0,274.3 63.0,276.0 65.0,277.5 67.0,278.8 71.0,281.2 75.0,283.3 79.0,285.1 83.0,286.7 87.1,288.2 91.1,289.6 95.1,290.8 99.1,291.9 103.1,293.0 113.1,295.4 123.2,297.4 133.2,299.2 143.2,300.8 153.3,302.3 163.3,303.6 173.4,304.8 183.4,306.0 193.4,307.0 203.5,308.0 213.5,308.9 223.5,309.8 233.6,310.6 243.6,311.4"/>
<polyline stroke="#101090" stroke-dashoffset="0.4" points="46.9,270.1 48.9,273.6 50.9,276.0 52.9,277.9 54.9,279.5 56.9,280.8 59.0,282.0 61.0,283.0 63.0,283.9 65.0,284.7 67.0,285.4 71.0,286.7 75.0,287.9 79.0,288.9 83.0,289.8 87.1,290.6 91.1,291.3 95.1,292.0 99.1,292.6 103.1,293.2 113.1,294.5 123.2,295.6 133.2,296.6 143.2,297.5 153.3,298.3 163.3,299.1 173.4,299.7 183.4,300.4 193.4,300.9 203.5,301.5 213.5,302.0 223.5,302.5 233.6,302.9 243.6,303.4"/>
<polyline stroke="#8010ff" stroke-dashoffset="2.6" points="46.9,267.2 48.9,271.0 50.9,273.7 52.9,275.7 54.9,277.4 56.9,278.9 59.0,280.1 61.0,281.2 63.0,282.2 65.0,283.1 67.0,283.9 71.0,285.3 75.0,286.5 79.0,287.6 83.0,288.6 87.1,289.5 91.1,290.3 95.1,291.0 99.1,291.7 103.1,292.3 113.1,293.7 123.2,295.0 133.2,296.0 143.2,297.0 153.3,297.9 163.3,298.7 173.4,299.4 183.4,300.1 193.4,300.7 203.5,301.3 213.5,301.9 223.5,302.4 233.6,302.9 243.6,303.3"/>
<polyline stroke="#881088" stroke-dashoffset="5.2" points="46.9,285.5 48.9,287.5 50.9,289.0 52.9,290.1 54.9,291.0 56.9,291.8 59.0,292.5 61.0,293.1 63.0,293.6 65.0,294.1 67.0,294.5 71.0,295.3 75.0,295.9 79.0,296.5 83.0,297.1 87.1,297.5 91.1,298.0 95.1,298.4 99.1,298.8 103.1,299.1 113.1,299.9 123.2,300.5 133.2,301.1 143.2,301.7 153.3,302.1 163.3,302.6 173.4,303.0 183.4,303.3 193.4,303.7 203.5,304.0 213.5,304.3 223.5,304.6 233.6,304.9 243.6,305.1"/>
<polyline stroke="#8a1010" stroke-dashoffset="3.3" points="46.9,252.1 48.9,258.5 50.9,263.0 52.9,266.5 54.9,269.3 56.9,271.7 59.0,273.8 61.0,275.7 63.0,277.3 65.0,278.8 67.0,280.1 71.0,282.5 75.0,284.6 79.0,286.4 83.0,288.0 87.1,289.5 91.1,290.8 95.1,292.0 99.1,293.2 103.1,294.2 113.1,296.6 123.2,298.6 133.2,300.4 143.2,302.0 153.3,303.5 163.3,304.8 173.4,306.0 183.4,307.1 193.4,308.2 203.5,309.1 213.5,310.1 223.5,310.9 233.6,311.7 243.6,312.5"/>
<polyline stroke="#888800" stroke-dashoffset="4.3" points="46.9,243.8 48.9,250.5 50.9,255.2 52.9,258.9 54.9,261.8 56.9,264.3 59.0,266.5 61.0,268.4 63.0,270.1 65.0,271.7 67.0,273.1 71.0,275.6 75.0,277.7 79.0,279.6 83.0,281.3 87.1,282.8 91.1,284.2 95.1,285.5 99.1,286.7 103.1,287.8 113.1,290.2 123.2,292.4 133.2,294.2 143.2,295.9 153.3,297.4 163.3,298.8 173.4,300.0 183.4,301.2 193.4,302.3 203.5,303.3 213.5,304.3 223.5,305.2 233.6,306.0 243.6,306.8"/>
<polyline stroke="#3888c0" stroke-dashoffset="4.5" points="46.9,239.7 48.9,246.8 50.9,251.9 52.9,255.8 54.9,259.0 56.9,261.7 59.0,264.0 61.0,266.0 63.0,267.9 65.0,269.5 67.0,271.0 71.0,273.7 75.0,276.0 79.0,278.0 83.0,279.8 87.1,281.4 91.1,282.9 95.1,284.3 99.1,285.6 103.1,286.7 113.1,289.4 123.2,291.6 133.2,293.6 143.2,295.4 153.3,297.0 163.3,298.5 173.4,299.9 183.4,301.1 193.4,302.3 203.5,303.4 213.5,304.4 223.5,305.3 233.6,306.3 243.6,307.1"/>
<polyline stroke="#10b4b4" stroke-dashoffset="0.7" points="46.9,270.5 48.9,275.1 50.9,278.3 52.9,280.8 54.9,282.8 56.9,284.5 59.0,286.0 61.0,287.3 63.0,288.5 65.0,289.5 67.0,290.5 71.0,292.2 75.0,293.7 79.0,295.0 83.0,296.1 87.1,297.2 91.1,298.1 95.1,299.0 99.1,299.8 103.1,300.6 113.1,302.3 123.2,303.7 133.2,305.0 143.2,306.2 153.3,307.2 163.3,308.2 173.4,309.0 183.4,309.8 193.4,310.6 203.5,311.3 213.5,312.0 223.5,312.6 233.6,313.2 243.6,313.7"/>
<polyline stroke="#c89838" stroke-dashoffset="5.9" points="46.9,262.9 48.9,268.5 50.9,272.4 52.9,275.5 54.9,278.0 56.9,280.1 59.0,281.9 61.0,283.6 63.0,285.0 65.0,286.3 67.0,287.5 71.0,289.6 75.0,291.4 79.0,293.0 83.0,294.4 87.1,295.7 91.1,296.9 95.1,297.9 99.1,298.9 103.1,299.9 113.1,301.9 123.2,303.7 133.2,305.3 143.2,306.7 153.3,308.0 163.3,309.2 173.4,310.2 183.4,311.2 193.4,312.1 203.5,313.0 213.5,313.8 223.5,314.6 233.6,315.3 243.6,316.0"/>
<polyline stroke="#10c848" stroke-dashoffset="4.3" points="46.9,278.5 48.9,282.5 50.9,285.3 52.9,287.5 54.9,289.2 56.9,290.7 59.0,292.0 61.0,293.2 63.0,294.2 65.0,295.1 67.0,295.9 71.0,297.4 75.0,298.7 79.0,299.9 83.0,300.9 87.1,301.8 91.1,302.6 95.1,303.4 99.1,304.1 103.1,304.8 113.1,306.3 123.2,307.5 133.2,308.7 143.2,309.7 153.3,310.6 163.3,311.4 173.4,312.2 183.4,312.9 193.4,313.5 203.5,314.2 213.5,314.7 223.5,315.3 233.6,315.8 243.6,316.3"/>
<polyline stroke="#d040a0" stroke-dashoffset="0.6" points="46.9,284.4 48.9,288.0 50.9,290.5 52.9,292.4 54.9,294.0 56.9,295.4 59.0,296.5 61.0,297.5 63.0,298.5 65.0,299.3 67.0,300.0 71.0,301.4 75.0,302.5 79.0,303.6 83.0,304.5 87.1,305.3 91.1,306.0 95.1,306.7 99.1,307.4 103.1,308.0 113.1,309.3 123.2,310.4 133.2,311.4 143.2,312.3 153.3,313.2 163.3,313.9 173.4,314.6 183.4,315.2 193.4,315.8 203.5,316.4 213.5,316.9 223.5,317.4 233.6,317.8 243.6,318.3"/>
<polyline stroke="#30d4d0" stroke-dashoffset="5.0" points="46.9,272.2 48.9,277.3 50.9,280.8 52.9,283.6 54.9,285.8 56.9,287.7 59.0,289.4 61.0,290.8 63.0,292.1 65.0,293.3 67.0,294.3 71.0,296.2 75.0,297.8 79.0,299.3 83.0,300.6 87.1,301.7 91.1,302.8 95.1,303.8 99.1,304.7 103.1,305.5 113.1,307.4 123.2,309.0 133.2,310.4 143.2,311.7 153.3,312.8 163.3,313.9 173.4,314.8 183.4,315.7 193.4,316.6 203.5,317.3 213.5,318.1 223.5,318.7 233.6,319.4 243.6,320.0"/>
<polyline stroke="#3434e0" stroke-dashoffset="2.4" points="46.9,248.8 48.9,255.2 50.9,259.6 52.9,263.1 54.9,265.9 56.9,268.3 59.0,270.4 61.0,272.2 63.0,273.8 65.0,275.3 67.0,276.6 71.0,279.0 75.0,281.0 79.0,282.8 83.0,284.5 87.1,285.9 91.1,287.2 95.1,288.5 99.1,289.6 103.1,290.6 113.1,293.0 123.2,295.0 133.2,296.8 143.2,298.4 153.3,299.8 163.3,301.1 173.4,302.3 183.4,303.4 193.4,304.5 203.5,305.4 213.5,306.4 223.5,307.2 233.6,308.0 243.6,308.8"/>
<polyline stroke="#a4c808" stroke-dashoffset="1.0" points="46.9,227.9 48.9,234.7 50.9,239.6 52.9,243.4 54.9,246.4 56.9,249.0 59.0,251.2 61.0,253.2 63.0,255.0 65.0,256.5 67.0,258.0 71.0,260.6 75.0,262.8 79.0,264.7 83.0,266.5 87.1,268.0 91.1,269.5 95.1,270.8 99.1,272.0 103.1,273.1 113.1,275.7 123.2,277.9 133.2,279.8 143.2,281.5 153.3,283.1 163.3,284.5 173.4,285.8 183.4,287.0 193.4,288.1 203.5,289.2 213.5,290.1 223.5,291.1 233.6,292.0 243.6,292.8"/>
<polyline stroke="#808080" stroke-dashoffset="5.8" points="46.9,235.1 48.9,241.4 50.9,245.9 52.9,249.3 54.9,252.2 56.9,254.5 59.0,256.6 61.0,258.4 63.0,260.0 65.0,261.4 67.0,262.8 71.0,265.1 75.0,267.2 79.0,269.0 83.0,270.6 87.1,272.0 91.1,273.3 95.1,274.5 99.1,275.7 103.1,276.7 113.1,279.0 123.2,281.0 133.2,282.8 143.2,284.4 153.3,285.8 163.3,287.1 173.4,288.3 183.4,289.4 193.4,290.5 203.5,291.4 213.5,292.3 223.5,293.2 233.6,294.0 243.6,294.7"/>
<polyline stroke="#c08060" stroke-dashoffset="3.4" points="46.9,254.7 48.9,260.8 50.9,265.0 52.9,268.4 54.9,271.0 56.9,273.3 59.0,275.3 61.0,277.0 63.0,278.6 65.0,280.0 67.0,281.2 71.0,283.5 75.0,285.4 79.0,287.2 83.0,288.7 87.1,290.1 91.1,291.3 95.1,292.5 99.1,293.6 103.1,294.6 113.1,296.8 123.2,298.7 133.2,300.4 143.2,302.0 153.3,303.3 163.3,304.6 173.4,305.7 183.4,306.8 193.4,307.8 203.5,308.7 213.5,309.6 223.5,310.4 233.6,311.2 243.6,311.9"/>
<polyline stroke="#28c428" stroke-dashoffset="4.6" points="46.9,241.6 48.9,248.6 50.9,253.5 52.9,257.3 54.9,260.4 56.9,263.0 59.0,265.3 61.0,267.2 63.0,269.0 65.0,270.6 67.0,272.1 71.0,274.7 75.0,276.9 79.0,278.9 83.0,280.7 87.1,282.2 91.1,283.7 95.1,285.0 99.1,286.3 103.1,287.4 113.1,290.0 123.2,292.2 133.2,294.1 143.2,295.9 153.3,297.4 163.3,298.9 173.4,300.2 183.4,301.4 193.4,302.5 203.5,303.6 213.5,304.6 223.5,305.5 233.6,306.4 243.6,307.2"/>
<polyline stroke="#10b0e0" stroke-dashoffset="0.8" points="46.9,261.7 48.9,267.1 50.9,270.9 52.9,273.8 54.9,276.2 56.9,278.3 59.0,280.0 61.0,281.5 63.0,282.9 65.0,284.2 67.0,285.3 71.0,287.3 75.0,289.0 79.0,290.6 83.0,291.9 87.1,293.2 91.1,294.3 95.1,295.3 99.1,296.3 103.1,297.2 113.1,299.2 123.2,300.9 133.2,302.4 143.2,303.8 153.3,305.0 163.3,306.1 173.4,307.1 183.4,308.1 193.4,309.0 203.5,309.8 213.5,310.6 223.5,311.3 233.6,312.0 243.6,312.6"/>
<polyline stroke="#4060d0" stroke-dashoffset="4.7" points="46.9,248.6 48.9,254.8 50.9,259.3 52.9,262.7 54.9,265.5 56.9,267.9 59.0,269.9 61.0,271.7 63.0,273.3 65.0,274.8 67.0,276.1 71.0,278.4 75.0,280.5 79.0,282.2 83.0,283.8 87.1,285.3 91.1,286.6 95.1,287.8 99.1,288.9 103.1,289.9 113.1,292.3 123.2,294.3 133.2,296.0 143.2,297.6 153.3,299.0 163.3,300.3 173.4,301.5 183.4,302.6 193.4,303.7 203.5,304.6 213.5,305.5 223.5,306.4 233.6,307.2 243.6,307.9"/>
<polyline stroke="#10e010" stroke-dashoffset="0.3" points="46.9,236.3 48.9,244.1 50.9,249.7 52.9,253.9 54.9,257.4 56.9,260.4 59.0,262.9 61.0,265.1 63.0,267.1 65.0,268.9 67.0,270.6 71.0,273.5 75.0,276.0 79.0,278.2 83.0,280.2 87.1,282.0 91.1,283.6 95.1,285.1 99.1,286.5 103.1,287.8 113.1,290.6 123.2,293.1 133.2,295.3 143.2,297.2 153.3,299.0 163.3,300.6 173.4,302.1 183.4,303.4 193.4,304.7 203.5,305.9 213.5,307.0 223.5,308.0 233.6,309.0 243.6,310.0"/>
<polyline stroke="#10dcf0" stroke-dashoffset="1.4" points="46.9,240.8 48.9,245.7 50.9,249.2 52.9,252.0 54.9,254.2 56.9,256.1 59.0,257.7 61.0,259.1 63.0,260.4 65.0,261.5 67.0,262.6 71.0,264.5 75.0,266.1 79.0,267.5 83.0,268.8 87.1,269.9 91.1,270.9 95.1,271.9 99.1,272.8 103.1,273.6 113.1,275.5 123.2,277.1 133.2,278.5 143.2,279.7 153.3,280.9 163.3,281.9 173.4,282.8 183.4,283.7 193.4,284.5 203.5,285.3 213.5,286.0 223.5,286.7 233.6,287.4 243.6,288.0"/>
<polyline stroke="#f0f000" stroke-dashoffset="2.2" points="46.9,205.5 48.9,214.5 50.9,220.8 52.9,225.6 54.9,229.6 56.9,232.9 59.0,235.8 61.0,238.4 63.0,240.6 65.0,242.7 67.0,244.5 71.0,247.8 75.0,250.7 79.0,253.2 83.0,255.5 87.1,257.5 91.1,259.3 95.1,261.0 99.1,262.6 103.1,264.1 113.1,267.3 123.2,270.1 133.2,272.6 143.2,274.8 153.3,276.8 163.3,278.6 173.4,280.3 183.4,281.8 193.4,283.3 203.5,284.6 213.5,285.9 223.5,287.1 233.6,288.2 243.6,289.2"/>
<polyline stroke="#109070" stroke-dashoffset="0.1" points="46.9,226.9 48.9,234.0 50.9,239.0 52.9,242.8 54.9,246.0 56.9,248.6 59.0,250.9 61.0,252.9 63.0,254.7 65.0,256.4 67.0,257.8 71.0,260.5 75.0,262.7 79.0,264.7 83.0,266.5 87.1,268.1 91.1,269.6 95.1,271.0 99.1,272.2 103.1,273.4 113.1,276.0 123.2,278.2 133.2,280.2 143.2,282.0 153.3,283.6 163.3,285.0 173.4,286.4 183.4,287.6 193.4,288.7 203.5,289.8 213.5,290.8 223.5,291.8 233.6,292.7 243.6,293.5"/>
<polyline stroke="#1010d0" stroke-dashoffset="3.6" points="46.9,279.7 48.9,284.0 50.9,287.0 52.9,289.3 54.9,291.2 56.9,292.8 59.0,294.2 61.0,295.5 63.0,296.6 65.0,297.6 67.0,298.5 71.0,300.1 75.0,301.4 79.0,302.7 83.0,303.7 87.1,304.7 91.1,305.6 95.1,306.5 99.1,307.2 103.1,307.9 113.1,309.5 123.2,310.9 133.2,312.1 143.2,313.2 153.3,314.2 163.3,315.0 173.4,315.9 183.4,316.6 193.4,317.3 203.5,318.0 213.5,318.6 223.5,319.2 233.6,319.7 243.6,320.3"/>
<polyline stroke="#ff8810" stroke-dashoffset="1.3" points="46.9,212.4 48.9,221.5 50.9,228.0 52.9,232.9 54.9,237.0 56.9,240.4 59.0,243.4 61.0,246.0 63.0,248.3 65.0,250.4 67.0,252.3 71.0,255.7 75.0,258.6 79.0,261.2 83.0,263.5 87.1,265.5 91.1,267.4 95.1,269.2 99.1,270.8 103.1,272.3 113.1,275.6 123.2,278.5 133.2,281.0 143.2,283.2 153.3,285.3 163.3,287.1 173.4,288.9 183.4,290.4 193.4,291.9 203.5,293.3 213.5,294.6 223.5,295.8 233.6,296.9 243.6,298.0"/>
</g>
<g>
<rect x="45.38" y="291.92" width="3.06" height="3.06" fill="#000000"/>
<rect x="61.44" y="299.02" width="3.06" height="3.06" fill="#000000"/>
<rect x="81.51" y="305.5" width="3.06" height="3.06" fill="#000000"/>
<rect x="101.58" y="309.3" width="3.06" height="3.06" fill="#000000"/>
<rect x="121.65" y="311.5" width="3.06" height="3.06" fill="#000000"/>
<rect x="161.79" y="314.56" width="3.06" height="3.06" fill="#000000"/>
<rect x="201.93" y="317.01" width="3.06" height="3.06" fill="#000000"/>
<rect x="242.07" y="319.45" width="3.06" height="3.06" fill="#000000"/>
<circle cx="46.91" cy="291.71" r="1.71" fill="#ff0000"/>
<circle cx="62.97" cy="299.3" r="1.71" fill="#ff0000"/>
<circle cx="83.04" cy="305.51" r="1.71" fill="#ff0000"/>
<circle cx="103.11" cy="308.13" r="1.71" fill="#ff0000"/>
<circle cx="123.18" cy="309.83" r="1.71" fill="#ff0000"/>
<circle cx="163.32" cy="311.41" r="1.71" fill="#ff0000"/>
<circle cx="203.46" cy="312.7" r="1.71" fill="#ff0000"/>
<circle cx="243.6" cy="314.13" r="1.71" fill="#ff0000"/>
<polygon points="46.91,276.62 44.84,280.35 48.98,280.35" fill="#0000ff"/>
<polygon points="62.97,288.88 60.9,292.6 65.04,292.6" fill="#0000ff"/>
<polygon points="83.04,301.05 80.97,304.77 85.11,304.77" fill="#0000ff"/>
<polygon points="103.11,304.71 101.04,308.43 105.18,308.43" fill="#0000ff"/>
<polygon points="123.18,306.95 121.11,310.67 125.25,310.67" fill="#0000ff"/>
<polygon points="163.32,311 161.25,314.73 165.39,314.73" fill="#0000ff"/>
<polygon points="203.46,313.04 201.39,316.77 205.53,316.77" fill="#0000ff"/>
<polygon points="243.6,315.58 241.53,319.31 245.67,319.31" fill="#0000ff"/>
<polygon points="46.91,289.85 44.84,286.12 48.98,286.12" fill="#ff00ff"/>
<polygon points="62.97,299.54 60.9,295.81 65.04,295.81" fill="#ff00ff"/>
<polygon points="83.04,309.26 80.97,305.53 85.11,305.53" fill="#ff00ff"/>
<polygon points="103.11,312.14 101.04,308.41 105.18,308.41" fill="#ff00ff"/>
<polygon points="123.18,314.62 121.11,310.9 125.25,310.9" fill="#ff00ff"/>
<polygon points="163.32,317.29 161.25,313.56 165.39,313.56" fill="#ff00ff"/>
<polygon points="203.46,319.02 201.39,315.29 205.53,315.29" fill="#ff00ff"/>
<polygon points="243.6,321.05 241.53,317.32 245.67,317.32" fill="#ff00ff"/>
<polygon points="46.91,249.35 48.98,251.42 46.91,253.49 44.84,251.42" fill="#008000"/>
<polygon points="62.97,270.07 65.04,272.14 62.97,274.21 60.9,272.14" fill="#008000"/>
<polygon points="83.04,287.08 85.11,289.15 83.04,291.22 80.97,289.15" fill="#008000"/>
<polygon points="103.11,291.81 105.18,293.88 103.11,295.95 101.04,293.88" fill="#008000"/>
<polygon points="123.18,296.49 125.25,298.56 123.18,300.63 121.11,298.56" fill="#008000"/>
<polygon points="163.32,301.17 165.39,303.24 163.32,305.31 161.25,303.24" fill="#008000"/>
<polygon points="203.46,305.47 205.53,307.54 203.46,309.61 201.39,307.54" fill="#008000"/>
<polygon points="243.6,308.7 245.67,310.77 243.6,312.84 241.53,310.77" fill="#008000"/>
<polygon points="44.84,270.35 48.57,268.28 48.57,272.42" fill="#000080"/>
<polygon points="60.9,282.18 64.63,280.11 64.63,284.25" fill="#000080"/>
<polygon points="80.97,291.3 84.7,289.23 84.7,293.37" fill="#000080"/>
<polygon points="101.04,293.41 104.77,291.34 104.77,295.48" fill="#000080"/>
<polygon points="121.11,295.93 124.84,293.86 124.84,298" fill="#000080"/>
<polygon points="161.25,299.08 164.98,297.01 164.98,301.15" fill="#000080"/>
<polygon points="201.39,300.92 205.12,298.85 205.12,302.99" fill="#000080"/>
<polygon points="241.53,303.34 245.26,301.27 245.26,305.41" fill="#000080"/>
<polygon points="48.98,267.48 45.26,265.41 45.26,269.55" fill="#8000ff"/>
<polygon points="65.04,280.13 61.31,278.06 61.31,282.2" fill="#8000ff"/>
<polygon points="85.11,290.43 81.38,288.36 81.38,292.5" fill="#8000ff"/>
<polygon points="105.18,292.56 101.45,290.49 101.45,294.63" fill="#8000ff"/>
<polygon points="125.25,295.38 121.52,293.31 121.52,297.45" fill="#8000ff"/>
<polygon points="165.39,298.73 161.66,296.66 161.66,300.8" fill="#8000ff"/>
<polygon points="205.53,300.95 201.8,298.88 201.8,303.02" fill="#8000ff"/>
<polygon points="245.67,302.9 241.94,300.83 241.94,304.97" fill="#8000ff"/>
<circle cx="46.91" cy="285.85" r="1.71" fill="#800080"/>
<circle cx="62.97" cy="292.16" r="1.71" fill="#800080"/>
<circle cx="83.04" cy="297.64" r="1.71" fill="#800080"/>
<circle cx="103.11" cy="299.39" r="1.71" fill="#800080"/>
<circle cx="123.18" cy="301.01" r="1.71" fill="#800080"/>
<circle cx="163.32" cy="302.82" r="1.71" fill="#800080"/>
<circle cx="203.46" cy="303.68" r="1.71" fill="#800080"/>
<circle cx="243.6" cy="304.87" r="1.71" fill="#800080"/>
<polygon points="46.91,251.14 47.39,252.46 48.8,252.51 47.68,253.37 48.08,254.72 46.91,253.93 45.75,254.72 46.14,253.37 45.03,252.51 46.44,252.46" fill="#800000"/>
<polygon points="62.97,270.89 63.45,272.22 64.85,272.26 63.74,273.12 64.13,274.48 62.97,273.68 61.81,274.48 62.2,273.12 61.09,272.26 62.49,272.22" fill="#800000"/>
<polygon points="83.04,288.03 83.52,289.36 84.92,289.4 83.81,290.26 84.2,291.62 83.04,290.82 81.88,291.62 82.27,290.26 81.16,289.4 82.56,289.36" fill="#800000"/>
<polygon points="103.11,292.97 103.59,294.3 104.99,294.34 103.88,295.21 104.27,296.56 103.11,295.76 101.95,296.56 102.34,295.21 101.23,294.34 102.63,294.3" fill="#800000"/>
<polygon points="123.18,298.86 123.66,300.18 125.06,300.22 123.95,301.09 124.34,302.44 123.18,301.65 122.02,302.44 122.41,301.09 121.3,300.22 122.7,300.18" fill="#800000"/>
<polygon points="163.32,303.14 163.8,304.46 165.2,304.5 164.09,305.37 164.48,306.72 163.32,305.93 162.16,306.72 162.55,305.37 161.44,304.5 162.84,304.46" fill="#800000"/>
<polygon points="203.46,305.86 203.94,307.18 205.34,307.22 204.23,308.09 204.62,309.44 203.46,308.65 202.3,309.44 202.69,308.09 201.58,307.22 202.98,307.18" fill="#800000"/>
<polygon points="243.6,309.88 244.08,311.2 245.48,311.25 244.37,312.11 244.76,313.46 243.6,312.67 242.44,313.46 242.83,312.11 241.72,311.25 243.12,311.2" fill="#800000"/>
<circle cx="46.91" cy="245.19" r="1.71" fill="#808000"/>
<circle cx="62.97" cy="265.36" r="1.71" fill="#808000"/>
<circle cx="83.04" cy="283.45" r="1.71" fill="#808000"/>
<circle cx="103.11" cy="288.86" r="1.71" fill="#808000"/>
<circle cx="123.18" cy="293.34" r="1.71" fill="#808000"/>
<circle cx="163.32" cy="298.98" r="1.71" fill="#808000"/>
<circle cx="203.46" cy="302.52" r="1.71" fill="#808000"/>
<circle cx="243.6" cy="306.63" r="1.71" fill="#808000"/>
<circle cx="46.91" cy="239.9" r="1.71" fill="#2060b0"/>
<circle cx="62.97" cy="264.79" r="1.71" fill="#2060b0"/>
<circle cx="83.04" cy="283.48" r="1.71" fill="#2060b0"/>
<circle cx="103.11" cy="286.78" r="1.71" fill="#2060b0"/>
<circle cx="123.18" cy="292.84" r="1.71" fill="#2060b0"/>
<circle cx="163.32" cy="297.56" r="1.71" fill="#2060b0"/>
<circle cx="203.46" cy="302.13" r="1.71" fill="#2060b0"/>
<circle cx="243.6" cy="307.27" r="1.71" fill="#2060b0"/>
<path d="M45.29 271.06H48.53M46.91 269.44V272.68" stroke="#70c8d8" stroke-width="0.7" fill="none"/>
<path d="M61.35 286.17H64.59M62.97 284.55V287.79" stroke="#70c8d8" stroke-width="0.7" fill="none"/>
<path d="M81.42 297.26H84.66M83.04 295.64V298.88" stroke="#70c8d8" stroke-width="0.7" fill="none"/>
<path d="M101.49 301.3H104.73M103.11 299.68V302.92" stroke="#70c8d8" stroke-width="0.7" fill="none"/>
<path d="M121.56 304.69H124.8M123.18 303.07V306.31" stroke="#70c8d8" stroke-width="0.7" fill="none"/>
<path d="M161.7 307.87H164.94M163.32 306.25V309.49" stroke="#70c8d8" stroke-width="0.7" fill="none"/>
<path d="M201.84 310.49H205.08M203.46 308.87V312.11" stroke="#70c8d8" stroke-width="0.7" fill="none"/>
<path d="M241.98 313.8H245.22M243.6 312.18V315.42" stroke="#70c8d8" stroke-width="0.7" fill="none"/>
<path d="M45.29 261.87L48.53 265.11M45.29 265.11L48.53 261.87" stroke="#e0a060" stroke-width="0.7" fill="none"/>
<path d="M61.35 280.51L64.59 283.75M61.35 283.75L64.59 280.51" stroke="#e0a060" stroke-width="0.7" fill="none"/>
<path d="M81.42 294.65L84.66 297.89M81.42 297.89L84.66 294.65" stroke="#e0a060" stroke-width="0.7" fill="none"/>
<path d="M101.49 298.97L104.73 302.21M101.49 302.21L104.73 298.97" stroke="#e0a060" stroke-width="0.7" fill="none"/>
<path d="M121.56 302.64L124.8 305.88M121.56 305.88L124.8 302.64" stroke="#e0a060" stroke-width="0.7" fill="none"/>
<path d="M161.7 307.37L164.94 310.61M161.7 310.61L164.94 307.37" stroke="#e0a060" stroke-width="0.7" fill="none"/>
<path d="M201.84 310.74L205.08 313.98M201.84 313.98L205.08 310.74" stroke="#e0a060" stroke-width="0.7" fill="none"/>
<path d="M241.98 314.24L245.22 317.48M241.98 317.48L245.22 314.24" stroke="#e0a060" stroke-width="0.7" fill="none"/>
<path d="M45.29 277.86L48.53 281.1M45.29 281.1L48.53 277.86M46.91 277.86V281.1" stroke="#40d060" stroke-width="0.7" fill="none"/>
<path d="M61.35 289.7L64.59 292.94M61.35 292.94L64.59 289.7M62.97 289.7V292.94" stroke="#40d060" stroke-width="0.7" fill="none"/>
<path d="M81.42 300.11L84.66 303.35M81.42 303.35L84.66 300.11M83.04 300.11V303.35" stroke="#40d060" stroke-width="0.7" fill="none"/>
<path d="M101.49 303.89L104.73 307.13M101.49 307.13L104.73 303.89M103.11 303.89V307.13" stroke="#40d060" stroke-width="0.7" fill="none"/>
<path d="M121.56 306.56L124.8 309.8M121.56 309.8L124.8 306.56M123.18 306.56V309.8" stroke="#40d060" stroke-width="0.7" fill="none"/>
<path d="M161.7 309.63L164.94 312.87M161.7 312.87L164.94 309.63M163.32 309.63V312.87" stroke="#40d060" stroke-width="0.7" fill="none"/>
<path d="M201.84 312.44L205.08 315.68M201.84 315.68L205.08 312.44M203.46 312.44V315.68" stroke="#40d060" stroke-width="0.7" fill="none"/>
<path d="M241.98 314.55L245.22 317.79M241.98 317.79L245.22 314.55M243.6 314.55V317.79" stroke="#40d060" stroke-width="0.7" fill="none"/>
<path d="M45.29 284.87H48.53" stroke="#f080a0" stroke-width="0.7" fill="none"/>
<path d="M61.35 297.07H64.59" stroke="#f080a0" stroke-width="0.7" fill="none"/>
<path d="M81.42 304.94H84.66" stroke="#f080a0" stroke-width="0.7" fill="none"/>
<path d="M101.49 308.06H104.73" stroke="#f080a0" stroke-width="0.7" fill="none"/>
<path d="M121.56 311.11H124.8" stroke="#f080a0" stroke-width="0.7" fill="none"/>
<path d="M161.7 313.89H164.94" stroke="#f080a0" stroke-width="0.7" fill="none"/>
<path d="M201.84 316.14H205.08" stroke="#f080a0" stroke-width="0.7" fill="none"/>
<path d="M241.98 318.21H245.22" stroke="#f080a0" stroke-width="0.7" fill="none"/>
<path d="M46.91 271.5V274.74" stroke="#a0e0d8" stroke-width="0.7" fill="none"/>
<path d="M62.97 286.83V290.07" stroke="#a0e0d8" stroke-width="0.7" fill="none"/>
<path d="M83.04 300.72V303.96" stroke="#a0e0d8" stroke-width="0.7" fill="none"/>
<path d="M103.11 304.98V308.22" stroke="#a0e0d8" stroke-width="0.7" fill="none"/>
<path d="M123.18 308.4V311.64" stroke="#a0e0d8" stroke-width="0.7" fill="none"/>
<path d="M163.32 312.19V315.43" stroke="#a0e0d8" stroke-width="0.7" fill="none"/>
<path d="M203.46 314.74V317.98" stroke="#a0e0d8" stroke-width="0.7" fill="none"/>
<path d="M243.6 318.23V321.47" stroke="#a0e0d8" stroke-width="0.7" fill="none"/>
<rect x="45.38" y="248.69" width="3.06" height="3.06" fill="#2030b0"/>
<rect x="61.44" y="267.01" width="3.06" height="3.06" fill="#2030b0"/>
<rect x="81.51" y="285.52" width="3.06" height="3.06" fill="#2030b0"/>
<rect x="101.58" y="290.79" width="3.06" height="3.06" fill="#2030b0"/>
<rect x="121.65" y="293.9" width="3.06" height="3.06" fill="#2030b0"/>
<rect x="161.79" y="299.89" width="3.06" height="3.06" fill="#2030b0"/>
<rect x="201.93" y="303.28" width="3.06" height="3.06" fill="#2030b0"/>
<rect x="242.07" y="306.78" width="3.06" height="3.06" fill="#2030b0"/>
<polygon points="46.91,226.66 48.98,228.73 46.91,230.8 44.84,228.73" fill="#80a010"/>
<polygon points="62.97,249.64 65.04,251.71 62.97,253.78 60.9,251.71" fill="#80a010"/>
<polygon points="83.04,265.47 85.11,267.54 83.04,269.61 80.97,267.54" fill="#80a010"/>
<polygon points="103.11,271.32 105.18,273.39 103.11,275.46 101.04,273.39" fill="#80a010"/>
<polygon points="123.18,277.99 125.25,280.06 123.18,282.13 121.11,280.06" fill="#80a010"/>
<polygon points="163.32,283.08 165.39,285.15 163.32,287.22 161.25,285.15" fill="#80a010"/>
<polygon points="203.46,285.59 205.53,287.66 203.46,289.73 201.39,287.66" fill="#80a010"/>
<polygon points="243.6,290.42 245.67,292.49 243.6,294.56 241.53,292.49" fill="#80a010"/>
<polygon points="46.91,233.33 44.84,237.06 48.98,237.06" fill="#606060"/>
<polygon points="62.97,254.19 60.9,257.91 65.04,257.91" fill="#606060"/>
<polygon points="83.04,271.78 80.97,275.51 85.11,275.51" fill="#606060"/>
<polygon points="103.11,275.47 101.04,279.2 105.18,279.2" fill="#606060"/>
<polygon points="123.18,280.71 121.11,284.44 125.25,284.44" fill="#606060"/>
<polygon points="163.32,284.88 161.25,288.61 165.39,288.61" fill="#606060"/>
<polygon points="203.46,288.15 201.39,291.87 205.53,291.87" fill="#606060"/>
<polygon points="243.6,291.61 241.53,295.33 245.67,295.33" fill="#606060"/>
<polygon points="46.91,258.25 44.84,254.52 48.98,254.52" fill="#905050"/>
<polygon points="62.97,275.76 60.9,272.03 65.04,272.03" fill="#905050"/>
<polygon points="83.04,292.74 80.97,289.02 85.11,289.02" fill="#905050"/>
<polygon points="103.11,297.94 101.04,294.22 105.18,294.22" fill="#905050"/>
<polygon points="123.18,301.84 121.11,298.11 125.25,298.11" fill="#905050"/>
<polygon points="163.32,306.71 161.25,302.98 165.39,302.98" fill="#905050"/>
<polygon points="203.46,310.03 201.39,306.3 205.53,306.3" fill="#905050"/>
<polygon points="243.6,313.85 241.53,310.12 245.67,310.12" fill="#905050"/>
<polygon points="46.91,240.82 48.98,242.89 46.91,244.96 44.84,242.89" fill="#408040"/>
<polygon points="62.97,262.63 65.04,264.7 62.97,266.77 60.9,264.7" fill="#408040"/>
<polygon points="83.04,280.16 85.11,282.23 83.04,284.3 80.97,282.23" fill="#408040"/>
<polygon points="103.11,285.86 105.18,287.93 103.11,290 101.04,287.93" fill="#408040"/>
<polygon points="123.18,291.89 125.25,293.96 123.18,296.03 121.11,293.96" fill="#408040"/>
<polygon points="163.32,297.3 165.39,299.37 163.32,301.44 161.25,299.37" fill="#408040"/>
<polygon points="203.46,300.81 205.53,302.88 203.46,304.95 201.39,302.88" fill="#408040"/>
<polygon points="243.6,304.54 245.67,306.61 243.6,308.68 241.53,306.61" fill="#408040"/>
<polygon points="44.84,262.07 48.57,260 48.57,264.14" fill="#20a0d0"/>
<polygon points="60.9,280.33 64.63,278.26 64.63,282.4" fill="#20a0d0"/>
<polygon points="80.97,294.19 84.7,292.12 84.7,296.26" fill="#20a0d0"/>
<polygon points="101.04,297.91 104.77,295.84 104.77,299.98" fill="#20a0d0"/>
<polygon points="121.11,301.53 124.84,299.46 124.84,303.6" fill="#20a0d0"/>
<polygon points="161.25,305.5 164.98,303.43 164.98,307.57" fill="#20a0d0"/>
<polygon points="201.39,309.57 205.12,307.5 205.12,311.64" fill="#20a0d0"/>
<polygon points="241.53,312.16 245.26,310.09 245.26,314.23" fill="#20a0d0"/>
<polygon points="48.98,249.45 45.26,247.38 45.26,251.52" fill="#1040a0"/>
<polygon points="65.04,269.73 61.31,267.66 61.31,271.8" fill="#1040a0"/>
<polygon points="85.11,285.91 81.38,283.84 81.38,287.98" fill="#1040a0"/>
<polygon points="105.18,290.41 101.45,288.34 101.45,292.48" fill="#1040a0"/>
<polygon points="125.25,295.32 121.52,293.25 121.52,297.39" fill="#1040a0"/>
<polygon points="165.39,300.47 161.66,298.4 161.66,302.54" fill="#1040a0"/>
<polygon points="205.53,303.93 201.8,301.86 201.8,306" fill="#1040a0"/>
<polygon points="245.67,307.58 241.94,305.51 241.94,309.65" fill="#1040a0"/>
<circle cx="46.91" cy="237.58" r="1.71" fill="#000000"/>
<circle cx="62.97" cy="262.2" r="1.71" fill="#000000"/>
<circle cx="83.04" cy="282.74" r="1.71" fill="#000000"/>
<circle cx="103.11" cy="288.54" r="1.71" fill="#000000"/>
<circle cx="123.18" cy="294.48" r="1.71" fill="#000000"/>
<circle cx="163.32" cy="300.88" r="1.71" fill="#000000"/>
<circle cx="203.46" cy="304.98" r="1.71" fill="#000000"/>
<circle cx="243.6" cy="309.51" r="1.71" fill="#000000"/>
<polygon points="46.91,239.13 47.39,240.45 48.8,240.49 47.68,241.36 48.08,242.71 46.91,241.92 45.75,242.71 46.14,241.36 45.03,240.49 46.44,240.45" fill="#ff0000"/>
<polygon points="62.97,255.99 63.45,257.31 64.85,257.36 63.74,258.22 64.13,259.57 62.97,258.78 61.81,259.57 62.2,258.22 61.09,257.36 62.49,257.31" fill="#ff0000"/>
<polygon points="83.04,268.51 83.52,269.83 84.92,269.87 83.81,270.74 84.2,272.09 83.04,271.3 81.88,272.09 82.27,270.74 81.16,269.87 82.56,269.83" fill="#ff0000"/>
<polygon points="103.11,272.33 103.59,273.65 104.99,273.7 103.88,274.56 104.27,275.91 103.11,275.12 101.95,275.91 102.34,274.56 101.23,273.7 102.63,273.65" fill="#ff0000"/>
<polygon points="123.18,275.68 123.66,277.01 125.06,277.05 123.95,277.91 124.34,279.27 123.18,278.47 122.02,279.27 122.41,277.91 121.3,277.05 122.7,277.01" fill="#ff0000"/>
<polygon points="163.32,280.26 163.8,281.59 165.2,281.63 164.09,282.49 164.48,283.84 163.32,283.05 162.16,283.84 162.55,282.49 161.44,281.63 162.84,281.59" fill="#ff0000"/>
<polygon points="203.46,282.71 203.94,284.03 205.34,284.07 204.23,284.94 204.62,286.29 203.46,285.5 202.3,286.29 202.69,284.94 201.58,284.07 202.98,284.03" fill="#ff0000"/>
<polygon points="243.6,285.3 244.08,286.63 245.48,286.67 244.37,287.53 244.76,288.88 243.6,288.09 242.44,288.88 242.83,287.53 241.72,286.67 243.12,286.63" fill="#ff0000"/>
<circle cx="46.91" cy="206.95" r="2.09" fill="#0000ff"/>
<circle cx="62.97" cy="234.97" r="2.09" fill="#0000ff"/>
<circle cx="83.04" cy="258.58" r="2.09" fill="#0000ff"/>
<circle cx="103.11" cy="264.95" r="2.09" fill="#0000ff"/>
<circle cx="123.18" cy="271.8" r="2.09" fill="#0000ff"/>
<circle cx="163.32" cy="278.4" r="2.09" fill="#0000ff"/>
<circle cx="203.46" cy="284.03" r="2.09" fill="#0000ff"/>
<circle cx="243.6" cy="288.56" r="2.09" fill="#0000ff"/>
<circle cx="46.91" cy="229.22" r="1.71" fill="#ff00ff"/>
<circle cx="62.97" cy="249.65" r="1.71" fill="#ff00ff"/>
<circle cx="83.04" cy="267.52" r="1.71" fill="#ff00ff"/>
<circle cx="103.11" cy="273.88" r="1.71" fill="#ff00ff"/>
<circle cx="123.18" cy="278.16" r="1.71" fill="#ff00ff"/>
<circle cx="163.32" cy="285.5" r="1.71" fill="#ff00ff"/>
<circle cx="203.46" cy="290.39" r="1.71" fill="#ff00ff"/>
<circle cx="243.6" cy="293.82" r="1.71" fill="#ff00ff"/>
<path d="M45.29 280.4H48.53" stroke="#40c040" stroke-width="0.7" fill="none"/>
<path d="M61.35 293.44H64.59" stroke="#40c040" stroke-width="0.7" fill="none"/>
<path d="M81.42 305.39H84.66" stroke="#40c040" stroke-width="0.7" fill="none"/>
<path d="M101.49 308.77H104.73" stroke="#40c040" stroke-width="0.7" fill="none"/>
<path d="M121.56 312.01H124.8" stroke="#40c040" stroke-width="0.7" fill="none"/>
<path d="M161.7 315.15H164.94" stroke="#40c040" stroke-width="0.7" fill="none"/>
<path d="M201.84 317.13H205.08" stroke="#40c040" stroke-width="0.7" fill="none"/>
<path d="M241.98 319.87H245.22" stroke="#40c040" stroke-width="0.7" fill="none"/>
<path d="M45.29 212.39L48.53 215.63M45.29 215.63L48.53 212.39" stroke="#9090e0" stroke-width="0.7" fill="none"/>
<path d="M61.35 240.81L64.59 244.05M61.35 244.05L64.59 240.81" stroke="#9090e0" stroke-width="0.7" fill="none"/>
<path d="M81.42 264.66L84.66 267.9M81.42 267.9L84.66 264.66" stroke="#9090e0" stroke-width="0.7" fill="none"/>
<path d="M101.49 271.67L104.73 274.91M101.49 274.91L104.73 271.67" stroke="#9090e0" stroke-width="0.7" fill="none"/>
<path d="M121.56 278.48L124.8 281.72M121.56 281.72L124.8 278.48" stroke="#9090e0" stroke-width="0.7" fill="none"/>
<path d="M161.7 285.21L164.94 288.45M161.7 288.45L164.94 285.21" stroke="#9090e0" stroke-width="0.7" fill="none"/>
<path d="M201.84 291.36L205.08 294.6M201.84 294.6L205.08 291.36" stroke="#9090e0" stroke-width="0.7" fill="none"/>
<path d="M241.98 295.76L245.22 299M241.98 299L245.22 295.76" stroke="#9090e0" stroke-width="0.7" fill="none"/>
</g>
<path d="M42.9 191.7V327.7M42.3 327.1H254.24M38.3 327.1H42.9M38.3 302.63H42.9M38.3 278.16H42.9M38.3 253.69H42.9M38.3 229.22H42.9M38.3 204.75H42.9M40.3 314.87H42.9M40.3 290.39H42.9M40.3 265.92H42.9M40.3 241.45H42.9M40.3 216.98H42.9M40.3 192.51H42.9M42.9 327.1V331.9M62.97 327.1V331.9M83.04 327.1V331.9M103.11 327.1V331.9M123.18 327.1V331.9M143.25 327.1V331.9M163.32 327.1V331.9M183.39 327.1V331.9M203.46 327.1V331.9M223.53 327.1V331.9M243.6 327.1V331.9M52.94 327.1V329.8M73 327.1V329.8M93.07 327.1V329.8M113.15 327.1V329.8M133.22 327.1V329.8M153.28 327.1V329.8M173.36 327.1V329.8M193.43 327.1V329.8M213.5 327.1V329.8M233.56 327.1V329.8M253.64 327.1V329.8" stroke="#111" stroke-width="1.25" fill="none"/>
<g font-size="10.6" fill="#1a1a1a" stroke="#1a1a1a" stroke-width="0.22">
<text x="36" y="330.6" text-anchor="end">1.00</text>
<text x="36" y="306.13" text-anchor="end">1.02</text>
<text x="36" y="281.66" text-anchor="end">1.04</text>
<text x="36" y="257.19" text-anchor="end">1.06</text>
<text x="36" y="232.72" text-anchor="end">1.08</text>
<text x="36" y="208.25" text-anchor="end">1.10</text>
<text x="42.9" y="342.8" text-anchor="middle">0.0</text>
<text x="62.97" y="342.8" text-anchor="middle">0.5</text>
<text x="83.04" y="342.8" text-anchor="middle">1.0</text>
<text x="103.11" y="342.8" text-anchor="middle">1.5</text>
<text x="123.18" y="342.8" text-anchor="middle">2.0</text>
<text x="143.25" y="342.8" text-anchor="middle">2.5</text>
<text x="163.32" y="342.8" text-anchor="middle">3.0</text>
<text x="183.39" y="342.8" text-anchor="middle">3.5</text>
<text x="203.46" y="342.8" text-anchor="middle">4.0</text>
<text x="223.53" y="342.8" text-anchor="middle">4.5</text>
<text x="243.6" y="342.8" text-anchor="middle">5.0</text>
</g>
<text x="148.25" y="356.9" font-size="11.8" text-anchor="middle" fill="#1a1a1a" stroke="#1a1a1a" stroke-width="0.25">SI (mm)</text>
<g fill="none" stroke-width="1" stroke-dasharray="4 2.4">
<polyline stroke="#202020" stroke-dashoffset="1.8" points="302.3,291.3 304.3,295.6 306.3,298.3 308.3,300.3 310.3,301.8 312.3,303.0 314.3,304.0 316.3,304.9 318.4,305.6 320.4,306.2 322.4,306.8 326.4,307.8 330.4,308.6 334.4,309.3 338.4,309.8 342.5,310.4 346.5,310.8 350.5,311.2 354.5,311.6 358.6,311.9 368.6,312.7 378.6,313.3 388.7,313.8 398.8,314.2 408.8,314.6 418.9,314.9 428.9,315.2 439.0,315.5 449.0,315.8 459.1,316.0 469.1,316.2 479.1,316.4 489.2,316.6 499.2,316.7"/>
<polyline stroke="#ff1010" stroke-dashoffset="4.2" points="302.3,290.6 304.3,294.0 306.3,296.2 308.3,297.8 310.3,299.0 312.3,300.0 314.3,300.9 316.3,301.6 318.4,302.3 320.4,302.8 322.4,303.3 326.4,304.2 330.4,304.9 334.4,305.5 338.4,306.0 342.5,306.5 346.5,306.9 350.5,307.3 354.5,307.7 358.6,308.0 368.6,308.7 378.6,309.3 388.7,309.7 398.8,310.2 408.8,310.6 418.9,310.9 428.9,311.2 439.0,311.5 449.0,311.7 459.1,312.0 469.1,312.2 479.1,312.4 489.2,312.6 499.2,312.8"/>
<polyline stroke="#1010ff" stroke-dashoffset="2.6" points="302.3,276.2 304.3,282.8 306.3,286.9 308.3,289.8 310.3,292.0 312.3,293.8 314.3,295.3 316.3,296.5 318.4,297.6 320.4,298.5 322.4,299.3 326.4,300.8 330.4,301.9 334.4,302.9 338.4,303.7 342.5,304.5 346.5,305.1 350.5,305.7 354.5,306.3 358.6,306.7 368.6,307.8 378.6,308.6 388.7,309.3 398.8,310.0 408.8,310.5 418.9,311.0 428.9,311.4 439.0,311.8 449.0,312.2 459.1,312.5 469.1,312.8 479.1,313.1 489.2,313.3 499.2,313.5"/>
<polyline stroke="#ff10ff" stroke-dashoffset="5.3" points="302.3,285.6 304.3,290.9 306.3,294.2 308.3,296.6 310.3,298.4 312.3,299.9 314.3,301.0 316.3,302.1 318.4,302.9 320.4,303.7 322.4,304.4 326.4,305.5 330.4,306.5 334.4,307.3 338.4,307.9 342.5,308.6 346.5,309.1 350.5,309.6 354.5,310.0 358.6,310.4 368.6,311.2 378.6,311.9 388.7,312.5 398.8,313.0 408.8,313.5 418.9,313.9 428.9,314.2 439.0,314.5 449.0,314.8 459.1,315.1 469.1,315.3 479.1,315.5 489.2,315.7 499.2,315.9"/>
<polyline stroke="#008800" stroke-dashoffset="3.7" points="302.3,248.4 304.3,258.1 306.3,264.3 308.3,268.7 310.3,272.1 312.3,274.7 314.3,277.0 316.3,278.9 318.4,280.5 320.4,281.9 322.4,283.2 326.4,285.3 330.4,287.1 334.4,288.6 338.4,289.9 342.5,291.0 346.5,292.0 350.5,292.9 354.5,293.7 358.6,294.5 368.6,296.1 378.6,297.4 388.7,298.5 398.8,299.5 408.8,300.3 418.9,301.1 428.9,301.7 439.0,302.3 449.0,302.9 459.1,303.4 469.1,303.9 479.1,304.3 489.2,304.7 499.2,305.1"/>
<polyline stroke="#101090" stroke-dashoffset="5.2" points="302.3,268.4 304.3,273.2 306.3,276.3 308.3,278.7 310.3,280.5 312.3,282.0 314.3,283.2 316.3,284.3 318.4,285.2 320.4,286.0 322.4,286.8 326.4,288.1 330.4,289.1 334.4,290.1 338.4,290.9 342.5,291.6 346.5,292.2 350.5,292.8 354.5,293.3 358.6,293.8 368.6,294.9 378.6,295.8 388.7,296.5 398.8,297.2 408.8,297.8 418.9,298.3 428.9,298.8 439.0,299.2 449.0,299.6 459.1,300.0 469.1,300.3 479.1,300.7 489.2,301.0 499.2,301.2"/>
<polyline stroke="#8010ff" stroke-dashoffset="3.4" points="302.3,265.1 304.3,270.4 306.3,273.9 308.3,276.4 310.3,278.4 312.3,280.0 314.3,281.4 316.3,282.6 318.4,283.6 320.4,284.5 322.4,285.3 326.4,286.7 330.4,287.9 334.4,288.9 338.4,289.7 342.5,290.5 346.5,291.2 350.5,291.8 354.5,292.4 358.6,292.9 368.6,294.1 378.6,295.0 388.7,295.8 398.8,296.6 408.8,297.2 418.9,297.8 428.9,298.3 439.0,298.7 449.0,299.2 459.1,299.6 469.1,299.9 479.1,300.3 489.2,300.6 499.2,300.9"/>
<polyline stroke="#881088" stroke-dashoffset="5.5" points="302.3,284.4 304.3,287.1 306.3,288.9 308.3,290.2 310.3,291.3 312.3,292.1 314.3,292.9 316.3,293.5 318.4,294.1 320.4,294.6 322.4,295.0 326.4,295.8 330.4,296.5 334.4,297.0 338.4,297.5 342.5,298.0 346.5,298.4 350.5,298.8 354.5,299.1 358.6,299.4 368.6,300.1 378.6,300.6 388.7,301.1 398.8,301.6 408.8,302.0 418.9,302.3 428.9,302.6 439.0,302.9 449.0,303.2 459.1,303.4 469.1,303.6 479.1,303.9 489.2,304.1 499.2,304.2"/>
<polyline stroke="#8a1010" stroke-dashoffset="5.2" points="302.3,248.3 304.3,258.6 306.3,265.1 308.3,269.7 310.3,273.2 312.3,276.0 314.3,278.3 316.3,280.3 318.4,282.0 320.4,283.4 322.4,284.7 326.4,286.9 330.4,288.7 334.4,290.3 338.4,291.6 342.5,292.7 346.5,293.8 350.5,294.7 354.5,295.5 358.6,296.2 368.6,297.9 378.6,299.2 388.7,300.3 398.8,301.3 408.8,302.1 418.9,302.8 428.9,303.5 439.0,304.1 449.0,304.6 459.1,305.1 469.1,305.6 479.1,306.0 489.2,306.4 499.2,306.8"/>
<polyline stroke="#888800" stroke-dashoffset="1.0" points="302.3,240.6 304.3,250.8 306.3,257.3 308.3,261.9 310.3,265.5 312.3,268.4 314.3,270.7 316.3,272.8 318.4,274.5 320.4,276.0 322.4,277.4 326.4,279.7 330.4,281.6 334.4,283.2 338.4,284.6 342.5,285.9 346.5,287.0 350.5,288.0 354.5,288.8 358.6,289.6 368.6,291.4 378.6,292.8 388.7,294.1 398.8,295.1 408.8,296.0 418.9,296.9 428.9,297.6 439.0,298.3 449.0,298.9 459.1,299.4 469.1,300.0 479.1,300.4 489.2,300.9 499.2,301.3"/>
<polyline stroke="#3888c0" stroke-dashoffset="4.5" points="302.3,236.1 304.3,247.1 306.3,254.2 308.3,259.2 310.3,263.0 312.3,266.1 314.3,268.7 316.3,270.8 318.4,272.7 320.4,274.3 322.4,275.8 326.4,278.2 330.4,280.3 334.4,282.0 338.4,283.5 342.5,284.8 346.5,286.0 350.5,287.0 354.5,287.9 358.6,288.8 368.6,290.6 378.6,292.2 388.7,293.5 398.8,294.6 408.8,295.5 418.9,296.4 428.9,297.2 439.0,297.9 449.0,298.5 459.1,299.1 469.1,299.6 479.1,300.1 489.2,300.6 499.2,301.0"/>
<polyline stroke="#10b4b4" stroke-dashoffset="2.0" points="302.3,267.6 304.3,274.7 306.3,279.3 308.3,282.5 310.3,285.0 312.3,287.0 314.3,288.7 316.3,290.1 318.4,291.3 320.4,292.3 322.4,293.3 326.4,294.9 330.4,296.2 334.4,297.3 338.4,298.3 342.5,299.1 346.5,299.9 350.5,300.6 354.5,301.2 358.6,301.7 368.6,302.9 378.6,303.9 388.7,304.8 398.8,305.5 408.8,306.1 418.9,306.7 428.9,307.2 439.0,307.7 449.0,308.1 459.1,308.5 469.1,308.8 479.1,309.2 489.2,309.5 499.2,309.7"/>
<polyline stroke="#c89838" stroke-dashoffset="4.6" points="302.3,260.1 304.3,269.0 306.3,274.6 308.3,278.5 310.3,281.5 312.3,283.9 314.3,285.9 316.3,287.6 318.4,289.0 320.4,290.2 322.4,291.3 326.4,293.2 330.4,294.8 334.4,296.1 338.4,297.2 342.5,298.2 346.5,299.1 350.5,299.8 354.5,300.5 358.6,301.2 368.6,302.5 378.6,303.7 388.7,304.6 398.8,305.4 408.8,306.1 418.9,306.8 428.9,307.3 439.0,307.8 449.0,308.3 459.1,308.7 469.1,309.1 479.1,309.5 489.2,309.8 499.2,310.1"/>
<polyline stroke="#10c848" stroke-dashoffset="4.1" points="302.3,276.1 304.3,282.3 306.3,286.2 308.3,289.0 310.3,291.1 312.3,292.8 314.3,294.3 316.3,295.5 318.4,296.5 320.4,297.4 322.4,298.2 326.4,299.6 330.4,300.8 334.4,301.7 338.4,302.6 342.5,303.3 346.5,303.9 350.5,304.5 354.5,305.0 358.6,305.5 368.6,306.6 378.6,307.4 388.7,308.1 398.8,308.8 408.8,309.3 418.9,309.8 428.9,310.2 439.0,310.6 449.0,311.0 459.1,311.3 469.1,311.6 479.1,311.9 489.2,312.1 499.2,312.4"/>
<polyline stroke="#d040a0" stroke-dashoffset="5.0" points="302.3,281.8 304.3,287.7 306.3,291.4 308.3,294.0 310.3,296.0 312.3,297.6 314.3,298.9 316.3,300.1 318.4,301.0 320.4,301.8 322.4,302.6 326.4,303.8 330.4,304.9 334.4,305.8 338.4,306.5 342.5,307.2 346.5,307.8 350.5,308.3 354.5,308.8 358.6,309.2 368.6,310.1 378.6,310.9 388.7,311.5 398.8,312.1 408.8,312.5 418.9,313.0 428.9,313.4 439.0,313.7 449.0,314.0 459.1,314.3 469.1,314.6 479.1,314.8 489.2,315.0 499.2,315.2"/>
<polyline stroke="#30d4d0" stroke-dashoffset="0.7" points="302.3,269.9 304.3,278.1 306.3,283.2 308.3,286.8 310.3,289.5 312.3,291.7 314.3,293.5 316.3,294.9 318.4,296.2 320.4,297.3 322.4,298.3 326.4,300.0 330.4,301.3 334.4,302.4 338.4,303.4 342.5,304.3 346.5,305.0 350.5,305.7 354.5,306.3 358.6,306.8 368.6,308.0 378.6,308.9 388.7,309.7 398.8,310.4 408.8,311.0 418.9,311.6 428.9,312.0 439.0,312.4 449.0,312.8 459.1,313.2 469.1,313.5 479.1,313.8 489.2,314.1 499.2,314.3"/>
<polyline stroke="#3434e0" stroke-dashoffset="2.2" points="302.3,246.1 304.3,255.8 306.3,262.0 308.3,266.4 310.3,269.7 312.3,272.4 314.3,274.7 316.3,276.6 318.4,278.2 320.4,279.7 322.4,280.9 326.4,283.1 330.4,284.9 334.4,286.5 338.4,287.8 342.5,288.9 346.5,290.0 350.5,290.9 354.5,291.7 358.6,292.5 368.6,294.1 378.6,295.5 388.7,296.6 398.8,297.6 408.8,298.5 418.9,299.2 428.9,299.9 439.0,300.6 449.0,301.1 459.1,301.6 469.1,302.1 479.1,302.6 489.2,303.0 499.2,303.4"/>
<polyline stroke="#a4c808" stroke-dashoffset="4.4" points="302.3,225.2 304.3,234.8 306.3,241.1 308.3,245.6 310.3,249.1 312.3,252.0 314.3,254.4 316.3,256.5 318.4,258.3 320.4,259.9 322.4,261.3 326.4,263.7 330.4,265.7 334.4,267.5 338.4,269.0 342.5,270.3 346.5,271.5 350.5,272.6 354.5,273.5 358.6,274.4 368.6,276.4 378.6,278.0 388.7,279.4 398.8,280.6 408.8,281.7 418.9,282.6 428.9,283.5 439.0,284.3 449.0,285.0 459.1,285.6 469.1,286.2 479.1,286.8 489.2,287.3 499.2,287.8"/>
<polyline stroke="#808080" stroke-dashoffset="5.7" points="302.3,232.1 304.3,241.1 306.3,246.9 308.3,251.1 310.3,254.4 312.3,257.1 314.3,259.3 316.3,261.2 318.4,262.9 320.4,264.4 322.4,265.7 326.4,267.9 330.4,269.8 334.4,271.4 338.4,272.8 342.5,274.1 346.5,275.2 350.5,276.2 354.5,277.1 358.6,277.9 368.6,279.7 378.6,281.3 388.7,282.5 398.8,283.7 408.8,284.7 418.9,285.6 428.9,286.4 439.0,287.1 449.0,287.7 459.1,288.4 469.1,288.9 479.1,289.5 489.2,289.9 499.2,290.4"/>
<polyline stroke="#c08060" stroke-dashoffset="4.3" points="302.3,252.7 304.3,261.7 306.3,267.5 308.3,271.6 310.3,274.7 312.3,277.2 314.3,279.3 316.3,281.1 318.4,282.6 320.4,283.9 322.4,285.1 326.4,287.1 330.4,288.8 334.4,290.2 338.4,291.4 342.5,292.5 346.5,293.4 350.5,294.3 354.5,295.1 358.6,295.8 368.6,297.3 378.6,298.5 388.7,299.6 398.8,300.5 408.8,301.3 418.9,302.0 428.9,302.6 439.0,303.2 449.0,303.7 459.1,304.2 469.1,304.6 479.1,305.0 489.2,305.4 499.2,305.8"/>
<polyline stroke="#28c428" stroke-dashoffset="0.3" points="302.3,237.8 304.3,248.7 306.3,255.6 308.3,260.5 310.3,264.3 312.3,267.3 314.3,269.8 316.3,271.9 318.4,273.8 320.4,275.4 322.4,276.8 326.4,279.2 330.4,281.2 334.4,282.9 338.4,284.4 342.5,285.7 346.5,286.8 350.5,287.8 354.5,288.7 358.6,289.6 368.6,291.4 378.6,292.9 388.7,294.2 398.8,295.2 408.8,296.2 418.9,297.1 428.9,297.8 439.0,298.5 449.0,299.1 459.1,299.7 469.1,300.2 479.1,300.7 489.2,301.2 499.2,301.6"/>
<polyline stroke="#10b0e0" stroke-dashoffset="3.6" points="302.3,258.8 304.3,267.2 306.3,272.5 308.3,276.3 310.3,279.2 312.3,281.5 314.3,283.4 316.3,285.1 318.4,286.5 320.4,287.7 322.4,288.8 326.4,290.7 330.4,292.2 334.4,293.5 338.4,294.6 342.5,295.6 346.5,296.5 350.5,297.3 354.5,298.0 358.6,298.6 368.6,300.0 378.6,301.1 388.7,302.1 398.8,302.9 408.8,303.7 418.9,304.3 428.9,304.9 439.0,305.4 449.0,305.9 459.1,306.3 469.1,306.7 479.1,307.1 489.2,307.5 499.2,307.8"/>
<polyline stroke="#4060d0" stroke-dashoffset="0.6" points="302.3,244.8 304.3,254.6 306.3,260.8 308.3,265.3 310.3,268.7 312.3,271.4 314.3,273.7 316.3,275.6 318.4,277.3 320.4,278.7 322.4,280.0 326.4,282.2 330.4,284.1 334.4,285.6 338.4,287.0 342.5,288.1 346.5,289.2 350.5,290.1 354.5,291.0 358.6,291.7 368.6,293.4 378.6,294.8 388.7,295.9 398.8,296.9 408.8,297.8 418.9,298.6 428.9,299.3 439.0,299.9 449.0,300.5 459.1,301.0 469.1,301.5 479.1,302.0 489.2,302.4 499.2,302.8"/>
<polyline stroke="#10e010" stroke-dashoffset="3.3" points="302.3,232.0 304.3,244.4 306.3,252.3 308.3,257.8 310.3,262.0 312.3,265.4 314.3,268.2 316.3,270.6 318.4,272.6 320.4,274.3 322.4,275.9 326.4,278.6 330.4,280.8 334.4,282.6 338.4,284.2 342.5,285.6 346.5,286.8 350.5,287.9 354.5,288.9 358.6,289.8 368.6,291.7 378.6,293.3 388.7,294.7 398.8,295.9 408.8,296.9 418.9,297.8 428.9,298.6 439.0,299.3 449.0,299.9 459.1,300.5 469.1,301.1 479.1,301.6 489.2,302.1 499.2,302.5"/>
<polyline stroke="#10dcf0" stroke-dashoffset="4.8" points="302.3,236.9 304.3,243.8 306.3,248.4 308.3,251.7 310.3,254.4 312.3,256.5 314.3,258.3 316.3,259.9 318.4,261.3 320.4,262.5 322.4,263.6 326.4,265.5 330.4,267.0 334.4,268.4 338.4,269.6 342.5,270.7 346.5,271.6 350.5,272.5 354.5,273.3 358.6,274.0 368.6,275.6 378.6,276.9 388.7,278.0 398.8,279.0 408.8,279.9 418.9,280.7 428.9,281.4 439.0,282.1 449.0,282.7 459.1,283.2 469.1,283.8 479.1,284.2 489.2,284.7 499.2,285.1"/>
<polyline stroke="#f0f000" stroke-dashoffset="0.7" points="302.3,201.2 304.3,214.0 306.3,222.2 308.3,228.2 310.3,232.9 312.3,236.6 314.3,239.7 316.3,242.4 318.4,244.7 320.4,246.8 322.4,248.6 326.4,251.7 330.4,254.3 334.4,256.5 338.4,258.5 342.5,260.2 346.5,261.7 350.5,263.1 354.5,264.3 358.6,265.4 368.6,267.9 378.6,269.9 388.7,271.7 398.8,273.2 408.8,274.5 418.9,275.7 428.9,276.8 439.0,277.8 449.0,278.7 459.1,279.5 469.1,280.2 479.1,280.9 489.2,281.6 499.2,282.2"/>
<polyline stroke="#109070" stroke-dashoffset="5.6" points="302.3,225.1 304.3,234.8 306.3,241.1 308.3,245.8 310.3,249.4 312.3,252.3 314.3,254.7 316.3,256.8 318.4,258.6 320.4,260.2 322.4,261.6 326.4,264.1 330.4,266.1 334.4,267.9 338.4,269.4 342.5,270.7 346.5,271.9 350.5,273.0 354.5,274.0 358.6,274.9 368.6,276.9 378.6,278.5 388.7,279.9 398.8,281.1 408.8,282.2 418.9,283.1 428.9,284.0 439.0,284.8 449.0,285.5 459.1,286.2 469.1,286.8 479.1,287.3 489.2,287.9 499.2,288.4"/>
<polyline stroke="#1010d0" stroke-dashoffset="4.1" points="302.3,277.8 304.3,284.7 306.3,289.0 308.3,292.0 310.3,294.3 312.3,296.2 314.3,297.7 316.3,298.9 318.4,300.0 320.4,300.9 322.4,301.8 326.4,303.2 330.4,304.4 334.4,305.3 338.4,306.2 342.5,306.9 346.5,307.5 350.5,308.1 354.5,308.6 358.6,309.1 368.6,310.1 378.6,310.9 388.7,311.6 398.8,312.2 408.8,312.7 418.9,313.2 428.9,313.6 439.0,314.0 449.0,314.3 459.1,314.6 469.1,314.9 479.1,315.1 489.2,315.4 499.2,315.6"/>
<polyline stroke="#ff8810" stroke-dashoffset="1.5" points="302.3,207.8 304.3,221.6 306.3,230.3 308.3,236.6 310.3,241.4 312.3,245.3 314.3,248.6 316.3,251.3 318.4,253.7 320.4,255.7 322.4,257.6 326.4,260.7 330.4,263.4 334.4,265.6 338.4,267.5 342.5,269.2 346.5,270.7 350.5,272.0 354.5,273.3 358.6,274.4 368.6,276.8 378.6,278.7 388.7,280.4 398.8,281.9 408.8,283.2 418.9,284.3 428.9,285.3 439.0,286.2 449.0,287.1 459.1,287.9 469.1,288.6 479.1,289.2 489.2,289.8 499.2,290.4"/>
</g>
<g>
<rect x="300.74" y="292.02" width="3.06" height="3.06" fill="#000000"/>
<rect x="316.82" y="299.53" width="3.06" height="3.06" fill="#000000"/>
<rect x="336.92" y="305.64" width="3.06" height="3.06" fill="#000000"/>
<rect x="357.02" y="308.75" width="3.06" height="3.06" fill="#000000"/>
<rect x="377.12" y="311.15" width="3.06" height="3.06" fill="#000000"/>
<rect x="417.32" y="314.48" width="3.06" height="3.06" fill="#000000"/>
<rect x="457.52" y="317.36" width="3.06" height="3.06" fill="#000000"/>
<rect x="497.72" y="319.91" width="3.06" height="3.06" fill="#000000"/>
<circle cx="302.27" cy="291.88" r="1.71" fill="#ff0000"/>
<circle cx="318.35" cy="298.95" r="1.71" fill="#ff0000"/>
<circle cx="338.45" cy="306.22" r="1.71" fill="#ff0000"/>
<circle cx="358.55" cy="308.16" r="1.71" fill="#ff0000"/>
<circle cx="378.65" cy="308.69" r="1.71" fill="#ff0000"/>
<circle cx="418.85" cy="311.2" r="1.71" fill="#ff0000"/>
<circle cx="459.05" cy="313.16" r="1.71" fill="#ff0000"/>
<circle cx="499.25" cy="313.86" r="1.71" fill="#ff0000"/>
<polygon points="302.27,276.71 300.2,280.43 304.34,280.43" fill="#0000ff"/>
<polygon points="318.35,288.17 316.28,291.89 320.42,291.89" fill="#0000ff"/>
<polygon points="338.45,301.03 336.38,304.75 340.52,304.75" fill="#0000ff"/>
<polygon points="358.55,304.87 356.48,308.59 360.62,308.59" fill="#0000ff"/>
<polygon points="378.65,305.88 376.58,309.6 380.72,309.6" fill="#0000ff"/>
<polygon points="418.85,311.26 416.78,314.99 420.92,314.99" fill="#0000ff"/>
<polygon points="459.05,312.05 456.98,315.77 461.12,315.77" fill="#0000ff"/>
<polygon points="499.25,315.15 497.18,318.88 501.32,318.88" fill="#0000ff"/>
<polygon points="302.27,289.77 300.2,286.04 304.34,286.04" fill="#ff00ff"/>
<polygon points="318.35,299.34 316.28,295.61 320.42,295.61" fill="#ff00ff"/>
<polygon points="338.45,309.01 336.38,305.28 340.52,305.28" fill="#ff00ff"/>
<polygon points="358.55,311.68 356.48,307.95 360.62,307.95" fill="#ff00ff"/>
<polygon points="378.65,314.63 376.58,310.9 380.72,310.9" fill="#ff00ff"/>
<polygon points="418.85,317.15 416.78,313.42 420.92,313.42" fill="#ff00ff"/>
<polygon points="459.05,319.17 456.98,315.45 461.12,315.45" fill="#ff00ff"/>
<polygon points="499.25,320.9 497.18,317.17 501.32,317.17" fill="#ff00ff"/>
<polygon points="302.27,249.83 304.34,251.9 302.27,253.97 300.2,251.9" fill="#008000"/>
<polygon points="318.35,269.37 320.42,271.44 318.35,273.51 316.28,271.44" fill="#008000"/>
<polygon points="338.45,286.06 340.52,288.13 338.45,290.2 336.38,288.13" fill="#008000"/>
<polygon points="358.55,291.29 360.62,293.36 358.55,295.43 356.48,293.36" fill="#008000"/>
<polygon points="378.65,295.71 380.72,297.78 378.65,299.85 376.58,297.78" fill="#008000"/>
<polygon points="418.85,300.18 420.92,302.25 418.85,304.32 416.78,302.25" fill="#008000"/>
<polygon points="459.05,304.7 461.12,306.77 459.05,308.84 456.98,306.77" fill="#008000"/>
<polygon points="499.25,308.73 501.32,310.8 499.25,312.87 497.18,310.8" fill="#008000"/>
<polygon points="300.2,269.95 303.93,267.88 303.93,272.02" fill="#000080"/>
<polygon points="316.28,281.75 320.01,279.68 320.01,283.82" fill="#000080"/>
<polygon points="336.38,290.66 340.11,288.59 340.11,292.73" fill="#000080"/>
<polygon points="356.48,293.43 360.21,291.36 360.21,295.5" fill="#000080"/>
<polygon points="376.58,295.35 380.31,293.28 380.31,297.42" fill="#000080"/>
<polygon points="416.78,299.08 420.51,297.01 420.51,301.15" fill="#000080"/>
<polygon points="456.98,300.9 460.71,298.83 460.71,302.97" fill="#000080"/>
<polygon points="497.18,302.81 500.91,300.74 500.91,304.88" fill="#000080"/>
<polygon points="304.34,267.07 300.61,265 300.61,269.14" fill="#8000ff"/>
<polygon points="320.42,279.39 316.69,277.32 316.69,281.46" fill="#8000ff"/>
<polygon points="340.52,289.43 336.79,287.36 336.79,291.5" fill="#8000ff"/>
<polygon points="360.62,291.55 356.89,289.48 356.89,293.62" fill="#8000ff"/>
<polygon points="380.72,294.77 376.99,292.7 376.99,296.84" fill="#8000ff"/>
<polygon points="420.92,299.05 417.19,296.98 417.19,301.12" fill="#8000ff"/>
<polygon points="461.12,301.27 457.39,299.2 457.39,303.34" fill="#8000ff"/>
<polygon points="501.32,302.5 497.59,300.43 497.59,304.57" fill="#8000ff"/>
<circle cx="302.27" cy="285.17" r="1.71" fill="#800080"/>
<circle cx="318.35" cy="292.68" r="1.71" fill="#800080"/>
<circle cx="338.45" cy="297.07" r="1.71" fill="#800080"/>
<circle cx="358.55" cy="298.37" r="1.71" fill="#800080"/>
<circle cx="378.65" cy="301.51" r="1.71" fill="#800080"/>
<circle cx="418.85" cy="302.7" r="1.71" fill="#800080"/>
<circle cx="459.05" cy="304.35" r="1.71" fill="#800080"/>
<circle cx="499.25" cy="304.24" r="1.71" fill="#800080"/>
<polygon points="302.27,249.79 302.75,251.12 304.15,251.16 303.04,252.02 303.43,253.37 302.27,252.58 301.11,253.37 301.5,252.02 300.39,251.16 301.79,251.12" fill="#800000"/>
<polygon points="318.35,269.9 318.83,271.23 320.23,271.27 319.12,272.13 319.51,273.49 318.35,272.69 317.19,273.49 317.58,272.13 316.47,271.27 317.87,271.23" fill="#800000"/>
<polygon points="338.45,288.37 338.93,289.7 340.33,289.74 339.22,290.6 339.61,291.95 338.45,291.16 337.29,291.95 337.68,290.6 336.57,289.74 337.97,289.7" fill="#800000"/>
<polygon points="358.55,292.81 359.03,294.14 360.43,294.18 359.32,295.04 359.71,296.39 358.55,295.6 357.39,296.39 357.78,295.04 356.67,294.18 358.07,294.14" fill="#800000"/>
<polygon points="378.65,299.26 379.13,300.58 380.53,300.63 379.42,301.49 379.81,302.84 378.65,302.05 377.49,302.84 377.88,301.49 376.77,300.63 378.17,300.58" fill="#800000"/>
<polygon points="418.85,302.94 419.33,304.27 420.73,304.31 419.62,305.17 420.01,306.52 418.85,305.73 417.69,306.52 418.08,305.17 416.97,304.31 418.37,304.27" fill="#800000"/>
<polygon points="459.05,305.36 459.53,306.68 460.93,306.72 459.82,307.59 460.21,308.94 459.05,308.15 457.89,308.94 458.28,307.59 457.17,306.72 458.57,306.68" fill="#800000"/>
<polygon points="499.25,310.23 499.73,311.56 501.13,311.6 500.02,312.46 500.41,313.81 499.25,313.02 498.09,313.81 498.48,312.46 497.37,311.6 498.77,311.56" fill="#800000"/>
<circle cx="302.27" cy="244.16" r="1.71" fill="#808000"/>
<circle cx="318.35" cy="265.42" r="1.71" fill="#808000"/>
<circle cx="338.45" cy="282.52" r="1.71" fill="#808000"/>
<circle cx="358.55" cy="289.02" r="1.71" fill="#808000"/>
<circle cx="378.65" cy="293.3" r="1.71" fill="#808000"/>
<circle cx="418.85" cy="299.08" r="1.71" fill="#808000"/>
<circle cx="459.05" cy="302.51" r="1.71" fill="#808000"/>
<circle cx="499.25" cy="305.77" r="1.71" fill="#808000"/>
<circle cx="302.27" cy="239.13" r="1.71" fill="#2060b0"/>
<circle cx="318.35" cy="264.63" r="1.71" fill="#2060b0"/>
<circle cx="338.45" cy="283.36" r="1.71" fill="#2060b0"/>
<circle cx="358.55" cy="286.73" r="1.71" fill="#2060b0"/>
<circle cx="378.65" cy="292.04" r="1.71" fill="#2060b0"/>
<circle cx="418.85" cy="296.71" r="1.71" fill="#2060b0"/>
<circle cx="459.05" cy="302.51" r="1.71" fill="#2060b0"/>
<circle cx="499.25" cy="306.59" r="1.71" fill="#2060b0"/>
<path d="M300.65 270.24H303.89M302.27 268.62V271.86" stroke="#70c8d8" stroke-width="0.7" fill="none"/>
<path d="M316.73 284.47H319.97M318.35 282.85V286.09" stroke="#70c8d8" stroke-width="0.7" fill="none"/>
<path d="M336.83 297.35H340.07M338.45 295.73V298.97" stroke="#70c8d8" stroke-width="0.7" fill="none"/>
<path d="M356.93 300.45H360.17M358.55 298.83V302.07" stroke="#70c8d8" stroke-width="0.7" fill="none"/>
<path d="M377.03 304.06H380.27M378.65 302.44V305.68" stroke="#70c8d8" stroke-width="0.7" fill="none"/>
<path d="M417.23 308.47H420.47M418.85 306.85V310.09" stroke="#70c8d8" stroke-width="0.7" fill="none"/>
<path d="M457.43 310.7H460.67M459.05 309.08V312.32" stroke="#70c8d8" stroke-width="0.7" fill="none"/>
<path d="M497.63 313.57H500.87M499.25 311.95V315.19" stroke="#70c8d8" stroke-width="0.7" fill="none"/>
<path d="M300.65 261.39L303.89 264.63M300.65 264.63L303.89 261.39" stroke="#e0a060" stroke-width="0.7" fill="none"/>
<path d="M316.73 279.7L319.97 282.94M316.73 282.94L319.97 279.7" stroke="#e0a060" stroke-width="0.7" fill="none"/>
<path d="M336.83 294.17L340.07 297.41M336.83 297.41L340.07 294.17" stroke="#e0a060" stroke-width="0.7" fill="none"/>
<path d="M356.93 297.87L360.17 301.11M356.93 301.11L360.17 297.87" stroke="#e0a060" stroke-width="0.7" fill="none"/>
<path d="M377.03 301.83L380.27 305.07M377.03 305.07L380.27 301.83" stroke="#e0a060" stroke-width="0.7" fill="none"/>
<path d="M417.23 307.39L420.47 310.63M417.23 310.63L420.47 307.39" stroke="#e0a060" stroke-width="0.7" fill="none"/>
<path d="M457.43 310.41L460.67 313.65M457.43 313.65L460.67 310.41" stroke="#e0a060" stroke-width="0.7" fill="none"/>
<path d="M497.63 313.25L500.87 316.49M497.63 316.49L500.87 313.25" stroke="#e0a060" stroke-width="0.7" fill="none"/>
<path d="M300.65 276.62L303.89 279.86M300.65 279.86L303.89 276.62M302.27 276.62V279.86" stroke="#40d060" stroke-width="0.7" fill="none"/>
<path d="M316.73 289.77L319.97 293.01M316.73 293.01L319.97 289.77M318.35 289.77V293.01" stroke="#40d060" stroke-width="0.7" fill="none"/>
<path d="M336.83 299.24L340.07 302.48M336.83 302.48L340.07 299.24M338.45 299.24V302.48" stroke="#40d060" stroke-width="0.7" fill="none"/>
<path d="M356.93 302.94L360.17 306.18M356.93 306.18L360.17 302.94M358.55 302.94V306.18" stroke="#40d060" stroke-width="0.7" fill="none"/>
<path d="M377.03 306.4L380.27 309.64M377.03 309.64L380.27 306.4M378.65 306.4V309.64" stroke="#40d060" stroke-width="0.7" fill="none"/>
<path d="M417.23 309.52L420.47 312.76M417.23 312.76L420.47 309.52M418.85 309.52V312.76" stroke="#40d060" stroke-width="0.7" fill="none"/>
<path d="M457.43 311.09L460.67 314.33M457.43 314.33L460.67 311.09M459.05 311.09V314.33" stroke="#40d060" stroke-width="0.7" fill="none"/>
<path d="M497.63 314.34L500.87 317.58M497.63 317.58L500.87 314.34M499.25 314.34V317.58" stroke="#40d060" stroke-width="0.7" fill="none"/>
<path d="M300.65 283.68H303.89" stroke="#f080a0" stroke-width="0.7" fill="none"/>
<path d="M316.73 297.22H319.97" stroke="#f080a0" stroke-width="0.7" fill="none"/>
<path d="M336.83 304.18H340.07" stroke="#f080a0" stroke-width="0.7" fill="none"/>
<path d="M356.93 306.95H360.17" stroke="#f080a0" stroke-width="0.7" fill="none"/>
<path d="M377.03 311.59H380.27" stroke="#f080a0" stroke-width="0.7" fill="none"/>
<path d="M417.23 314.28H420.47" stroke="#f080a0" stroke-width="0.7" fill="none"/>
<path d="M457.43 316.52H460.67" stroke="#f080a0" stroke-width="0.7" fill="none"/>
<path d="M497.63 319.01H500.87" stroke="#f080a0" stroke-width="0.7" fill="none"/>
<path d="M302.27 271.17V274.41" stroke="#a0e0d8" stroke-width="0.7" fill="none"/>
<path d="M318.35 286.25V289.49" stroke="#a0e0d8" stroke-width="0.7" fill="none"/>
<path d="M338.45 299.66V302.9" stroke="#a0e0d8" stroke-width="0.7" fill="none"/>
<path d="M358.55 304.74V307.98" stroke="#a0e0d8" stroke-width="0.7" fill="none"/>
<path d="M378.65 308.28V311.52" stroke="#a0e0d8" stroke-width="0.7" fill="none"/>
<path d="M418.85 311.68V314.92" stroke="#a0e0d8" stroke-width="0.7" fill="none"/>
<path d="M459.05 314.8V318.04" stroke="#a0e0d8" stroke-width="0.7" fill="none"/>
<path d="M499.25 317.62V320.86" stroke="#a0e0d8" stroke-width="0.7" fill="none"/>
<rect x="300.74" y="248.19" width="3.06" height="3.06" fill="#2030b0"/>
<rect x="316.82" y="266.7" width="3.06" height="3.06" fill="#2030b0"/>
<rect x="336.92" y="285.58" width="3.06" height="3.06" fill="#2030b0"/>
<rect x="357.02" y="291.4" width="3.06" height="3.06" fill="#2030b0"/>
<rect x="377.12" y="293.25" width="3.06" height="3.06" fill="#2030b0"/>
<rect x="417.32" y="298.95" width="3.06" height="3.06" fill="#2030b0"/>
<rect x="457.52" y="302.94" width="3.06" height="3.06" fill="#2030b0"/>
<rect x="497.72" y="307.04" width="3.06" height="3.06" fill="#2030b0"/>
<polygon points="302.27,226.36 304.34,228.43 302.27,230.5 300.2,228.43" fill="#80a010"/>
<polygon points="318.35,248.95 320.42,251.02 318.35,253.09 316.28,251.02" fill="#80a010"/>
<polygon points="338.45,264.79 340.52,266.86 338.45,268.93 336.38,266.86" fill="#80a010"/>
<polygon points="358.55,271.43 360.62,273.5 358.55,275.57 356.48,273.5" fill="#80a010"/>
<polygon points="378.65,277.71 380.72,279.78 378.65,281.85 376.58,279.78" fill="#80a010"/>
<polygon points="418.85,282.25 420.92,284.32 418.85,286.39 416.78,284.32" fill="#80a010"/>
<polygon points="459.05,284.62 461.12,286.69 459.05,288.76 456.98,286.69" fill="#80a010"/>
<polygon points="499.25,289.25 501.32,291.32 499.25,293.39 497.18,291.32" fill="#80a010"/>
<polygon points="302.27,232.72 300.2,236.45 304.34,236.45" fill="#606060"/>
<polygon points="318.35,254.08 316.28,257.81 320.42,257.81" fill="#606060"/>
<polygon points="338.45,270.93 336.38,274.66 340.52,274.66" fill="#606060"/>
<polygon points="358.55,274.46 356.48,278.18 360.62,278.18" fill="#606060"/>
<polygon points="378.65,280.12 376.58,283.84 380.72,283.84" fill="#606060"/>
<polygon points="418.85,285.07 416.78,288.8 420.92,288.8" fill="#606060"/>
<polygon points="459.05,287.35 456.98,291.08 461.12,291.08" fill="#606060"/>
<polygon points="499.25,290.84 497.18,294.57 501.32,294.57" fill="#606060"/>
<polygon points="302.27,258.46 300.2,254.73 304.34,254.73" fill="#905050"/>
<polygon points="318.35,274.52 316.28,270.79 320.42,270.79" fill="#905050"/>
<polygon points="338.45,292.15 336.38,288.42 340.52,288.42" fill="#905050"/>
<polygon points="358.55,296.87 356.48,293.15 360.62,293.15" fill="#905050"/>
<polygon points="378.65,302.18 376.58,298.45 380.72,298.45" fill="#905050"/>
<polygon points="418.85,305.94 416.78,302.21 420.92,302.21" fill="#905050"/>
<polygon points="459.05,308.8 456.98,305.07 461.12,305.07" fill="#905050"/>
<polygon points="499.25,312.69 497.18,308.97 501.32,308.97" fill="#905050"/>
<polygon points="302.27,239.44 304.34,241.51 302.27,243.58 300.2,241.51" fill="#408040"/>
<polygon points="318.35,262.21 320.42,264.28 318.35,266.35 316.28,264.28" fill="#408040"/>
<polygon points="338.45,280.38 340.52,282.45 338.45,284.52 336.38,282.45" fill="#408040"/>
<polygon points="358.55,285.79 360.62,287.86 358.55,289.93 356.48,287.86" fill="#408040"/>
<polygon points="378.65,291.82 380.72,293.89 378.65,295.96 376.58,293.89" fill="#408040"/>
<polygon points="418.85,296.83 420.92,298.9 418.85,300.97 416.78,298.9" fill="#408040"/>
<polygon points="459.05,300.71 461.12,302.78 459.05,304.85 456.98,302.78" fill="#408040"/>
<polygon points="499.25,305.31 501.32,307.38 499.25,309.45 497.18,307.38" fill="#408040"/>
<polygon points="300.2,261.44 303.93,259.37 303.93,263.51" fill="#20a0d0"/>
<polygon points="316.28,279.67 320.01,277.6 320.01,281.74" fill="#20a0d0"/>
<polygon points="336.38,293.9 340.11,291.83 340.11,295.97" fill="#20a0d0"/>
<polygon points="356.48,297.1 360.21,295.03 360.21,299.17" fill="#20a0d0"/>
<polygon points="376.58,300.73 380.31,298.66 380.31,302.8" fill="#20a0d0"/>
<polygon points="416.78,305.21 420.51,303.14 420.51,307.28" fill="#20a0d0"/>
<polygon points="456.98,310.04 460.71,307.97 460.71,312.11" fill="#20a0d0"/>
<polygon points="497.18,311.63 500.91,309.56 500.91,313.7" fill="#20a0d0"/>
<polygon points="304.34,248.16 300.61,246.09 300.61,250.23" fill="#1040a0"/>
<polygon points="320.42,268.79 316.69,266.72 316.69,270.86" fill="#1040a0"/>
<polygon points="340.52,285.29 336.79,283.22 336.79,287.36" fill="#1040a0"/>
<polygon points="360.62,290.75 356.89,288.68 356.89,292.82" fill="#1040a0"/>
<polygon points="380.72,295.21 376.99,293.14 376.99,297.28" fill="#1040a0"/>
<polygon points="420.92,300.44 417.19,298.37 417.19,302.51" fill="#1040a0"/>
<polygon points="461.12,304.15 457.39,302.08 457.39,306.22" fill="#1040a0"/>
<polygon points="501.32,307.11 497.59,305.04 497.59,309.18" fill="#1040a0"/>
<circle cx="302.27" cy="236.34" r="1.71" fill="#000000"/>
<circle cx="318.35" cy="260.81" r="1.71" fill="#000000"/>
<circle cx="338.45" cy="281.98" r="1.71" fill="#000000"/>
<circle cx="358.55" cy="287.9" r="1.71" fill="#000000"/>
<circle cx="378.65" cy="294.21" r="1.71" fill="#000000"/>
<circle cx="418.85" cy="300.5" r="1.71" fill="#000000"/>
<circle cx="459.05" cy="305.43" r="1.71" fill="#000000"/>
<circle cx="499.25" cy="308.8" r="1.71" fill="#000000"/>
<polygon points="302.27,237.15 302.75,238.48 304.15,238.52 303.04,239.38 303.43,240.73 302.27,239.94 301.11,240.73 301.5,239.38 300.39,238.52 301.79,238.48" fill="#ff0000"/>
<polygon points="318.35,254.46 318.83,255.79 320.23,255.83 319.12,256.69 319.51,258.04 318.35,257.25 317.19,258.04 317.58,256.69 316.47,255.83 317.87,255.79" fill="#ff0000"/>
<polygon points="338.45,267.48 338.93,268.81 340.33,268.85 339.22,269.71 339.61,271.06 338.45,270.27 337.29,271.06 337.68,269.71 336.57,268.85 337.97,268.81" fill="#ff0000"/>
<polygon points="358.55,271.45 359.03,272.77 360.43,272.81 359.32,273.68 359.71,275.03 358.55,274.24 357.39,275.03 357.78,273.68 356.67,272.81 358.07,272.77" fill="#ff0000"/>
<polygon points="378.65,274.26 379.13,275.58 380.53,275.63 379.42,276.49 379.81,277.84 378.65,277.05 377.49,277.84 377.88,276.49 376.77,275.63 378.17,275.58" fill="#ff0000"/>
<polygon points="418.85,279.85 419.33,281.17 420.73,281.22 419.62,282.08 420.01,283.43 418.85,282.64 417.69,283.43 418.08,282.08 416.97,281.22 418.37,281.17" fill="#ff0000"/>
<polygon points="459.05,282.28 459.53,283.61 460.93,283.65 459.82,284.51 460.21,285.87 459.05,285.07 457.89,285.87 458.28,284.51 457.17,283.65 458.57,283.61" fill="#ff0000"/>
<polygon points="499.25,285.38 499.73,286.7 501.13,286.74 500.02,287.61 500.41,288.96 499.25,288.17 498.09,288.96 498.48,287.61 497.37,286.74 498.77,286.7" fill="#ff0000"/>
<circle cx="302.27" cy="205.58" r="2.09" fill="#0000ff"/>
<circle cx="318.35" cy="234" r="2.09" fill="#0000ff"/>
<circle cx="338.45" cy="257.28" r="2.09" fill="#0000ff"/>
<circle cx="358.55" cy="264.01" r="2.09" fill="#0000ff"/>
<circle cx="378.65" cy="270.75" r="2.09" fill="#0000ff"/>
<circle cx="418.85" cy="277.49" r="2.09" fill="#0000ff"/>
<circle cx="459.05" cy="283" r="2.09" fill="#0000ff"/>
<circle cx="499.25" cy="286.68" r="2.09" fill="#0000ff"/>
<circle cx="302.27" cy="229.1" r="1.71" fill="#ff00ff"/>
<circle cx="318.35" cy="249.56" r="1.71" fill="#ff00ff"/>
<circle cx="338.45" cy="267.44" r="1.71" fill="#ff00ff"/>
<circle cx="358.55" cy="273.81" r="1.71" fill="#ff00ff"/>
<circle cx="378.65" cy="278.1" r="1.71" fill="#ff00ff"/>
<circle cx="418.85" cy="285.45" r="1.71" fill="#ff00ff"/>
<circle cx="459.05" cy="289.12" r="1.71" fill="#ff00ff"/>
<circle cx="499.25" cy="292.8" r="1.71" fill="#ff00ff"/>
<path d="M300.65 280.08H303.89" stroke="#40c040" stroke-width="0.7" fill="none"/>
<path d="M316.73 293.37H319.97" stroke="#40c040" stroke-width="0.7" fill="none"/>
<path d="M336.83 304.92H340.07" stroke="#40c040" stroke-width="0.7" fill="none"/>
<path d="M356.93 308.41H360.17" stroke="#40c040" stroke-width="0.7" fill="none"/>
<path d="M377.03 311.75H380.27" stroke="#40c040" stroke-width="0.7" fill="none"/>
<path d="M417.23 314.17H420.47" stroke="#40c040" stroke-width="0.7" fill="none"/>
<path d="M457.43 317.17H460.67" stroke="#40c040" stroke-width="0.7" fill="none"/>
<path d="M497.63 319.56H500.87" stroke="#40c040" stroke-width="0.7" fill="none"/>
<path d="M300.65 211.11L303.89 214.35M300.65 214.35L303.89 211.11" stroke="#9090e0" stroke-width="0.7" fill="none"/>
<path d="M316.73 239.42L319.97 242.66M316.73 242.66L319.97 239.42" stroke="#9090e0" stroke-width="0.7" fill="none"/>
<path d="M336.83 264.26L340.07 267.5M336.83 267.5L340.07 264.26" stroke="#9090e0" stroke-width="0.7" fill="none"/>
<path d="M356.93 271.1L360.17 274.34M356.93 274.34L360.17 271.1" stroke="#9090e0" stroke-width="0.7" fill="none"/>
<path d="M377.03 278.1L380.27 281.34M377.03 281.34L380.27 278.1" stroke="#9090e0" stroke-width="0.7" fill="none"/>
<path d="M417.23 284.48L420.47 287.72M417.23 287.72L420.47 284.48" stroke="#9090e0" stroke-width="0.7" fill="none"/>
<path d="M457.43 290.2L460.67 293.44M457.43 293.44L460.67 290.2" stroke="#9090e0" stroke-width="0.7" fill="none"/>
<path d="M497.63 295.55L500.87 298.79M497.63 298.79L500.87 295.55" stroke="#9090e0" stroke-width="0.7" fill="none"/>
</g>
<path d="M298.25 191.7V327.7M297.65 327.1H509.9M293.65 327.1H298.25M293.65 302.6H298.25M293.65 278.1H298.25M293.65 253.6H298.25M293.65 229.1H298.25M293.65 204.6H298.25M295.65 314.85H298.25M295.65 290.35H298.25M295.65 265.85H298.25M295.65 241.35H298.25M295.65 216.85H298.25M295.65 192.35H298.25M298.25 327.1V331.9M318.35 327.1V331.9M338.45 327.1V331.9M358.55 327.1V331.9M378.65 327.1V331.9M398.75 327.1V331.9M418.85 327.1V331.9M438.95 327.1V331.9M459.05 327.1V331.9M479.15 327.1V331.9M499.25 327.1V331.9M308.3 327.1V329.8M328.4 327.1V329.8M348.5 327.1V329.8M368.6 327.1V329.8M388.7 327.1V329.8M408.8 327.1V329.8M428.9 327.1V329.8M449 327.1V329.8M469.1 327.1V329.8M489.2 327.1V329.8M509.3 327.1V329.8" stroke="#111" stroke-width="1.25" fill="none"/>
<g font-size="10.6" fill="#1a1a1a" stroke="#1a1a1a" stroke-width="0.22">
<text x="291.35" y="330.6" text-anchor="end">0.00</text>
<text x="291.35" y="306.1" text-anchor="end">0.02</text>
<text x="291.35" y="281.6" text-anchor="end">0.04</text>
<text x="291.35" y="257.1" text-anchor="end">0.06</text>
<text x="291.35" y="232.6" text-anchor="end">0.08</text>
<text x="291.35" y="208.1" text-anchor="end">0.10</text>
<text x="298.25" y="342.8" text-anchor="middle">0.0</text>
<text x="318.35" y="342.8" text-anchor="middle">0.5</text>
<text x="338.45" y="342.8" text-anchor="middle">1.0</text>
<text x="358.55" y="342.8" text-anchor="middle">1.5</text>
<text x="378.65" y="342.8" text-anchor="middle">2.0</text>
<text x="398.75" y="342.8" text-anchor="middle">2.5</text>
<text x="418.85" y="342.8" text-anchor="middle">3.0</text>
<text x="438.95" y="342.8" text-anchor="middle">3.5</text>
<text x="459.05" y="342.8" text-anchor="middle">4.0</text>
<text x="479.15" y="342.8" text-anchor="middle">4.5</text>
<text x="499.25" y="342.8" text-anchor="middle">5.0</text>
</g>
<text x="403.75" y="356.9" font-size="11.8" text-anchor="middle" fill="#1a1a1a" stroke="#1a1a1a" stroke-width="0.25">SI (mm)</text>
<g fill="none" stroke-width="1" stroke-dasharray="4 2.4">
<polyline stroke="#202020" stroke-dashoffset="1.2" points="40.1,457.2 42.2,463.4 44.3,467.6 46.4,470.7 48.4,473.1 50.5,475.1 52.6,476.8 54.7,478.3 56.7,479.5 58.8,480.7 60.9,481.7 65.0,483.5 69.2,485.0 73.3,486.3 77.4,487.4 81.6,488.4 85.7,489.3 89.9,490.2 94.0,490.9 98.2,491.6 108.5,493.1 118.9,494.4 129.3,495.5 139.6,496.5 150.0,497.3 160.4,498.1 170.7,498.8 181.1,499.4 191.4,500.0 201.8,500.6 212.2,501.1 222.5,501.5 232.9,502.0 243.2,502.4"/>
<polyline stroke="#ff1010" stroke-dashoffset="2.7" points="40.1,452.1 42.2,457.1 44.3,460.5 46.4,463.1 48.4,465.1 50.5,466.8 52.6,468.2 54.7,469.4 56.7,470.5 58.8,471.5 60.9,472.4 65.0,473.9 69.2,475.2 73.3,476.3 77.4,477.3 81.6,478.2 85.7,479.0 89.9,479.8 94.0,480.4 98.2,481.0 108.5,482.4 118.9,483.6 129.3,484.6 139.6,485.4 150.0,486.2 160.4,486.9 170.7,487.6 181.1,488.2 191.4,488.7 201.8,489.2 212.2,489.7 222.5,490.2 232.9,490.6 243.2,491.0"/>
<polyline stroke="#1010ff" stroke-dashoffset="5.0" points="40.1,438.9 42.2,446.6 44.3,451.7 46.4,455.5 48.4,458.5 50.5,460.9 52.6,463.0 54.7,464.8 56.7,466.4 58.8,467.8 60.9,469.0 65.0,471.2 69.2,473.0 73.3,474.6 77.4,476.0 81.6,477.2 85.7,478.3 89.9,479.3 94.0,480.2 98.2,481.1 108.5,482.9 118.9,484.4 129.3,485.8 139.6,487.0 150.0,488.0 160.4,488.9 170.7,489.8 181.1,490.6 191.4,491.3 201.8,491.9 212.2,492.6 222.5,493.1 232.9,493.7 243.2,494.2"/>
<polyline stroke="#ff10ff" stroke-dashoffset="3.5" points="40.1,456.6 42.2,462.0 44.3,465.6 46.4,468.3 48.4,470.4 50.5,472.2 52.6,473.7 54.7,475.0 56.7,476.1 58.8,477.1 60.9,478.1 65.0,479.7 69.2,481.0 73.3,482.2 77.4,483.2 81.6,484.1 85.7,484.9 89.9,485.7 94.0,486.4 98.2,487.0 108.5,488.4 118.9,489.6 129.3,490.6 139.6,491.5 150.0,492.3 160.4,493.0 170.7,493.7 181.1,494.3 191.4,494.8 201.8,495.4 212.2,495.8 222.5,496.3 232.9,496.7 243.2,497.1"/>
<polyline stroke="#008800" stroke-dashoffset="0.7" points="40.1,432.2 42.2,439.0 44.3,443.6 46.4,447.0 48.4,449.7 50.5,451.9 52.6,453.8 54.7,455.4 56.7,456.9 58.8,458.2 60.9,459.3 65.0,461.3 69.2,463.0 73.3,464.5 77.4,465.8 81.6,467.0 85.7,468.0 89.9,469.0 94.0,469.9 98.2,470.7 108.5,472.4 118.9,473.9 129.3,475.2 139.6,476.3 150.0,477.3 160.4,478.3 170.7,479.1 181.1,479.8 191.4,480.5 201.8,481.2 212.2,481.8 222.5,482.4 232.9,482.9 243.2,483.4"/>
<polyline stroke="#101090" stroke-dashoffset="0.1" points="40.1,446.4 42.2,449.8 44.3,452.1 46.4,453.8 48.4,455.2 50.5,456.4 52.6,457.4 54.7,458.3 56.7,459.0 58.8,459.7 60.9,460.4 65.0,461.5 69.2,462.4 73.3,463.2 77.4,464.0 81.6,464.6 85.7,465.2 89.9,465.8 94.0,466.3 98.2,466.7 108.5,467.8 118.9,468.6 129.3,469.4 139.6,470.1 150.0,470.7 160.4,471.3 170.7,471.8 181.1,472.2 191.4,472.7 201.8,473.1 212.2,473.4 222.5,473.8 232.9,474.1 243.2,474.4"/>
<polyline stroke="#8010ff" stroke-dashoffset="0.7" points="40.1,435.6 42.2,440.2 44.3,443.3 46.4,445.7 48.4,447.6 50.5,449.1 52.6,450.5 54.7,451.6 56.7,452.7 58.8,453.6 60.9,454.4 65.0,455.9 69.2,457.1 73.3,458.2 77.4,459.2 81.6,460.0 85.7,460.8 89.9,461.5 94.0,462.2 98.2,462.8 108.5,464.1 118.9,465.3 129.3,466.3 139.6,467.1 150.0,467.9 160.4,468.6 170.7,469.3 181.1,469.9 191.4,470.4 201.8,470.9 212.2,471.4 222.5,471.8 232.9,472.3 243.2,472.7"/>
<polyline stroke="#881088" stroke-dashoffset="4.8" points="40.1,456.7 42.2,459.0 44.3,460.6 46.4,461.8 48.4,462.8 50.5,463.6 52.6,464.3 54.7,464.9 56.7,465.5 58.8,466.0 60.9,466.4 65.0,467.2 69.2,467.9 73.3,468.5 77.4,469.0 81.6,469.5 85.7,469.9 89.9,470.3 94.0,470.7 98.2,471.0 108.5,471.7 118.9,472.4 129.3,472.9 139.6,473.4 150.0,473.9 160.4,474.3 170.7,474.7 181.1,475.0 191.4,475.3 201.8,475.6 212.2,475.9 222.5,476.2 232.9,476.4 243.2,476.6"/>
<polyline stroke="#8a1010" stroke-dashoffset="1.1" points="40.1,428.1 42.2,435.8 44.3,440.9 46.4,444.8 48.4,447.8 50.5,450.3 52.6,452.4 54.7,454.3 56.7,455.9 58.8,457.3 60.9,458.6 65.0,460.8 69.2,462.7 73.3,464.4 77.4,465.8 81.6,467.1 85.7,468.2 89.9,469.3 94.0,470.2 98.2,471.1 108.5,473.0 118.9,474.6 129.3,476.0 139.6,477.3 150.0,478.4 160.4,479.4 170.7,480.3 181.1,481.1 191.4,481.8 201.8,482.5 212.2,483.2 222.5,483.8 232.9,484.4 243.2,484.9"/>
<polyline stroke="#888800" stroke-dashoffset="3.3" points="40.1,422.7 42.2,429.6 44.3,434.2 46.4,437.7 48.4,440.4 50.5,442.7 52.6,444.6 54.7,446.3 56.7,447.8 58.8,449.1 60.9,450.3 65.0,452.4 69.2,454.1 73.3,455.7 77.4,457.0 81.6,458.2 85.7,459.3 89.9,460.3 94.0,461.2 98.2,462.0 108.5,463.8 118.9,465.4 129.3,466.7 139.6,467.9 150.0,468.9 160.4,469.9 170.7,470.8 181.1,471.5 191.4,472.3 201.8,473.0 212.2,473.6 222.5,474.2 232.9,474.7 243.2,475.3"/>
<polyline stroke="#3888c0" stroke-dashoffset="1.7" points="40.1,414.4 42.2,422.5 44.3,428.0 46.4,432.0 48.4,435.2 50.5,437.9 52.6,440.1 54.7,442.0 56.7,443.8 58.8,445.3 60.9,446.6 65.0,449.0 69.2,451.0 73.3,452.8 77.4,454.3 81.6,455.7 85.7,456.9 89.9,458.0 94.0,459.1 98.2,460.0 108.5,462.1 118.9,463.8 129.3,465.3 139.6,466.7 150.0,467.9 160.4,468.9 170.7,469.9 181.1,470.8 191.4,471.6 201.8,472.4 212.2,473.1 222.5,473.7 232.9,474.3 243.2,474.9"/>
<polyline stroke="#10b4b4" stroke-dashoffset="4.1" points="40.1,439.0 42.2,445.6 44.3,450.0 46.4,453.3 48.4,456.0 50.5,458.1 52.6,460.0 54.7,461.6 56.7,463.0 58.8,464.2 60.9,465.3 65.0,467.3 69.2,468.9 73.3,470.3 77.4,471.6 81.6,472.7 85.7,473.7 89.9,474.6 94.0,475.5 98.2,476.2 108.5,477.9 118.9,479.4 129.3,480.6 139.6,481.7 150.0,482.7 160.4,483.5 170.7,484.3 181.1,485.1 191.4,485.7 201.8,486.3 212.2,486.9 222.5,487.5 232.9,488.0 243.2,488.4"/>
<polyline stroke="#c89838" stroke-dashoffset="2.3" points="40.1,436.7 42.2,444.0 44.3,448.9 46.4,452.5 48.4,455.4 50.5,457.7 52.6,459.7 54.7,461.4 56.7,462.9 58.8,464.3 60.9,465.5 65.0,467.6 69.2,469.4 73.3,470.9 77.4,472.2 81.6,473.4 85.7,474.5 89.9,475.5 94.0,476.4 98.2,477.2 108.5,479.0 118.9,480.5 129.3,481.8 139.6,483.0 150.0,484.0 160.4,485.0 170.7,485.8 181.1,486.6 191.4,487.3 201.8,487.9 212.2,488.5 222.5,489.1 232.9,489.6 243.2,490.1"/>
<polyline stroke="#10c848" stroke-dashoffset="0.9" points="40.1,443.5 42.2,450.2 44.3,454.7 46.4,458.1 48.4,460.8 50.5,463.0 52.6,464.8 54.7,466.4 56.7,467.8 58.8,469.1 60.9,470.2 65.0,472.2 69.2,473.8 73.3,475.2 77.4,476.5 81.6,477.6 85.7,478.6 89.9,479.5 94.0,480.4 98.2,481.1 108.5,482.8 118.9,484.2 129.3,485.5 139.6,486.6 150.0,487.5 160.4,488.4 170.7,489.2 181.1,489.9 191.4,490.5 201.8,491.2 212.2,491.7 222.5,492.3 232.9,492.8 243.2,493.2"/>
<polyline stroke="#d040a0" stroke-dashoffset="5.3" points="40.1,451.7 42.2,457.7 44.3,461.7 46.4,464.7 48.4,467.0 50.5,469.0 52.6,470.6 54.7,472.0 56.7,473.3 58.8,474.4 60.9,475.4 65.0,477.1 69.2,478.6 73.3,479.9 77.4,481.0 81.6,482.0 85.7,482.9 89.9,483.7 94.0,484.5 98.2,485.2 108.5,486.7 118.9,488.0 129.3,489.1 139.6,490.0 150.0,490.9 160.4,491.7 170.7,492.4 181.1,493.0 191.4,493.6 201.8,494.2 212.2,494.7 222.5,495.2 232.9,495.6 243.2,496.1"/>
<polyline stroke="#30d4d0" stroke-dashoffset="3.2" points="40.1,445.4 42.2,452.8 44.3,457.6 46.4,461.3 48.4,464.1 50.5,466.4 52.6,468.4 54.7,470.1 56.7,471.6 58.8,472.9 60.9,474.1 65.0,476.2 69.2,477.9 73.3,479.4 77.4,480.7 81.6,481.9 85.7,482.9 89.9,483.9 94.0,484.7 98.2,485.5 108.5,487.3 118.9,488.7 129.3,490.0 139.6,491.1 150.0,492.1 160.4,493.0 170.7,493.8 181.1,494.5 191.4,495.2 201.8,495.8 212.2,496.4 222.5,496.9 232.9,497.4 243.2,497.9"/>
<polyline stroke="#3434e0" stroke-dashoffset="4.1" points="40.1,424.4 42.2,431.8 44.3,436.8 46.4,440.5 48.4,443.4 50.5,445.8 52.6,447.9 54.7,449.7 56.7,451.2 58.8,452.6 60.9,453.9 65.0,456.1 69.2,457.9 73.3,459.5 77.4,460.9 81.6,462.2 85.7,463.3 89.9,464.3 94.0,465.3 98.2,466.1 108.5,468.0 118.9,469.7 129.3,471.0 139.6,472.3 150.0,473.4 160.4,474.4 170.7,475.2 181.1,476.1 191.4,476.8 201.8,477.5 212.2,478.2 222.5,478.8 232.9,479.3 243.2,479.9"/>
<polyline stroke="#a4c808" stroke-dashoffset="4.8" points="40.1,407.2 42.2,413.7 44.3,418.2 46.4,421.6 48.4,424.3 50.5,426.5 52.6,428.4 54.7,430.0 56.7,431.5 58.8,432.8 60.9,434.0 65.0,436.0 69.2,437.8 73.3,439.3 77.4,440.6 81.6,441.8 85.7,442.9 89.9,443.9 94.0,444.8 98.2,445.6 108.5,447.5 118.9,449.0 129.3,450.4 139.6,451.6 150.0,452.7 160.4,453.7 170.7,454.6 181.1,455.4 191.4,456.1 201.8,456.8 212.2,457.5 222.5,458.1 232.9,458.6 243.2,459.2"/>
<polyline stroke="#808080" stroke-dashoffset="5.7" points="40.1,410.8 42.2,418.3 44.3,423.3 46.4,427.1 48.4,430.1 50.5,432.6 52.6,434.7 54.7,436.5 56.7,438.1 58.8,439.5 60.9,440.8 65.0,443.1 69.2,445.0 73.3,446.7 77.4,448.1 81.6,449.4 85.7,450.6 89.9,451.7 94.0,452.7 98.2,453.6 108.5,455.5 118.9,457.2 129.3,458.7 139.6,460.0 150.0,461.1 160.4,462.2 170.7,463.1 181.1,464.0 191.4,464.8 201.8,465.5 212.2,466.2 222.5,466.9 232.9,467.5 243.2,468.0"/>
<polyline stroke="#c08060" stroke-dashoffset="0.1" points="40.1,428.1 42.2,435.8 44.3,441.0 46.4,444.8 48.4,447.8 50.5,450.3 52.6,452.5 54.7,454.3 56.7,455.9 58.8,457.3 60.9,458.6 65.0,460.8 69.2,462.7 73.3,464.3 77.4,465.8 81.6,467.0 85.7,468.2 89.9,469.2 94.0,470.2 98.2,471.1 108.5,473.0 118.9,474.6 129.3,476.0 139.6,477.2 150.0,478.3 160.4,479.3 170.7,480.2 181.1,481.0 191.4,481.8 201.8,482.5 212.2,483.1 222.5,483.7 232.9,484.3 243.2,484.9"/>
<polyline stroke="#28c428" stroke-dashoffset="2.1" points="40.1,419.1 42.2,426.9 44.3,432.1 46.4,436.0 48.4,439.1 50.5,441.6 52.6,443.8 54.7,445.6 56.7,447.3 58.8,448.7 60.9,450.1 65.0,452.3 69.2,454.3 73.3,456.0 77.4,457.4 81.6,458.7 85.7,459.9 89.9,461.0 94.0,462.0 98.2,462.9 108.5,464.9 118.9,466.6 129.3,468.0 139.6,469.3 150.0,470.5 160.4,471.5 170.7,472.4 181.1,473.3 191.4,474.1 201.8,474.8 212.2,475.5 222.5,476.1 232.9,476.7 243.2,477.3"/>
<polyline stroke="#10b0e0" stroke-dashoffset="0.9" points="40.1,431.1 42.2,438.8 44.3,443.9 46.4,447.8 48.4,450.8 50.5,453.3 52.6,455.4 54.7,457.2 56.7,458.8 58.8,460.2 60.9,461.5 65.0,463.7 69.2,465.6 73.3,467.2 77.4,468.6 81.6,469.9 85.7,471.0 89.9,472.1 94.0,473.0 98.2,473.9 108.5,475.8 118.9,477.4 129.3,478.8 139.6,480.0 150.0,481.1 160.4,482.0 170.7,482.9 181.1,483.7 191.4,484.5 201.8,485.2 212.2,485.8 222.5,486.4 232.9,487.0 243.2,487.5"/>
<polyline stroke="#4060d0" stroke-dashoffset="3.0" points="40.1,426.0 42.2,432.9 44.3,437.6 46.4,441.1 48.4,443.9 50.5,446.2 52.6,448.1 54.7,449.8 56.7,451.3 58.8,452.6 60.9,453.8 65.0,455.8 69.2,457.6 73.3,459.1 77.4,460.5 81.6,461.7 85.7,462.7 89.9,463.7 94.0,464.6 98.2,465.5 108.5,467.3 118.9,468.8 129.3,470.1 139.6,471.3 150.0,472.4 160.4,473.3 170.7,474.2 181.1,475.0 191.4,475.7 201.8,476.4 212.2,477.0 222.5,477.6 232.9,478.1 243.2,478.6"/>
<polyline stroke="#10e010" stroke-dashoffset="5.2" points="40.1,413.8 42.2,422.8 44.3,428.8 46.4,433.2 48.4,436.7 50.5,439.6 52.6,442.1 54.7,444.2 56.7,446.0 58.8,447.7 60.9,449.2 65.0,451.7 69.2,453.9 73.3,455.8 77.4,457.4 81.6,458.9 85.7,460.2 89.9,461.4 94.0,462.5 98.2,463.5 108.5,465.7 118.9,467.6 129.3,469.2 139.6,470.6 150.0,471.8 160.4,473.0 170.7,474.0 181.1,474.9 191.4,475.8 201.8,476.6 212.2,477.3 222.5,478.0 232.9,478.6 243.2,479.2"/>
<polyline stroke="#10dcf0" stroke-dashoffset="4.8" points="40.1,417.7 42.2,423.6 44.3,427.7 46.4,430.8 48.4,433.3 50.5,435.3 52.6,437.0 54.7,438.5 56.7,439.9 58.8,441.1 60.9,442.1 65.0,444.0 69.2,445.6 73.3,447.0 77.4,448.2 81.6,449.3 85.7,450.3 89.9,451.2 94.0,452.1 98.2,452.8 108.5,454.5 118.9,456.0 129.3,457.2 139.6,458.3 150.0,459.3 160.4,460.2 170.7,461.0 181.1,461.8 191.4,462.4 201.8,463.1 212.2,463.7 222.5,464.2 232.9,464.8 243.2,465.3"/>
<polyline stroke="#f0f000" stroke-dashoffset="0.2" points="40.1,390.4 42.2,398.4 44.3,403.7 46.4,407.8 48.4,411.0 50.5,413.7 52.6,415.9 54.7,417.9 56.7,419.6 58.8,421.2 60.9,422.6 65.0,425.0 69.2,427.1 73.3,428.9 77.4,430.5 81.6,431.9 85.7,433.2 89.9,434.3 94.0,435.4 98.2,436.4 108.5,438.6 118.9,440.4 129.3,442.0 139.6,443.4 150.0,444.7 160.4,445.8 170.7,446.9 181.1,447.8 191.4,448.7 201.8,449.5 212.2,450.3 222.5,451.0 232.9,451.6 243.2,452.3"/>
<polyline stroke="#109070" stroke-dashoffset="1.1" points="40.1,408.5 42.2,415.1 44.3,419.5 46.4,422.9 48.4,425.6 50.5,427.8 52.6,429.7 54.7,431.4 56.7,432.8 58.8,434.1 60.9,435.3 65.0,437.4 69.2,439.1 73.3,440.6 77.4,442.0 81.6,443.2 85.7,444.3 89.9,445.2 94.0,446.2 98.2,447.0 108.5,448.8 118.9,450.4 129.3,451.8 139.6,453.0 150.0,454.0 160.4,455.0 170.7,455.9 181.1,456.7 191.4,457.5 201.8,458.2 212.2,458.8 222.5,459.4 232.9,460.0 243.2,460.5"/>
<polyline stroke="#1010d0" stroke-dashoffset="4.9" points="40.1,448.5 42.2,455.6 44.3,460.3 46.4,463.8 48.4,466.6 50.5,468.8 52.6,470.7 54.7,472.4 56.7,473.8 58.8,475.1 60.9,476.2 65.0,478.2 69.2,479.9 73.3,481.3 77.4,482.6 81.6,483.7 85.7,484.7 89.9,485.7 94.0,486.5 98.2,487.3 108.5,489.0 118.9,490.4 129.3,491.6 139.6,492.7 150.0,493.6 160.4,494.5 170.7,495.3 181.1,496.0 191.4,496.6 201.8,497.2 212.2,497.8 222.5,498.3 232.9,498.8 243.2,499.3"/>
<polyline stroke="#ff8810" stroke-dashoffset="4.1" points="40.1,397.4 42.2,406.9 44.3,413.3 46.4,418.1 48.4,421.8 50.5,424.9 52.6,427.6 54.7,429.8 56.7,431.8 58.8,433.6 60.9,435.2 65.0,438.0 69.2,440.3 73.3,442.3 77.4,444.1 81.6,445.7 85.7,447.1 89.9,448.4 94.0,449.6 98.2,450.7 108.5,453.1 118.9,455.1 129.3,456.9 139.6,458.4 150.0,459.8 160.4,461.0 170.7,462.1 181.1,463.1 191.4,464.1 201.8,464.9 212.2,465.8 222.5,466.5 232.9,467.2 243.2,467.9"/>
</g>
<g>
<rect x="38.62" y="461.1" width="3.06" height="3.06" fill="#000000"/>
<rect x="55.2" y="471.66" width="3.06" height="3.06" fill="#000000"/>
<rect x="75.92" y="479.78" width="3.06" height="3.06" fill="#000000"/>
<rect x="96.65" y="485.47" width="3.06" height="3.06" fill="#000000"/>
<rect x="117.37" y="490.35" width="3.06" height="3.06" fill="#000000"/>
<rect x="158.82" y="498.47" width="3.06" height="3.06" fill="#000000"/>
<rect x="200.27" y="503.59" width="3.06" height="3.06" fill="#000000"/>
<rect x="241.72" y="509.44" width="3.06" height="3.06" fill="#000000"/>
<circle cx="40.15" cy="455.03" r="1.71" fill="#ff0000"/>
<circle cx="56.73" cy="466.34" r="1.71" fill="#ff0000"/>
<circle cx="77.45" cy="476.46" r="1.71" fill="#ff0000"/>
<circle cx="98.18" cy="477.8" r="1.71" fill="#ff0000"/>
<circle cx="118.9" cy="482.58" r="1.71" fill="#ff0000"/>
<circle cx="160.35" cy="487.73" r="1.71" fill="#ff0000"/>
<circle cx="201.8" cy="492.14" r="1.71" fill="#ff0000"/>
<circle cx="243.25" cy="493.89" r="1.71" fill="#ff0000"/>
<polygon points="40.15,442.16 38.08,445.89 42.22,445.89" fill="#0000ff"/>
<polygon points="56.73,454.61 54.66,458.33 58.8,458.33" fill="#0000ff"/>
<polygon points="77.45,470.75 75.38,474.47 79.52,474.47" fill="#0000ff"/>
<polygon points="98.18,476.99 96.11,480.71 100.25,480.71" fill="#0000ff"/>
<polygon points="118.9,482.15 116.83,485.88 120.97,485.88" fill="#0000ff"/>
<polygon points="160.35,488.46 158.28,492.19 162.42,492.19" fill="#0000ff"/>
<polygon points="201.8,493.34 199.73,497.06 203.87,497.06" fill="#0000ff"/>
<polygon points="243.25,497.56 241.18,501.29 245.32,501.29" fill="#0000ff"/>
<polygon points="40.15,461.8 38.08,458.08 42.22,458.08" fill="#ff00ff"/>
<polygon points="56.73,473.72 54.66,470 58.8,470" fill="#ff00ff"/>
<polygon points="77.45,483.54 75.38,479.81 79.52,479.81" fill="#ff00ff"/>
<polygon points="98.18,485.85 96.11,482.12 100.25,482.12" fill="#ff00ff"/>
<polygon points="118.9,491.59 116.83,487.86 120.97,487.86" fill="#ff00ff"/>
<polygon points="160.35,495.97 158.28,492.24 162.42,492.24" fill="#ff00ff"/>
<polygon points="201.8,499.99 199.73,496.26 203.87,496.26" fill="#ff00ff"/>
<polygon points="243.25,502.48 241.18,498.75 245.32,498.75" fill="#ff00ff"/>
<polygon points="40.15,434.76 42.22,436.83 40.15,438.9 38.08,436.83" fill="#008000"/>
<polygon points="56.73,446.57 58.8,448.64 56.73,450.71 54.66,448.64" fill="#008000"/>
<polygon points="77.45,462.89 79.52,464.96 77.45,467.03 75.38,464.96" fill="#008000"/>
<polygon points="98.18,464.93 100.25,467 98.18,469.07 96.11,467" fill="#008000"/>
<polygon points="118.9,471.56 120.97,473.63 118.9,475.7 116.83,473.63" fill="#008000"/>
<polygon points="160.35,477.86 162.42,479.93 160.35,482 158.28,479.93" fill="#008000"/>
<polygon points="201.8,482.42 203.87,484.49 201.8,486.56 199.73,484.49" fill="#008000"/>
<polygon points="243.25,485.22 245.32,487.29 243.25,489.36 241.18,487.29" fill="#008000"/>
<polygon points="38.08,448.2 41.8,446.13 41.8,450.27" fill="#000080"/>
<polygon points="54.66,456.71 58.38,454.64 58.38,458.78" fill="#000080"/>
<polygon points="75.38,463.19 79.11,461.12 79.11,465.26" fill="#000080"/>
<polygon points="96.11,465.35 99.83,463.28 99.83,467.42" fill="#000080"/>
<polygon points="116.83,468.61 120.56,466.54 120.56,470.68" fill="#000080"/>
<polygon points="158.28,471.47 162.01,469.4 162.01,473.54" fill="#000080"/>
<polygon points="199.73,473.96 203.46,471.89 203.46,476.03" fill="#000080"/>
<polygon points="241.18,476.13 244.91,474.06 244.91,478.2" fill="#000080"/>
<polygon points="42.22,438.52 38.49,436.45 38.49,440.59" fill="#8000ff"/>
<polygon points="58.8,447.88 55.07,445.81 55.07,449.95" fill="#8000ff"/>
<polygon points="79.52,458.39 75.79,456.32 75.79,460.46" fill="#8000ff"/>
<polygon points="100.25,461.39 96.52,459.32 96.52,463.46" fill="#8000ff"/>
<polygon points="120.97,465.47 117.24,463.4 117.24,467.54" fill="#8000ff"/>
<polygon points="162.42,468.69 158.69,466.62 158.69,470.76" fill="#8000ff"/>
<polygon points="203.87,472.76 200.14,470.69 200.14,474.83" fill="#8000ff"/>
<polygon points="245.32,474.8 241.59,472.73 241.59,476.87" fill="#8000ff"/>
<circle cx="40.15" cy="458.24" r="1.71" fill="#800080"/>
<circle cx="56.73" cy="463.35" r="1.71" fill="#800080"/>
<circle cx="77.45" cy="468.34" r="1.71" fill="#800080"/>
<circle cx="98.18" cy="470.11" r="1.71" fill="#800080"/>
<circle cx="118.9" cy="472.38" r="1.71" fill="#800080"/>
<circle cx="160.35" cy="474.18" r="1.71" fill="#800080"/>
<circle cx="201.8" cy="476.57" r="1.71" fill="#800080"/>
<circle cx="243.25" cy="477.96" r="1.71" fill="#800080"/>
<polygon points="40.15,432.29 40.62,433.62 42.03,433.66 40.92,434.52 41.31,435.88 40.15,435.08 38.98,435.88 39.37,434.52 38.26,433.66 39.67,433.62" fill="#800000"/>
<polygon points="56.73,443.1 57.2,444.42 58.61,444.46 57.5,445.33 57.89,446.68 56.73,445.89 55.56,446.68 55.95,445.33 54.84,444.46 56.25,444.42" fill="#800000"/>
<polygon points="77.45,460.37 77.93,461.7 79.33,461.74 78.22,462.6 78.61,463.95 77.45,463.16 76.29,463.95 76.68,462.6 75.57,461.74 76.97,461.7" fill="#800000"/>
<polygon points="98.18,465.86 98.65,467.18 100.06,467.22 98.95,468.09 99.34,469.44 98.18,468.65 97.01,469.44 97.4,468.09 96.29,467.22 97.7,467.18" fill="#800000"/>
<polygon points="118.9,472.71 119.38,474.04 120.78,474.08 119.67,474.94 120.06,476.3 118.9,475.5 117.74,476.3 118.13,474.94 117.02,474.08 118.42,474.04" fill="#800000"/>
<polygon points="160.35,479.97 160.83,481.3 162.23,481.34 161.12,482.21 161.51,483.56 160.35,482.76 159.19,483.56 159.58,482.21 158.47,481.34 159.87,481.3" fill="#800000"/>
<polygon points="201.8,484.06 202.28,485.39 203.68,485.43 202.57,486.29 202.96,487.65 201.8,486.85 200.64,487.65 201.03,486.29 199.92,485.43 201.32,485.39" fill="#800000"/>
<polygon points="243.25,488.84 243.73,490.16 245.13,490.21 244.02,491.07 244.41,492.42 243.25,491.63 242.09,492.42 242.48,491.07 241.37,490.21 242.77,490.16" fill="#800000"/>
<circle cx="40.15" cy="427.23" r="1.71" fill="#808000"/>
<circle cx="56.73" cy="440.05" r="1.71" fill="#808000"/>
<circle cx="77.45" cy="455.55" r="1.71" fill="#808000"/>
<circle cx="98.18" cy="458.6" r="1.71" fill="#808000"/>
<circle cx="118.9" cy="465.96" r="1.71" fill="#808000"/>
<circle cx="160.35" cy="471.52" r="1.71" fill="#808000"/>
<circle cx="201.8" cy="475.01" r="1.71" fill="#808000"/>
<circle cx="243.25" cy="479.41" r="1.71" fill="#808000"/>
<circle cx="40.15" cy="420.56" r="1.71" fill="#2060b0"/>
<circle cx="56.73" cy="432.76" r="1.71" fill="#2060b0"/>
<circle cx="77.45" cy="452.58" r="1.71" fill="#2060b0"/>
<circle cx="98.18" cy="456.33" r="1.71" fill="#2060b0"/>
<circle cx="118.9" cy="463.19" r="1.71" fill="#2060b0"/>
<circle cx="160.35" cy="470.7" r="1.71" fill="#2060b0"/>
<circle cx="201.8" cy="476.72" r="1.71" fill="#2060b0"/>
<circle cx="243.25" cy="480.36" r="1.71" fill="#2060b0"/>
<path d="M38.53 443.01H41.77M40.15 441.39V444.63" stroke="#70c8d8" stroke-width="0.7" fill="none"/>
<path d="M55.11 457.18H58.34M56.73 455.56V458.8" stroke="#70c8d8" stroke-width="0.7" fill="none"/>
<path d="M75.83 467.88H79.07M77.45 466.26V469.5" stroke="#70c8d8" stroke-width="0.7" fill="none"/>
<path d="M96.56 474.07H99.8M98.18 472.45V475.69" stroke="#70c8d8" stroke-width="0.7" fill="none"/>
<path d="M117.28 478.9H120.52M118.9 477.28V480.52" stroke="#70c8d8" stroke-width="0.7" fill="none"/>
<path d="M158.73 484.64H161.97M160.35 483.02V486.26" stroke="#70c8d8" stroke-width="0.7" fill="none"/>
<path d="M200.18 490.1H203.42M201.8 488.48V491.72" stroke="#70c8d8" stroke-width="0.7" fill="none"/>
<path d="M241.63 492.11H244.87M243.25 490.49V493.73" stroke="#70c8d8" stroke-width="0.7" fill="none"/>
<path d="M38.53 440.29L41.77 443.53M38.53 443.53L41.77 440.29" stroke="#e0a060" stroke-width="0.7" fill="none"/>
<path d="M55.11 451.88L58.34 455.12M55.11 455.12L58.34 451.88" stroke="#e0a060" stroke-width="0.7" fill="none"/>
<path d="M75.83 468.17L79.07 471.41M75.83 471.41L79.07 468.17" stroke="#e0a060" stroke-width="0.7" fill="none"/>
<path d="M96.56 473.32L99.8 476.56M96.56 476.56L99.8 473.32" stroke="#e0a060" stroke-width="0.7" fill="none"/>
<path d="M117.28 479.31L120.52 482.55M117.28 482.55L120.52 479.31" stroke="#e0a060" stroke-width="0.7" fill="none"/>
<path d="M158.73 484.15L161.97 487.39M158.73 487.39L161.97 484.15" stroke="#e0a060" stroke-width="0.7" fill="none"/>
<path d="M200.18 489.64L203.42 492.88M200.18 492.88L203.42 489.64" stroke="#e0a060" stroke-width="0.7" fill="none"/>
<path d="M241.63 493.61L244.87 496.85M241.63 496.85L244.87 493.61" stroke="#e0a060" stroke-width="0.7" fill="none"/>
<path d="M38.53 446.08L41.77 449.32M38.53 449.32L41.77 446.08M40.15 446.08V449.32" stroke="#40d060" stroke-width="0.7" fill="none"/>
<path d="M55.11 459.64L58.34 462.88M55.11 462.88L58.34 459.64M56.73 459.64V462.88" stroke="#40d060" stroke-width="0.7" fill="none"/>
<path d="M75.83 471.61L79.07 474.85M75.83 474.85L79.07 471.61M77.45 471.61V474.85" stroke="#40d060" stroke-width="0.7" fill="none"/>
<path d="M96.56 477.1L99.8 480.34M96.56 480.34L99.8 477.1M98.18 477.1V480.34" stroke="#40d060" stroke-width="0.7" fill="none"/>
<path d="M117.28 481.6L120.52 484.84M117.28 484.84L120.52 481.6M118.9 481.6V484.84" stroke="#40d060" stroke-width="0.7" fill="none"/>
<path d="M158.73 488.76L161.97 492M158.73 492L161.97 488.76M160.35 488.76V492" stroke="#40d060" stroke-width="0.7" fill="none"/>
<path d="M200.18 493.1L203.42 496.34M200.18 496.34L203.42 493.1M201.8 493.1V496.34" stroke="#40d060" stroke-width="0.7" fill="none"/>
<path d="M241.63 495.6L244.87 498.84M241.63 498.84L244.87 495.6M243.25 495.6V498.84" stroke="#40d060" stroke-width="0.7" fill="none"/>
<path d="M38.53 455.04H41.77" stroke="#f080a0" stroke-width="0.7" fill="none"/>
<path d="M55.11 468.46H58.34" stroke="#f080a0" stroke-width="0.7" fill="none"/>
<path d="M75.83 478.76H79.07" stroke="#f080a0" stroke-width="0.7" fill="none"/>
<path d="M96.56 482.81H99.8" stroke="#f080a0" stroke-width="0.7" fill="none"/>
<path d="M117.28 487.18H120.52" stroke="#f080a0" stroke-width="0.7" fill="none"/>
<path d="M158.73 491.9H161.97" stroke="#f080a0" stroke-width="0.7" fill="none"/>
<path d="M200.18 497.66H203.42" stroke="#f080a0" stroke-width="0.7" fill="none"/>
<path d="M241.63 499.67H244.87" stroke="#f080a0" stroke-width="0.7" fill="none"/>
<path d="M40.15 448.99V452.23" stroke="#a0e0d8" stroke-width="0.7" fill="none"/>
<path d="M56.73 460.61V463.85" stroke="#a0e0d8" stroke-width="0.7" fill="none"/>
<path d="M77.45 476.5V479.74" stroke="#a0e0d8" stroke-width="0.7" fill="none"/>
<path d="M98.18 481.35V484.59" stroke="#a0e0d8" stroke-width="0.7" fill="none"/>
<path d="M118.9 486.18V489.42" stroke="#a0e0d8" stroke-width="0.7" fill="none"/>
<path d="M160.35 493.45V496.69" stroke="#a0e0d8" stroke-width="0.7" fill="none"/>
<path d="M201.8 498.03V501.27" stroke="#a0e0d8" stroke-width="0.7" fill="none"/>
<path d="M243.25 501.48V504.72" stroke="#a0e0d8" stroke-width="0.7" fill="none"/>
<rect x="38.62" y="427.98" width="3.06" height="3.06" fill="#2030b0"/>
<rect x="55.2" y="440.28" width="3.06" height="3.06" fill="#2030b0"/>
<rect x="75.92" y="457.57" width="3.06" height="3.06" fill="#2030b0"/>
<rect x="96.65" y="462.86" width="3.06" height="3.06" fill="#2030b0"/>
<rect x="117.37" y="468.18" width="3.06" height="3.06" fill="#2030b0"/>
<rect x="158.82" y="473.69" width="3.06" height="3.06" fill="#2030b0"/>
<rect x="200.27" y="478.49" width="3.06" height="3.06" fill="#2030b0"/>
<rect x="241.72" y="483.36" width="3.06" height="3.06" fill="#2030b0"/>
<polygon points="40.15,408.66 42.22,410.73 40.15,412.8 38.08,410.73" fill="#80a010"/>
<polygon points="56.73,424.31 58.8,426.38 56.73,428.45 54.66,426.38" fill="#80a010"/>
<polygon points="77.45,436.35 79.52,438.42 77.45,440.49 75.38,438.42" fill="#80a010"/>
<polygon points="98.18,441.18 100.25,443.25 98.18,445.32 96.11,443.25" fill="#80a010"/>
<polygon points="118.9,447.53 120.97,449.6 118.9,451.67 116.83,449.6" fill="#80a010"/>
<polygon points="160.35,451.44 162.42,453.51 160.35,455.58 158.28,453.51" fill="#80a010"/>
<polygon points="201.8,457.34 203.87,459.41 201.8,461.48 199.73,459.41" fill="#80a010"/>
<polygon points="243.25,460.49 245.32,462.56 243.25,464.63 241.18,462.56" fill="#80a010"/>
<polygon points="40.15,412.56 38.08,416.28 42.22,416.28" fill="#606060"/>
<polygon points="56.73,430.45 54.66,434.18 58.8,434.18" fill="#606060"/>
<polygon points="77.45,444.58 75.38,448.3 79.52,448.3" fill="#606060"/>
<polygon points="98.18,446.88 96.11,450.6 100.25,450.6" fill="#606060"/>
<polygon points="118.9,455.1 116.83,458.83 120.97,458.83" fill="#606060"/>
<polygon points="160.35,461.89 158.28,465.62 162.42,465.62" fill="#606060"/>
<polygon points="201.8,466.34 199.73,470.07 203.87,470.07" fill="#606060"/>
<polygon points="243.25,469.56 241.18,473.28 245.32,473.28" fill="#606060"/>
<polygon points="40.15,435.83 38.08,432.1 42.22,432.1" fill="#905050"/>
<polygon points="56.73,447.26 54.66,443.53 58.8,443.53" fill="#905050"/>
<polygon points="77.45,466.85 75.38,463.12 79.52,463.12" fill="#905050"/>
<polygon points="98.18,469.27 96.11,465.54 100.25,465.54" fill="#905050"/>
<polygon points="118.9,476.87 116.83,473.15 120.97,473.15" fill="#905050"/>
<polygon points="160.35,483.25 158.28,479.52 162.42,479.52" fill="#905050"/>
<polygon points="201.8,487.87 199.73,484.15 203.87,484.15" fill="#905050"/>
<polygon points="243.25,492.15 241.18,488.42 245.32,488.42" fill="#905050"/>
<polygon points="40.15,422.45 42.22,424.52 40.15,426.59 38.08,424.52" fill="#408040"/>
<polygon points="56.73,435.8 58.8,437.87 56.73,439.94 54.66,437.87" fill="#408040"/>
<polygon points="77.45,453.39 79.52,455.46 77.45,457.53 75.38,455.46" fill="#408040"/>
<polygon points="98.18,457.16 100.25,459.23 98.18,461.3 96.11,459.23" fill="#408040"/>
<polygon points="118.9,464.52 120.97,466.59 118.9,468.66 116.83,466.59" fill="#408040"/>
<polygon points="160.35,470.95 162.42,473.02 160.35,475.09 158.28,473.02" fill="#408040"/>
<polygon points="201.8,476.58 203.87,478.65 201.8,480.72 199.73,478.65" fill="#408040"/>
<polygon points="243.25,480.01 245.32,482.08 243.25,484.15 241.18,482.08" fill="#408040"/>
<polygon points="38.08,435.47 41.8,433.4 41.8,437.54" fill="#20a0d0"/>
<polygon points="54.66,451.57 58.38,449.5 58.38,453.64" fill="#20a0d0"/>
<polygon points="75.38,465.92 79.11,463.85 79.11,467.99" fill="#20a0d0"/>
<polygon points="96.11,471.21 99.83,469.14 99.83,473.28" fill="#20a0d0"/>
<polygon points="116.83,476.85 120.56,474.78 120.56,478.92" fill="#20a0d0"/>
<polygon points="158.28,483.34 162.01,481.27 162.01,485.41" fill="#20a0d0"/>
<polygon points="199.73,488.43 203.46,486.36 203.46,490.5" fill="#20a0d0"/>
<polygon points="241.18,492.22 244.91,490.15 244.91,494.29" fill="#20a0d0"/>
<polygon points="42.22,429.72 38.49,427.65 38.49,431.79" fill="#1040a0"/>
<polygon points="58.8,445.77 55.07,443.7 55.07,447.84" fill="#1040a0"/>
<polygon points="79.52,457.83 75.79,455.76 75.79,459.9" fill="#1040a0"/>
<polygon points="100.25,463.31 96.52,461.24 96.52,465.38" fill="#1040a0"/>
<polygon points="120.97,468.13 117.24,466.06 117.24,470.2" fill="#1040a0"/>
<polygon points="162.42,474.43 158.69,472.36 158.69,476.5" fill="#1040a0"/>
<polygon points="203.87,479.36 200.14,477.29 200.14,481.43" fill="#1040a0"/>
<polygon points="245.32,482.16 241.59,480.09 241.59,484.23" fill="#1040a0"/>
<circle cx="40.15" cy="420.01" r="1.71" fill="#000000"/>
<circle cx="56.73" cy="435.46" r="1.71" fill="#000000"/>
<circle cx="77.45" cy="454.9" r="1.71" fill="#000000"/>
<circle cx="98.18" cy="458.32" r="1.71" fill="#000000"/>
<circle cx="118.9" cy="466.92" r="1.71" fill="#000000"/>
<circle cx="160.35" cy="475.82" r="1.71" fill="#000000"/>
<circle cx="201.8" cy="480.88" r="1.71" fill="#000000"/>
<circle cx="243.25" cy="485.65" r="1.71" fill="#000000"/>
<polygon points="40.15,420.34 40.62,421.66 42.03,421.71 40.92,422.57 41.31,423.92 40.15,423.13 38.98,423.92 39.37,422.57 38.26,421.71 39.67,421.66" fill="#ff0000"/>
<polygon points="56.73,430.37 57.2,431.69 58.61,431.74 57.5,432.6 57.89,433.95 56.73,433.16 55.56,433.95 55.95,432.6 54.84,431.74 56.25,431.69" fill="#ff0000"/>
<polygon points="77.45,443.67 77.93,445 79.33,445.04 78.22,445.9 78.61,447.25 77.45,446.46 76.29,447.25 76.68,445.9 75.57,445.04 76.97,445" fill="#ff0000"/>
<polygon points="98.18,449.57 98.65,450.89 100.06,450.93 98.95,451.8 99.34,453.15 98.18,452.36 97.01,453.15 97.4,451.8 96.29,450.93 97.7,450.89" fill="#ff0000"/>
<polygon points="118.9,453.73 119.38,455.05 120.78,455.09 119.67,455.96 120.06,457.31 118.9,456.52 117.74,457.31 118.13,455.96 117.02,455.09 118.42,455.05" fill="#ff0000"/>
<polygon points="160.35,458.74 160.83,460.07 162.23,460.11 161.12,460.97 161.51,462.32 160.35,461.53 159.19,462.32 159.58,460.97 158.47,460.11 159.87,460.07" fill="#ff0000"/>
<polygon points="201.8,464.11 202.28,465.43 203.68,465.48 202.57,466.34 202.96,467.69 201.8,466.9 200.64,467.69 201.03,466.34 199.92,465.48 201.32,465.43" fill="#ff0000"/>
<polygon points="243.25,466.96 243.73,468.29 245.13,468.33 244.02,469.19 244.41,470.54 243.25,469.75 242.09,470.54 242.48,469.19 241.37,468.33 242.77,468.29" fill="#ff0000"/>
<circle cx="40.15" cy="396.16" r="2.09" fill="#0000ff"/>
<circle cx="56.73" cy="410.06" r="2.09" fill="#0000ff"/>
<circle cx="77.45" cy="428.5" r="2.09" fill="#0000ff"/>
<circle cx="98.18" cy="432.97" r="2.09" fill="#0000ff"/>
<circle cx="118.9" cy="440.28" r="2.09" fill="#0000ff"/>
<circle cx="160.35" cy="447.19" r="2.09" fill="#0000ff"/>
<circle cx="201.8" cy="452.88" r="2.09" fill="#0000ff"/>
<circle cx="243.25" cy="457.26" r="2.09" fill="#0000ff"/>
<circle cx="40.15" cy="413.06" r="1.71" fill="#ff00ff"/>
<circle cx="56.73" cy="426.06" r="1.71" fill="#ff00ff"/>
<circle cx="77.45" cy="439.06" r="1.71" fill="#ff00ff"/>
<circle cx="98.18" cy="445.56" r="1.71" fill="#ff00ff"/>
<circle cx="118.9" cy="449.62" r="1.71" fill="#ff00ff"/>
<circle cx="160.35" cy="455.31" r="1.71" fill="#ff00ff"/>
<circle cx="201.8" cy="459.62" r="1.71" fill="#ff00ff"/>
<circle cx="243.25" cy="466.36" r="1.71" fill="#ff00ff"/>
<path d="M38.53 452.18H41.77" stroke="#40c040" stroke-width="0.7" fill="none"/>
<path d="M55.11 467.42H58.34" stroke="#40c040" stroke-width="0.7" fill="none"/>
<path d="M75.83 481.48H79.07" stroke="#40c040" stroke-width="0.7" fill="none"/>
<path d="M96.56 484.6H99.8" stroke="#40c040" stroke-width="0.7" fill="none"/>
<path d="M117.28 489.13H120.52" stroke="#40c040" stroke-width="0.7" fill="none"/>
<path d="M158.73 495.16H161.97" stroke="#40c040" stroke-width="0.7" fill="none"/>
<path d="M200.18 500.47H203.42" stroke="#40c040" stroke-width="0.7" fill="none"/>
<path d="M241.63 503.73H244.87" stroke="#40c040" stroke-width="0.7" fill="none"/>
<path d="M38.53 402.09L41.77 405.33M38.53 405.33L41.77 402.09" stroke="#9090e0" stroke-width="0.7" fill="none"/>
<path d="M55.11 418.42L58.34 421.66M55.11 421.66L58.34 418.42" stroke="#9090e0" stroke-width="0.7" fill="none"/>
<path d="M75.83 439.78L79.07 443.02M75.83 443.02L79.07 439.78" stroke="#9090e0" stroke-width="0.7" fill="none"/>
<path d="M96.56 447.26L99.8 450.5M96.56 450.5L99.8 447.26" stroke="#9090e0" stroke-width="0.7" fill="none"/>
<path d="M117.28 453.55L120.52 456.79M117.28 456.79L120.52 453.55" stroke="#9090e0" stroke-width="0.7" fill="none"/>
<path d="M158.73 460.59L161.97 463.83M158.73 463.83L161.97 460.59" stroke="#9090e0" stroke-width="0.7" fill="none"/>
<path d="M200.18 466.99L203.42 470.23M200.18 470.23L203.42 466.99" stroke="#9090e0" stroke-width="0.7" fill="none"/>
<path d="M241.63 472.07L244.87 475.31M241.63 475.31L244.87 472.07" stroke="#9090e0" stroke-width="0.7" fill="none"/>
</g>
<path d="M36 385.65V516.85M35.4 516.25H254.21M31.4 516.25H36M31.4 483.75H36M31.4 451.25H36M31.4 418.75H36M31.4 386.25H36M33.4 500H36M33.4 467.5H36M33.4 435H36M33.4 402.5H36M36 516.25V521.05M56.73 516.25V521.05M77.45 516.25V521.05M98.18 516.25V521.05M118.9 516.25V521.05M139.62 516.25V521.05M160.35 516.25V521.05M181.08 516.25V521.05M201.8 516.25V521.05M222.53 516.25V521.05M243.25 516.25V521.05M46.36 516.25V518.95M67.09 516.25V518.95M87.81 516.25V518.95M108.54 516.25V518.95M129.26 516.25V518.95M149.99 516.25V518.95M170.71 516.25V518.95M191.44 516.25V518.95M212.16 516.25V518.95M232.89 516.25V518.95M253.61 516.25V518.95" stroke="#111" stroke-width="1.25" fill="none"/>
<g font-size="10.6" fill="#1a1a1a" stroke="#1a1a1a" stroke-width="0.22">
<text x="29.1" y="519.75" text-anchor="end">4</text>
<text x="29.1" y="487.25" text-anchor="end">8</text>
<text x="29.1" y="454.75" text-anchor="end">12</text>
<text x="29.1" y="422.25" text-anchor="end">16</text>
<text x="29.1" y="389.75" text-anchor="end">20</text>
<text x="36" y="531.95" text-anchor="middle">0.0</text>
<text x="56.73" y="531.95" text-anchor="middle">0.5</text>
<text x="77.45" y="531.95" text-anchor="middle">1.0</text>
<text x="98.18" y="531.95" text-anchor="middle">1.5</text>
<text x="118.9" y="531.95" text-anchor="middle">2.0</text>
<text x="139.62" y="531.95" text-anchor="middle">2.5</text>
<text x="160.35" y="531.95" text-anchor="middle">3.0</text>
<text x="181.08" y="531.95" text-anchor="middle">3.5</text>
<text x="201.8" y="531.95" text-anchor="middle">4.0</text>
<text x="222.53" y="531.95" text-anchor="middle">4.5</text>
<text x="243.25" y="531.95" text-anchor="middle">5.0</text>
</g>
<text x="144.62" y="546.05" font-size="11.8" text-anchor="middle" fill="#1a1a1a" stroke="#1a1a1a" stroke-width="0.25">SI (mm)</text>
<g fill="none" stroke-width="1" stroke-dasharray="4 2.4">
<polyline stroke="#202020" stroke-dashoffset="2.4" points="301.3,451.6 303.3,457.8 305.3,461.9 307.4,465.0 309.4,467.4 311.4,469.4 313.4,471.1 315.4,472.5 317.4,473.8 319.5,474.9 321.5,475.9 325.5,477.7 329.6,479.2 333.6,480.4 337.6,481.5 341.7,482.5 345.7,483.4 349.8,484.2 353.8,485.0 357.9,485.7 367.9,487.2 378.1,488.4 388.1,489.5 398.2,490.4 408.4,491.3 418.4,492.0 428.5,492.7 438.6,493.4 448.8,493.9 458.9,494.5 468.9,495.0 479.0,495.4 489.1,495.9 499.2,496.3"/>
<polyline stroke="#ff1010" stroke-dashoffset="2.9" points="301.3,446.5 303.3,451.8 305.3,455.4 307.4,458.1 309.4,460.3 311.4,462.0 313.4,463.5 315.4,464.8 317.4,466.0 319.5,467.0 321.5,467.9 325.5,469.5 329.6,470.8 333.6,472.0 337.6,473.0 341.7,474.0 345.7,474.8 349.8,475.6 353.8,476.2 357.9,476.9 367.9,478.3 378.1,479.5 388.1,480.5 398.2,481.4 408.4,482.2 418.4,482.9 428.5,483.6 438.6,484.2 448.8,484.7 458.9,485.3 468.9,485.7 479.0,486.2 489.1,486.6 499.2,487.0"/>
<polyline stroke="#1010ff" stroke-dashoffset="0.9" points="301.3,430.8 303.3,439.1 305.3,444.6 307.4,448.6 309.4,451.8 311.4,454.4 313.4,456.6 315.4,458.5 317.4,460.2 319.5,461.6 321.5,462.9 325.5,465.2 329.6,467.1 333.6,468.8 337.6,470.2 341.7,471.5 345.7,472.7 349.8,473.7 353.8,474.7 357.9,475.5 367.9,477.4 378.1,479.0 388.1,480.4 398.2,481.6 408.4,482.7 418.4,483.7 428.5,484.5 438.6,485.3 448.8,486.1 458.9,486.7 468.9,487.4 479.0,488.0 489.1,488.5 499.2,489.0"/>
<polyline stroke="#ff10ff" stroke-dashoffset="5.1" points="301.3,450.5 303.3,456.2 305.3,460.0 307.4,462.9 309.4,465.1 311.4,467.0 313.4,468.6 315.4,469.9 317.4,471.1 319.5,472.2 321.5,473.1 325.5,474.8 329.6,476.2 333.6,477.4 337.6,478.5 341.7,479.4 345.7,480.3 349.8,481.0 353.8,481.7 357.9,482.4 367.9,483.8 378.1,485.0 388.1,486.1 398.2,487.0 408.4,487.8 418.4,488.5 428.5,489.2 438.6,489.8 448.8,490.4 458.9,490.9 468.9,491.4 479.0,491.8 489.1,492.3 499.2,492.7"/>
<polyline stroke="#008800" stroke-dashoffset="2.4" points="301.3,419.6 303.3,427.5 305.3,432.9 307.4,436.9 309.4,440.0 311.4,442.6 313.4,444.7 315.4,446.6 317.4,448.3 319.5,449.7 321.5,451.1 325.5,453.4 329.6,455.3 333.6,457.0 337.6,458.4 341.7,459.7 345.7,460.9 349.8,462.0 353.8,463.0 357.9,463.9 367.9,465.8 378.1,467.5 388.1,468.9 398.2,470.2 408.4,471.3 418.4,472.3 428.5,473.2 438.6,474.0 448.8,474.8 458.9,475.5 468.9,476.2 479.0,476.8 489.1,477.4 499.2,477.9"/>
<polyline stroke="#101090" stroke-dashoffset="5.2" points="301.3,442.4 303.3,445.9 305.3,448.2 307.4,450.1 309.4,451.5 311.4,452.7 313.4,453.7 315.4,454.6 317.4,455.4 319.5,456.2 321.5,456.8 325.5,457.9 329.6,458.9 333.6,459.8 337.6,460.5 341.7,461.2 345.7,461.8 349.8,462.4 353.8,462.9 357.9,463.3 367.9,464.4 378.1,465.3 388.1,466.1 398.2,466.8 408.4,467.4 418.4,467.9 428.5,468.5 438.6,468.9 448.8,469.4 458.9,469.8 468.9,470.1 479.0,470.5 489.1,470.8 499.2,471.2"/>
<polyline stroke="#8010ff" stroke-dashoffset="3.7" points="301.3,428.9 303.3,434.1 305.3,437.6 307.4,440.3 309.4,442.4 311.4,444.1 313.4,445.6 315.4,446.9 317.4,448.1 319.5,449.1 321.5,450.0 325.5,451.7 329.6,453.1 333.6,454.3 337.6,455.3 341.7,456.3 345.7,457.1 349.8,457.9 353.8,458.6 357.9,459.3 367.9,460.7 378.1,462.0 388.1,463.1 398.2,464.0 408.4,464.9 418.4,465.6 428.5,466.3 438.6,467.0 448.8,467.6 458.9,468.1 468.9,468.6 479.0,469.1 489.1,469.6 499.2,470.0"/>
<polyline stroke="#881088" stroke-dashoffset="0.5" points="301.3,454.6 303.3,456.9 305.3,458.5 307.4,459.7 309.4,460.7 311.4,461.5 313.4,462.2 315.4,462.9 317.4,463.4 319.5,463.9 321.5,464.3 325.5,465.1 329.6,465.8 333.6,466.4 337.6,466.9 341.7,467.4 345.7,467.8 349.8,468.2 353.8,468.6 357.9,468.9 367.9,469.6 378.1,470.3 388.1,470.8 398.2,471.3 408.4,471.8 418.4,472.2 428.5,472.5 438.6,472.9 448.8,473.2 458.9,473.5 468.9,473.7 479.0,474.0 489.1,474.2 499.2,474.5"/>
<polyline stroke="#8a1010" stroke-dashoffset="2.0" points="301.3,416.4 303.3,425.3 305.3,431.3 307.4,435.6 309.4,439.1 311.4,441.9 313.4,444.3 315.4,446.4 317.4,448.2 319.5,449.8 321.5,451.2 325.5,453.7 329.6,455.8 333.6,457.6 337.6,459.2 341.7,460.6 345.7,461.9 349.8,463.0 353.8,464.1 357.9,465.0 367.9,467.1 378.1,468.9 388.1,470.4 398.2,471.8 408.4,473.0 418.4,474.1 428.5,475.0 438.6,475.9 448.8,476.7 458.9,477.5 468.9,478.2 479.0,478.8 489.1,479.4 499.2,480.0"/>
<polyline stroke="#888800" stroke-dashoffset="1.3" points="301.3,411.1 303.3,419.2 305.3,424.7 307.4,428.8 309.4,432.0 311.4,434.6 313.4,436.9 315.4,438.8 317.4,440.5 319.5,442.0 321.5,443.4 325.5,445.8 329.6,447.8 333.6,449.5 337.6,451.0 341.7,452.4 345.7,453.6 349.8,454.7 353.8,455.7 357.9,456.7 367.9,458.7 378.1,460.4 388.1,461.9 398.2,463.2 408.4,464.4 418.4,465.5 428.5,466.4 438.6,467.3 448.8,468.1 458.9,468.8 468.9,469.5 479.0,470.2 489.1,470.8 499.2,471.4"/>
<polyline stroke="#3888c0" stroke-dashoffset="5.4" points="301.3,408.4 303.3,417.1 305.3,423.0 307.4,427.3 309.4,430.8 311.4,433.6 313.4,436.0 315.4,438.1 317.4,439.9 319.5,441.5 321.5,442.9 325.5,445.4 329.6,447.6 333.6,449.4 337.6,451.0 341.7,452.4 345.7,453.7 349.8,454.9 353.8,456.0 357.9,456.9 367.9,459.1 378.1,460.9 388.1,462.5 398.2,463.9 408.4,465.1 418.4,466.2 428.5,467.2 438.6,468.1 448.8,468.9 458.9,469.7 468.9,470.4 479.0,471.1 489.1,471.7 499.2,472.3"/>
<polyline stroke="#10b4b4" stroke-dashoffset="3.5" points="301.3,424.0 303.3,432.2 305.3,437.6 307.4,441.6 309.4,444.8 311.4,447.4 313.4,449.5 315.4,451.4 317.4,453.1 319.5,454.6 321.5,455.9 325.5,458.2 329.6,460.1 333.6,461.8 337.6,463.3 341.7,464.6 345.7,465.7 349.8,466.8 353.8,467.8 357.9,468.6 367.9,470.6 378.1,472.2 388.1,473.7 398.2,474.9 408.4,476.0 418.4,477.0 428.5,477.9 438.6,478.7 448.8,479.5 458.9,480.2 468.9,480.8 479.0,481.4 489.1,482.0 499.2,482.5"/>
<polyline stroke="#c89838" stroke-dashoffset="0.3" points="301.3,432.5 303.3,440.2 305.3,445.3 307.4,449.1 309.4,452.1 311.4,454.6 313.4,456.6 315.4,458.4 317.4,460.0 319.5,461.4 321.5,462.6 325.5,464.8 329.6,466.6 333.6,468.2 337.6,469.6 341.7,470.8 345.7,471.9 349.8,472.9 353.8,473.8 357.9,474.6 367.9,476.4 378.1,478.0 388.1,479.3 398.2,480.5 408.4,481.5 418.4,482.4 428.5,483.3 438.6,484.1 448.8,484.8 458.9,485.4 468.9,486.0 479.0,486.6 489.1,487.1 499.2,487.6"/>
<polyline stroke="#10c848" stroke-dashoffset="1.0" points="301.3,434.3 303.3,441.8 305.3,446.8 307.4,450.5 309.4,453.4 311.4,455.8 313.4,457.8 315.4,459.6 317.4,461.1 319.5,462.5 321.5,463.7 325.5,465.8 329.6,467.6 333.6,469.1 337.6,470.5 341.7,471.7 345.7,472.7 349.8,473.7 353.8,474.6 357.9,475.4 367.9,477.2 378.1,478.7 388.1,480.0 398.2,481.2 408.4,482.2 418.4,483.1 428.5,483.9 438.6,484.7 448.8,485.3 458.9,486.0 468.9,486.6 479.0,487.1 489.1,487.7 499.2,488.1"/>
<polyline stroke="#d040a0" stroke-dashoffset="2.2" points="301.3,444.3 303.3,450.8 305.3,455.2 307.4,458.4 309.4,460.9 311.4,463.0 313.4,464.8 315.4,466.3 317.4,467.7 319.5,468.8 321.5,469.9 325.5,471.8 329.6,473.3 333.6,474.7 337.6,475.9 341.7,476.9 345.7,477.9 349.8,478.7 353.8,479.5 357.9,480.2 367.9,481.8 378.1,483.2 388.1,484.3 398.2,485.3 408.4,486.2 418.4,487.0 428.5,487.8 438.6,488.4 448.8,489.1 458.9,489.6 468.9,490.2 479.0,490.7 489.1,491.1 499.2,491.6"/>
<polyline stroke="#30d4d0" stroke-dashoffset="2.8" points="301.3,434.6 303.3,443.2 305.3,448.9 307.4,453.0 309.4,456.3 311.4,458.9 313.4,461.1 315.4,463.1 317.4,464.7 319.5,466.2 321.5,467.6 325.5,469.9 329.6,471.8 333.6,473.5 337.6,474.9 341.7,476.2 345.7,477.3 349.8,478.4 353.8,479.3 357.9,480.2 367.9,482.1 378.1,483.7 388.1,485.1 398.2,486.3 408.4,487.3 418.4,488.3 428.5,489.2 438.6,489.9 448.8,490.7 458.9,491.3 468.9,491.9 479.0,492.5 489.1,493.0 499.2,493.6"/>
<polyline stroke="#3434e0" stroke-dashoffset="3.5" points="301.3,411.7 303.3,420.5 305.3,426.3 307.4,430.6 309.4,434.0 311.4,436.8 313.4,439.2 315.4,441.3 317.4,443.1 319.5,444.6 321.5,446.1 325.5,448.6 329.6,450.7 333.6,452.5 337.6,454.1 341.7,455.5 345.7,456.8 349.8,457.9 353.8,459.0 357.9,459.9 367.9,462.0 378.1,463.8 388.1,465.4 398.2,466.7 408.4,467.9 418.4,469.0 428.5,470.0 438.6,470.9 448.8,471.7 458.9,472.5 468.9,473.2 479.0,473.9 489.1,474.5 499.2,475.1"/>
<polyline stroke="#a4c808" stroke-dashoffset="2.3" points="301.3,400.3 303.3,405.9 305.3,409.8 307.4,412.7 309.4,415.0 311.4,417.0 313.4,418.6 315.4,420.1 317.4,421.3 319.5,422.5 321.5,423.5 325.5,425.3 329.6,426.9 333.6,428.2 337.6,429.4 341.7,430.4 345.7,431.4 349.8,432.3 353.8,433.1 357.9,433.8 367.9,435.5 378.1,436.9 388.1,438.1 398.2,439.2 408.4,440.2 418.4,441.0 428.5,441.8 438.6,442.6 448.8,443.3 458.9,443.9 468.9,444.5 479.0,445.0 489.1,445.5 499.2,446.0"/>
<polyline stroke="#808080" stroke-dashoffset="2.1" points="301.3,404.4 303.3,410.9 305.3,415.4 307.4,418.7 309.4,421.4 311.4,423.6 313.4,425.5 315.4,427.1 317.4,428.6 319.5,429.9 321.5,431.0 325.5,433.1 329.6,434.8 333.6,436.3 337.6,437.6 341.7,438.8 345.7,439.9 349.8,440.8 353.8,441.7 357.9,442.6 367.9,444.4 378.1,445.9 388.1,447.3 398.2,448.5 408.4,449.5 418.4,450.5 428.5,451.3 438.6,452.1 448.8,452.9 458.9,453.6 468.9,454.2 479.0,454.8 489.1,455.4 499.2,455.9"/>
<polyline stroke="#c08060" stroke-dashoffset="0.0" points="301.3,419.3 303.3,427.8 305.3,433.5 307.4,437.7 309.4,441.0 311.4,443.7 313.4,446.0 315.4,447.9 317.4,449.7 319.5,451.2 321.5,452.6 325.5,455.0 329.6,457.0 333.6,458.7 337.6,460.3 341.7,461.6 345.7,462.8 349.8,463.9 353.8,465.0 357.9,465.9 367.9,467.9 378.1,469.6 388.1,471.1 398.2,472.4 408.4,473.6 418.4,474.6 428.5,475.5 438.6,476.4 448.8,477.2 458.9,477.9 468.9,478.6 479.0,479.2 489.1,479.8 499.2,480.3"/>
<polyline stroke="#28c428" stroke-dashoffset="3.5" points="301.3,402.7 303.3,412.4 305.3,418.9 307.4,423.7 309.4,427.5 311.4,430.6 313.4,433.2 315.4,435.5 317.4,437.5 319.5,439.2 321.5,440.8 325.5,443.6 329.6,445.9 333.6,447.9 337.6,449.6 341.7,451.2 345.7,452.6 349.8,453.8 353.8,455.0 357.9,456.0 367.9,458.4 378.1,460.3 388.1,462.0 398.2,463.5 408.4,464.8 418.4,466.0 428.5,467.1 438.6,468.0 448.8,468.9 458.9,469.8 468.9,470.5 479.0,471.3 489.1,471.9 499.2,472.6"/>
<polyline stroke="#10b0e0" stroke-dashoffset="2.0" points="301.3,421.8 303.3,430.4 305.3,436.1 307.4,440.3 309.4,443.6 311.4,446.3 313.4,448.6 315.4,450.6 317.4,452.3 319.5,453.8 321.5,455.2 325.5,457.6 329.6,459.6 333.6,461.4 337.6,462.9 341.7,464.2 345.7,465.5 349.8,466.6 353.8,467.6 357.9,468.5 367.9,470.5 378.1,472.2 388.1,473.7 398.2,475.0 408.4,476.1 418.4,477.1 428.5,478.0 438.6,478.9 448.8,479.7 458.9,480.4 468.9,481.1 479.0,481.7 489.1,482.3 499.2,482.8"/>
<polyline stroke="#4060d0" stroke-dashoffset="0.1" points="301.3,412.9 303.3,421.3 305.3,427.0 307.4,431.2 309.4,434.5 311.4,437.3 313.4,439.6 315.4,441.5 317.4,443.3 319.5,444.9 321.5,446.3 325.5,448.7 329.6,450.7 333.6,452.5 337.6,454.1 341.7,455.4 345.7,456.7 349.8,457.8 353.8,458.8 357.9,459.8 367.9,461.9 378.1,463.6 388.1,465.1 398.2,466.5 408.4,467.7 418.4,468.7 428.5,469.7 438.6,470.6 448.8,471.4 458.9,472.1 468.9,472.8 479.0,473.5 489.1,474.1 499.2,474.7"/>
<polyline stroke="#10e010" stroke-dashoffset="2.8" points="301.3,400.9 303.3,411.5 305.3,418.5 307.4,423.6 309.4,427.7 311.4,431.0 313.4,433.8 315.4,436.2 317.4,438.3 319.5,440.2 321.5,441.8 325.5,444.7 329.6,447.2 333.6,449.3 337.6,451.1 341.7,452.8 345.7,454.2 349.8,455.6 353.8,456.8 357.9,457.9 367.9,460.3 378.1,462.4 388.1,464.1 398.2,465.7 408.4,467.0 418.4,468.3 428.5,469.4 438.6,470.4 448.8,471.3 458.9,472.2 468.9,473.0 479.0,473.7 489.1,474.4 499.2,475.1"/>
<polyline stroke="#10dcf0" stroke-dashoffset="5.9" points="301.3,410.6 303.3,415.1 305.3,418.2 307.4,420.5 309.4,422.4 311.4,424.0 313.4,425.3 315.4,426.5 317.4,427.5 319.5,428.4 321.5,429.3 325.5,430.7 329.6,432.0 333.6,433.1 337.6,434.1 341.7,434.9 345.7,435.7 349.8,436.4 353.8,437.1 357.9,437.7 367.9,439.1 378.1,440.2 388.1,441.3 398.2,442.1 408.4,443.0 418.4,443.7 428.5,444.4 438.6,445.0 448.8,445.5 458.9,446.1 468.9,446.6 479.0,447.0 489.1,447.5 499.2,447.9"/>
<polyline stroke="#f0f000" stroke-dashoffset="0.3" points="301.3,387.1 303.3,395.1 305.3,400.6 307.4,404.7 309.4,407.9 311.4,410.6 313.4,412.9 315.4,414.9 317.4,416.6 319.5,418.2 321.5,419.6 325.5,422.1 329.6,424.1 333.6,425.9 337.6,427.5 341.7,429.0 345.7,430.2 349.8,431.4 353.8,432.5 357.9,433.5 367.9,435.6 378.1,437.5 388.1,439.1 398.2,440.5 408.4,441.8 418.4,442.9 428.5,443.9 438.6,444.9 448.8,445.7 458.9,446.6 468.9,447.3 479.0,448.0 489.1,448.7 499.2,449.3"/>
<polyline stroke="#109070" stroke-dashoffset="0.9" points="301.3,395.9 303.3,402.8 305.3,407.5 307.4,411.0 309.4,413.9 311.4,416.2 313.4,418.2 315.4,419.9 317.4,421.4 319.5,422.8 321.5,424.0 325.5,426.2 329.6,428.0 333.6,429.6 337.6,431.0 341.7,432.2 345.7,433.4 349.8,434.4 353.8,435.3 357.9,436.2 367.9,438.1 378.1,439.8 388.1,441.2 398.2,442.4 408.4,443.6 418.4,444.6 428.5,445.5 438.6,446.3 448.8,447.1 458.9,447.8 468.9,448.5 479.0,449.1 489.1,449.7 499.2,450.3"/>
<polyline stroke="#1010d0" stroke-dashoffset="4.0" points="301.3,447.9 303.3,454.4 305.3,458.8 307.4,462.1 309.4,464.6 311.4,466.7 313.4,468.5 315.4,470.0 317.4,471.4 319.5,472.5 321.5,473.6 325.5,475.5 329.6,477.0 333.6,478.4 337.6,479.5 341.7,480.6 345.7,481.5 349.8,482.4 353.8,483.2 357.9,483.9 367.9,485.4 378.1,486.8 388.1,487.9 398.2,488.9 408.4,489.8 418.4,490.6 428.5,491.3 438.6,492.0 448.8,492.6 458.9,493.1 468.9,493.6 479.0,494.1 489.1,494.6 499.2,495.0"/>
<polyline stroke="#ff8810" stroke-dashoffset="1.6" points="301.3,392.0 303.3,399.8 305.3,405.0 307.4,409.0 309.4,412.1 311.4,414.7 313.4,417.0 315.4,418.9 317.4,420.6 319.5,422.1 321.5,423.4 325.5,425.8 329.6,427.8 333.6,429.6 337.6,431.1 341.7,432.5 345.7,433.7 349.8,434.9 353.8,435.9 357.9,436.9 367.9,439.0 378.1,440.7 388.1,442.3 398.2,443.7 408.4,444.9 418.4,446.0 428.5,447.0 438.6,447.9 448.8,448.7 458.9,449.5 468.9,450.2 479.0,450.9 489.1,451.6 499.2,452.2"/>
</g>
<g>
<rect x="299.76" y="455.65" width="3.06" height="3.06" fill="#000000"/>
<rect x="315.92" y="465.12" width="3.06" height="3.06" fill="#000000"/>
<rect x="336.12" y="474.09" width="3.06" height="3.06" fill="#000000"/>
<rect x="356.32" y="479.27" width="3.06" height="3.06" fill="#000000"/>
<rect x="376.52" y="485.56" width="3.06" height="3.06" fill="#000000"/>
<rect x="416.92" y="492.53" width="3.06" height="3.06" fill="#000000"/>
<rect x="457.32" y="497.02" width="3.06" height="3.06" fill="#000000"/>
<rect x="497.72" y="503.25" width="3.06" height="3.06" fill="#000000"/>
<circle cx="301.29" cy="449.13" r="1.71" fill="#ff0000"/>
<circle cx="317.45" cy="462.35" r="1.71" fill="#ff0000"/>
<circle cx="337.65" cy="471.34" r="1.71" fill="#ff0000"/>
<circle cx="357.85" cy="474.57" r="1.71" fill="#ff0000"/>
<circle cx="378.05" cy="478.95" r="1.71" fill="#ff0000"/>
<circle cx="418.45" cy="483.61" r="1.71" fill="#ff0000"/>
<circle cx="458.85" cy="487.05" r="1.71" fill="#ff0000"/>
<circle cx="499.25" cy="490.31" r="1.71" fill="#ff0000"/>
<polygon points="301.29,432.39 299.22,436.12 303.36,436.12" fill="#0000ff"/>
<polygon points="317.45,452.46 315.38,456.19 319.52,456.19" fill="#0000ff"/>
<polygon points="337.65,464.76 335.58,468.49 339.72,468.49" fill="#0000ff"/>
<polygon points="357.85,471.01 355.78,474.74 359.92,474.74" fill="#0000ff"/>
<polygon points="378.05,476.76 375.98,480.48 380.12,480.48" fill="#0000ff"/>
<polygon points="418.45,483.06 416.38,486.79 420.52,486.79" fill="#0000ff"/>
<polygon points="458.85,487.3 456.78,491.03 460.92,491.03" fill="#0000ff"/>
<polygon points="499.25,491.62 497.18,495.35 501.32,495.35" fill="#0000ff"/>
<polygon points="301.29,455.72 299.22,452 303.36,452" fill="#ff00ff"/>
<polygon points="317.45,467.59 315.38,463.87 319.52,463.87" fill="#ff00ff"/>
<polygon points="337.65,479.02 335.58,475.29 339.72,475.29" fill="#ff00ff"/>
<polygon points="357.85,482.65 355.78,478.92 359.92,478.92" fill="#ff00ff"/>
<polygon points="378.05,487.21 375.98,483.48 380.12,483.48" fill="#ff00ff"/>
<polygon points="418.45,491.86 416.38,488.13 420.52,488.13" fill="#ff00ff"/>
<polygon points="458.85,494.75 456.78,491.02 460.92,491.02" fill="#ff00ff"/>
<polygon points="499.25,497.76 497.18,494.03 501.32,494.03" fill="#ff00ff"/>
<polygon points="301.29,421.46 303.36,423.53 301.29,425.6 299.22,423.53" fill="#008000"/>
<polygon points="317.45,440.1 319.52,442.17 317.45,444.24 315.38,442.17" fill="#008000"/>
<polygon points="337.65,453.93 339.72,456 337.65,458.07 335.58,456" fill="#008000"/>
<polygon points="357.85,458 359.92,460.07 357.85,462.14 355.78,460.07" fill="#008000"/>
<polygon points="378.05,465.44 380.12,467.51 378.05,469.58 375.98,467.51" fill="#008000"/>
<polygon points="418.45,471.59 420.52,473.66 418.45,475.73 416.38,473.66" fill="#008000"/>
<polygon points="458.85,476.37 460.92,478.44 458.85,480.51 456.78,478.44" fill="#008000"/>
<polygon points="499.25,480.49 501.32,482.56 499.25,484.63 497.18,482.56" fill="#008000"/>
<polygon points="299.22,444.37 302.95,442.3 302.95,446.44" fill="#000080"/>
<polygon points="315.38,452.23 319.11,450.16 319.11,454.3" fill="#000080"/>
<polygon points="335.58,460.24 339.31,458.17 339.31,462.31" fill="#000080"/>
<polygon points="355.78,461.85 359.51,459.78 359.51,463.92" fill="#000080"/>
<polygon points="375.98,465.5 379.71,463.43 379.71,467.57" fill="#000080"/>
<polygon points="416.38,468.33 420.11,466.26 420.11,470.4" fill="#000080"/>
<polygon points="456.78,470.88 460.51,468.81 460.51,472.95" fill="#000080"/>
<polygon points="497.18,472.5 500.91,470.43 500.91,474.57" fill="#000080"/>
<polygon points="303.36,431.62 299.63,429.55 299.63,433.69" fill="#8000ff"/>
<polygon points="319.52,443.52 315.79,441.45 315.79,445.59" fill="#8000ff"/>
<polygon points="339.72,454.66 335.99,452.59 335.99,456.73" fill="#8000ff"/>
<polygon points="359.92,457.5 356.19,455.43 356.19,459.57" fill="#8000ff"/>
<polygon points="380.12,461.69 376.39,459.62 376.39,463.76" fill="#8000ff"/>
<polygon points="420.52,466.44 416.79,464.37 416.79,468.51" fill="#8000ff"/>
<polygon points="460.92,469.58 457.19,467.51 457.19,471.65" fill="#8000ff"/>
<polygon points="501.32,472.41 497.59,470.34 497.59,474.48" fill="#8000ff"/>
<circle cx="301.29" cy="455.61" r="1.71" fill="#800080"/>
<circle cx="317.45" cy="462.14" r="1.71" fill="#800080"/>
<circle cx="337.65" cy="466.39" r="1.71" fill="#800080"/>
<circle cx="357.85" cy="468.28" r="1.71" fill="#800080"/>
<circle cx="378.05" cy="469.79" r="1.71" fill="#800080"/>
<circle cx="418.45" cy="472.55" r="1.71" fill="#800080"/>
<circle cx="458.85" cy="474.06" r="1.71" fill="#800080"/>
<circle cx="499.25" cy="475.39" r="1.71" fill="#800080"/>
<polygon points="301.29,419.07 301.77,420.39 303.17,420.44 302.06,421.3 302.45,422.65 301.29,421.86 300.13,422.65 300.52,421.3 299.41,420.44 300.81,420.39" fill="#800000"/>
<polygon points="317.45,439.29 317.93,440.61 319.33,440.65 318.22,441.52 318.61,442.87 317.45,442.08 316.29,442.87 316.68,441.52 315.57,440.65 316.97,440.61" fill="#800000"/>
<polygon points="337.65,453.76 338.13,455.09 339.53,455.13 338.42,456 338.81,457.35 337.65,456.55 336.49,457.35 336.88,456 335.77,455.13 337.17,455.09" fill="#800000"/>
<polygon points="357.85,458.94 358.33,460.26 359.73,460.31 358.62,461.17 359.01,462.52 357.85,461.73 356.69,462.52 357.08,461.17 355.97,460.31 357.37,460.26" fill="#800000"/>
<polygon points="378.05,466.21 378.53,467.54 379.93,467.58 378.82,468.44 379.21,469.79 378.05,469 376.89,469.79 377.28,468.44 376.17,467.58 377.57,467.54" fill="#800000"/>
<polygon points="418.45,473.63 418.93,474.95 420.33,474.99 419.22,475.86 419.61,477.21 418.45,476.42 417.29,477.21 417.68,475.86 416.57,474.99 417.97,474.95" fill="#800000"/>
<polygon points="458.85,479.34 459.33,480.67 460.73,480.71 459.62,481.57 460.01,482.92 458.85,482.13 457.69,482.92 458.08,481.57 456.97,480.71 458.37,480.67" fill="#800000"/>
<polygon points="499.25,484.04 499.73,485.37 501.13,485.41 500.02,486.27 500.41,487.62 499.25,486.83 498.09,487.62 498.48,486.27 497.37,485.41 498.77,485.37" fill="#800000"/>
<circle cx="301.29" cy="415.85" r="1.71" fill="#808000"/>
<circle cx="317.45" cy="431.39" r="1.71" fill="#808000"/>
<circle cx="337.65" cy="449.48" r="1.71" fill="#808000"/>
<circle cx="357.85" cy="455.54" r="1.71" fill="#808000"/>
<circle cx="378.05" cy="459.44" r="1.71" fill="#808000"/>
<circle cx="418.45" cy="466.96" r="1.71" fill="#808000"/>
<circle cx="458.85" cy="472" r="1.71" fill="#808000"/>
<circle cx="499.25" cy="475.27" r="1.71" fill="#808000"/>
<circle cx="301.29" cy="412.3" r="1.71" fill="#2060b0"/>
<circle cx="317.45" cy="434.14" r="1.71" fill="#2060b0"/>
<circle cx="337.65" cy="448.03" r="1.71" fill="#2060b0"/>
<circle cx="357.85" cy="453.32" r="1.71" fill="#2060b0"/>
<circle cx="378.05" cy="460.78" r="1.71" fill="#2060b0"/>
<circle cx="418.45" cy="467.05" r="1.71" fill="#2060b0"/>
<circle cx="458.85" cy="473.35" r="1.71" fill="#2060b0"/>
<circle cx="499.25" cy="476.92" r="1.71" fill="#2060b0"/>
<path d="M299.67 428.94H302.91M301.29 427.32V430.56" stroke="#70c8d8" stroke-width="0.7" fill="none"/>
<path d="M315.83 444.42H319.07M317.45 442.8V446.04" stroke="#70c8d8" stroke-width="0.7" fill="none"/>
<path d="M336.03 460.84H339.27M337.65 459.22V462.46" stroke="#70c8d8" stroke-width="0.7" fill="none"/>
<path d="M356.23 465.63H359.47M357.85 464.01V467.25" stroke="#70c8d8" stroke-width="0.7" fill="none"/>
<path d="M376.43 471.95H379.67M378.05 470.33V473.57" stroke="#70c8d8" stroke-width="0.7" fill="none"/>
<path d="M416.83 478.34H420.07M418.45 476.72V479.96" stroke="#70c8d8" stroke-width="0.7" fill="none"/>
<path d="M457.23 483.74H460.47M458.85 482.12V485.36" stroke="#70c8d8" stroke-width="0.7" fill="none"/>
<path d="M497.63 487.86H500.87M499.25 486.24V489.48" stroke="#70c8d8" stroke-width="0.7" fill="none"/>
<path d="M299.67 434.49L302.91 437.73M299.67 437.73L302.91 434.49" stroke="#e0a060" stroke-width="0.7" fill="none"/>
<path d="M315.83 453.09L319.07 456.33M315.83 456.33L319.07 453.09" stroke="#e0a060" stroke-width="0.7" fill="none"/>
<path d="M336.03 465.54L339.27 468.78M336.03 468.78L339.27 465.54" stroke="#e0a060" stroke-width="0.7" fill="none"/>
<path d="M356.23 469.12L359.47 472.36M356.23 472.36L359.47 469.12" stroke="#e0a060" stroke-width="0.7" fill="none"/>
<path d="M376.43 475.14L379.67 478.38M376.43 478.38L379.67 475.14" stroke="#e0a060" stroke-width="0.7" fill="none"/>
<path d="M416.83 482.61L420.07 485.85M416.83 485.85L420.07 482.61" stroke="#e0a060" stroke-width="0.7" fill="none"/>
<path d="M457.23 486.97L460.47 490.21M457.23 490.21L460.47 486.97" stroke="#e0a060" stroke-width="0.7" fill="none"/>
<path d="M497.63 490.8L500.87 494.04M497.63 494.04L500.87 490.8" stroke="#e0a060" stroke-width="0.7" fill="none"/>
<path d="M299.67 436.25L302.91 439.49M299.67 439.49L302.91 436.25M301.29 436.25V439.49" stroke="#40d060" stroke-width="0.7" fill="none"/>
<path d="M315.83 453.99L319.07 457.23M315.83 457.23L319.07 453.99M317.45 453.99V457.23" stroke="#40d060" stroke-width="0.7" fill="none"/>
<path d="M336.03 466.02L339.27 469.26M336.03 469.26L339.27 466.02M337.65 466.02V469.26" stroke="#40d060" stroke-width="0.7" fill="none"/>
<path d="M356.23 471.21L359.47 474.45M356.23 474.45L359.47 471.21M357.85 471.21V474.45" stroke="#40d060" stroke-width="0.7" fill="none"/>
<path d="M376.43 476.32L379.67 479.56M376.43 479.56L379.67 476.32M378.05 476.32V479.56" stroke="#40d060" stroke-width="0.7" fill="none"/>
<path d="M416.83 483.2L420.07 486.44M416.83 486.44L420.07 483.2M418.45 483.2V486.44" stroke="#40d060" stroke-width="0.7" fill="none"/>
<path d="M457.23 487.52L460.47 490.76M457.23 490.76L460.47 487.52M458.85 487.52V490.76" stroke="#40d060" stroke-width="0.7" fill="none"/>
<path d="M497.63 490.32L500.87 493.56M497.63 493.56L500.87 490.32M499.25 490.32V493.56" stroke="#40d060" stroke-width="0.7" fill="none"/>
<path d="M299.67 447.78H302.91" stroke="#f080a0" stroke-width="0.7" fill="none"/>
<path d="M315.83 461.53H319.07" stroke="#f080a0" stroke-width="0.7" fill="none"/>
<path d="M336.03 474.1H339.27" stroke="#f080a0" stroke-width="0.7" fill="none"/>
<path d="M356.23 478.83H359.47" stroke="#f080a0" stroke-width="0.7" fill="none"/>
<path d="M376.43 482.31H379.67" stroke="#f080a0" stroke-width="0.7" fill="none"/>
<path d="M416.83 488.14H420.07" stroke="#f080a0" stroke-width="0.7" fill="none"/>
<path d="M457.23 492.05H460.47" stroke="#f080a0" stroke-width="0.7" fill="none"/>
<path d="M497.63 495.25H500.87" stroke="#f080a0" stroke-width="0.7" fill="none"/>
<path d="M301.29 437.86V441.1" stroke="#a0e0d8" stroke-width="0.7" fill="none"/>
<path d="M317.45 453.87V457.11" stroke="#a0e0d8" stroke-width="0.7" fill="none"/>
<path d="M337.65 471.26V474.5" stroke="#a0e0d8" stroke-width="0.7" fill="none"/>
<path d="M357.85 475.43V478.67" stroke="#a0e0d8" stroke-width="0.7" fill="none"/>
<path d="M378.05 481.58V484.82" stroke="#a0e0d8" stroke-width="0.7" fill="none"/>
<path d="M418.45 487.93V491.17" stroke="#a0e0d8" stroke-width="0.7" fill="none"/>
<path d="M458.85 494.01V497.25" stroke="#a0e0d8" stroke-width="0.7" fill="none"/>
<path d="M499.25 497.56V500.8" stroke="#a0e0d8" stroke-width="0.7" fill="none"/>
<rect x="299.76" y="414.71" width="3.06" height="3.06" fill="#2030b0"/>
<rect x="315.92" y="434.26" width="3.06" height="3.06" fill="#2030b0"/>
<rect x="336.12" y="449.85" width="3.06" height="3.06" fill="#2030b0"/>
<rect x="356.32" y="454.29" width="3.06" height="3.06" fill="#2030b0"/>
<rect x="376.52" y="462.19" width="3.06" height="3.06" fill="#2030b0"/>
<rect x="416.92" y="470.17" width="3.06" height="3.06" fill="#2030b0"/>
<rect x="457.32" y="474.36" width="3.06" height="3.06" fill="#2030b0"/>
<rect x="497.72" y="477.83" width="3.06" height="3.06" fill="#2030b0"/>
<polygon points="301.29,400.93 303.36,403 301.29,405.07 299.22,403" fill="#80a010"/>
<polygon points="317.45,415.03 319.52,417.1 317.45,419.17 315.38,417.1" fill="#80a010"/>
<polygon points="337.65,426.58 339.72,428.65 337.65,430.72 335.58,428.65" fill="#80a010"/>
<polygon points="357.85,430.01 359.92,432.08 357.85,434.15 355.78,432.08" fill="#80a010"/>
<polygon points="378.05,434.78 380.12,436.85 378.05,438.92 375.98,436.85" fill="#80a010"/>
<polygon points="418.45,439.65 420.52,441.72 418.45,443.79 416.38,441.72" fill="#80a010"/>
<polygon points="458.85,442.81 460.92,444.88 458.85,446.95 456.78,444.88" fill="#80a010"/>
<polygon points="499.25,446.47 501.32,448.54 499.25,450.61 497.18,448.54" fill="#80a010"/>
<polygon points="301.29,406.33 299.22,410.05 303.36,410.05" fill="#606060"/>
<polygon points="317.45,420.33 315.38,424.05 319.52,424.05" fill="#606060"/>
<polygon points="337.65,433.35 335.58,437.08 339.72,437.08" fill="#606060"/>
<polygon points="357.85,438.45 355.78,442.17 359.92,442.17" fill="#606060"/>
<polygon points="378.05,442.83 375.98,446.56 380.12,446.56" fill="#606060"/>
<polygon points="418.45,450.58 416.38,454.3 420.52,454.3" fill="#606060"/>
<polygon points="458.85,453.69 456.78,457.42 460.92,457.42" fill="#606060"/>
<polygon points="499.25,457.13 497.18,460.86 501.32,460.86" fill="#606060"/>
<polygon points="301.29,426.13 299.22,422.41 303.36,422.41" fill="#905050"/>
<polygon points="317.45,443.32 315.38,439.59 319.52,439.59" fill="#905050"/>
<polygon points="337.65,459.77 335.58,456.04 339.72,456.04" fill="#905050"/>
<polygon points="357.85,465.46 355.78,461.74 359.92,461.74" fill="#905050"/>
<polygon points="378.05,471.22 375.98,467.5 380.12,467.5" fill="#905050"/>
<polygon points="418.45,478.15 416.38,474.43 420.52,474.43" fill="#905050"/>
<polygon points="458.85,483.59 456.78,479.87 460.92,479.87" fill="#905050"/>
<polygon points="499.25,487.23 497.18,483.5 501.32,483.5" fill="#905050"/>
<polygon points="301.29,406.23 303.36,408.3 301.29,410.37 299.22,408.3" fill="#408040"/>
<polygon points="317.45,425.44 319.52,427.51 317.45,429.58 315.38,427.51" fill="#408040"/>
<polygon points="337.65,444.07 339.72,446.14 337.65,448.21 335.58,446.14" fill="#408040"/>
<polygon points="357.85,451.16 359.92,453.23 357.85,455.3 355.78,453.23" fill="#408040"/>
<polygon points="378.05,458.15 380.12,460.22 378.05,462.29 375.98,460.22" fill="#408040"/>
<polygon points="418.45,465.74 420.52,467.81 418.45,469.88 416.38,467.81" fill="#408040"/>
<polygon points="458.85,471.91 460.92,473.98 458.85,476.05 456.78,473.98" fill="#408040"/>
<polygon points="499.25,476.15 501.32,478.22 499.25,480.29 497.18,478.22" fill="#408040"/>
<polygon points="299.22,425.93 302.95,423.86 302.95,428" fill="#20a0d0"/>
<polygon points="315.38,445.3 319.11,443.23 319.11,447.37" fill="#20a0d0"/>
<polygon points="335.58,460.75 339.31,458.68 339.31,462.82" fill="#20a0d0"/>
<polygon points="355.78,465.85 359.51,463.78 359.51,467.92" fill="#20a0d0"/>
<polygon points="375.98,470.77 379.71,468.7 379.71,472.84" fill="#20a0d0"/>
<polygon points="416.38,479.08 420.11,477.01 420.11,481.15" fill="#20a0d0"/>
<polygon points="456.78,483.65 460.51,481.58 460.51,485.72" fill="#20a0d0"/>
<polygon points="497.18,487.42 500.91,485.35 500.91,489.49" fill="#20a0d0"/>
<polygon points="303.36,417.31 299.63,415.24 299.63,419.38" fill="#1040a0"/>
<polygon points="319.52,435.85 315.79,433.78 315.79,437.92" fill="#1040a0"/>
<polygon points="339.72,451.83 335.99,449.76 335.99,453.9" fill="#1040a0"/>
<polygon points="359.92,456.19 356.19,454.12 356.19,458.26" fill="#1040a0"/>
<polygon points="380.12,463.64 376.39,461.57 376.39,465.71" fill="#1040a0"/>
<polygon points="420.52,470.34 416.79,468.27 416.79,472.41" fill="#1040a0"/>
<polygon points="460.92,475.02 457.19,472.95 457.19,477.09" fill="#1040a0"/>
<polygon points="501.32,479.58 497.59,477.51 497.59,481.65" fill="#1040a0"/>
<circle cx="301.29" cy="407.77" r="1.71" fill="#000000"/>
<circle cx="317.45" cy="425.74" r="1.71" fill="#000000"/>
<circle cx="337.65" cy="447.41" r="1.71" fill="#000000"/>
<circle cx="357.85" cy="453.53" r="1.71" fill="#000000"/>
<circle cx="378.05" cy="462.5" r="1.71" fill="#000000"/>
<circle cx="418.45" cy="470.85" r="1.71" fill="#000000"/>
<circle cx="458.85" cy="477.35" r="1.71" fill="#000000"/>
<circle cx="499.25" cy="482.18" r="1.71" fill="#000000"/>
<polygon points="301.29,410.67 301.77,411.99 303.17,412.03 302.06,412.9 302.45,414.25 301.29,413.46 300.13,414.25 300.52,412.9 299.41,412.03 300.81,411.99" fill="#ff0000"/>
<polygon points="317.45,423.07 317.93,424.4 319.33,424.44 318.22,425.3 318.61,426.65 317.45,425.86 316.29,426.65 316.68,425.3 315.57,424.44 316.97,424.4" fill="#ff0000"/>
<polygon points="337.65,430.93 338.13,432.26 339.53,432.3 338.42,433.16 338.81,434.52 337.65,433.72 336.49,434.52 336.88,433.16 335.77,432.3 337.17,432.26" fill="#ff0000"/>
<polygon points="357.85,434.01 358.33,435.34 359.73,435.38 358.62,436.24 359.01,437.59 357.85,436.8 356.69,437.59 357.08,436.24 355.97,435.38 357.37,435.34" fill="#ff0000"/>
<polygon points="378.05,437.88 378.53,439.2 379.93,439.25 378.82,440.11 379.21,441.46 378.05,440.67 376.89,441.46 377.28,440.11 376.17,439.25 377.57,439.2" fill="#ff0000"/>
<polygon points="418.45,442.23 418.93,443.55 420.33,443.59 419.22,444.46 419.61,445.81 418.45,445.02 417.29,445.81 417.68,444.46 416.57,443.59 417.97,443.55" fill="#ff0000"/>
<polygon points="458.85,445.45 459.33,446.78 460.73,446.82 459.62,447.68 460.01,449.03 458.85,448.24 457.69,449.03 458.08,447.68 456.97,446.82 458.37,446.78" fill="#ff0000"/>
<polygon points="499.25,447.72 499.73,449.05 501.13,449.09 500.02,449.95 500.41,451.31 499.25,450.51 498.09,451.31 498.48,449.95 497.37,449.09 498.77,449.05" fill="#ff0000"/>
<circle cx="301.29" cy="391.87" r="2.09" fill="#0000ff"/>
<circle cx="317.45" cy="408.32" r="2.09" fill="#0000ff"/>
<circle cx="337.65" cy="426.02" r="2.09" fill="#0000ff"/>
<circle cx="357.85" cy="431.25" r="2.09" fill="#0000ff"/>
<circle cx="378.05" cy="437.24" r="2.09" fill="#0000ff"/>
<circle cx="418.45" cy="443.22" r="2.09" fill="#0000ff"/>
<circle cx="458.85" cy="449.2" r="2.09" fill="#0000ff"/>
<circle cx="499.25" cy="454.18" r="2.09" fill="#0000ff"/>
<circle cx="301.29" cy="399.85" r="1.71" fill="#ff00ff"/>
<circle cx="317.45" cy="415.05" r="1.71" fill="#ff00ff"/>
<circle cx="337.65" cy="428.76" r="1.71" fill="#ff00ff"/>
<circle cx="357.85" cy="435.24" r="1.71" fill="#ff00ff"/>
<circle cx="378.05" cy="439.23" r="1.71" fill="#ff00ff"/>
<circle cx="418.45" cy="445.71" r="1.71" fill="#ff00ff"/>
<circle cx="458.85" cy="449.2" r="1.71" fill="#ff00ff"/>
<circle cx="499.25" cy="454.18" r="1.71" fill="#ff00ff"/>
<path d="M299.67 451.87H302.91" stroke="#40c040" stroke-width="0.7" fill="none"/>
<path d="M315.83 463.83H319.07" stroke="#40c040" stroke-width="0.7" fill="none"/>
<path d="M336.03 477.92H339.27" stroke="#40c040" stroke-width="0.7" fill="none"/>
<path d="M356.23 481.88H359.47" stroke="#40c040" stroke-width="0.7" fill="none"/>
<path d="M376.43 486.42H379.67" stroke="#40c040" stroke-width="0.7" fill="none"/>
<path d="M416.83 491.39H420.07" stroke="#40c040" stroke-width="0.7" fill="none"/>
<path d="M457.23 496.27H460.47" stroke="#40c040" stroke-width="0.7" fill="none"/>
<path d="M497.63 499.17H500.87" stroke="#40c040" stroke-width="0.7" fill="none"/>
<path d="M299.67 395.08L302.91 398.32M299.67 398.32L302.91 395.08" stroke="#9090e0" stroke-width="0.7" fill="none"/>
<path d="M315.83 411.15L319.07 414.39M315.83 414.39L319.07 411.15" stroke="#9090e0" stroke-width="0.7" fill="none"/>
<path d="M336.03 426.38L339.27 429.62M336.03 429.62L339.27 426.38" stroke="#9090e0" stroke-width="0.7" fill="none"/>
<path d="M356.23 433.3L359.47 436.54M356.23 436.54L359.47 433.3" stroke="#9090e0" stroke-width="0.7" fill="none"/>
<path d="M376.43 439.67L379.67 442.91M376.43 442.91L379.67 439.67" stroke="#9090e0" stroke-width="0.7" fill="none"/>
<path d="M416.83 446.43L420.07 449.67M416.83 449.67L420.07 446.43" stroke="#9090e0" stroke-width="0.7" fill="none"/>
<path d="M457.23 449.98L460.47 453.22M457.23 453.22L460.47 449.98" stroke="#9090e0" stroke-width="0.7" fill="none"/>
<path d="M497.63 454.33L500.87 457.57M497.63 457.57L500.87 454.33" stroke="#9090e0" stroke-width="0.7" fill="none"/>
</g>
<path d="M297.25 377.9V516.1M296.65 515.5H509.95M292.65 515.5H297.25M292.65 490.57H297.25M292.65 465.65H297.25M292.65 440.73H297.25M292.65 415.8H297.25M292.65 390.88H297.25M294.65 503.04H297.25M294.65 478.11H297.25M294.65 453.19H297.25M294.65 428.26H297.25M294.65 403.34H297.25M294.65 378.41H297.25M297.25 515.5V520.3M317.45 515.5V520.3M337.65 515.5V520.3M357.85 515.5V520.3M378.05 515.5V520.3M398.25 515.5V520.3M418.45 515.5V520.3M438.65 515.5V520.3M458.85 515.5V520.3M479.05 515.5V520.3M499.25 515.5V520.3M307.35 515.5V518.2M327.55 515.5V518.2M347.75 515.5V518.2M367.95 515.5V518.2M388.15 515.5V518.2M408.35 515.5V518.2M428.55 515.5V518.2M448.75 515.5V518.2M468.95 515.5V518.2M489.15 515.5V518.2M509.35 515.5V518.2" stroke="#111" stroke-width="1.25" fill="none"/>
<g font-size="10.6" fill="#1a1a1a" stroke="#1a1a1a" stroke-width="0.22">
<text x="290.35" y="519" text-anchor="end">5</text>
<text x="290.35" y="494.07" text-anchor="end">10</text>
<text x="290.35" y="469.15" text-anchor="end">15</text>
<text x="290.35" y="444.23" text-anchor="end">20</text>
<text x="290.35" y="419.3" text-anchor="end">25</text>
<text x="290.35" y="394.38" text-anchor="end">30</text>
<text x="297.25" y="531.2" text-anchor="middle">0.0</text>
<text x="317.45" y="531.2" text-anchor="middle">0.5</text>
<text x="337.65" y="531.2" text-anchor="middle">1.0</text>
<text x="357.85" y="531.2" text-anchor="middle">1.5</text>
<text x="378.05" y="531.2" text-anchor="middle">2.0</text>
<text x="398.25" y="531.2" text-anchor="middle">2.5</text>
<text x="418.45" y="531.2" text-anchor="middle">3.0</text>
<text x="438.65" y="531.2" text-anchor="middle">3.5</text>
<text x="458.85" y="531.2" text-anchor="middle">4.0</text>
<text x="479.05" y="531.2" text-anchor="middle">4.5</text>
<text x="499.25" y="531.2" text-anchor="middle">5.0</text>
</g>
<text x="403.25" y="545.3" font-size="11.8" text-anchor="middle" fill="#1a1a1a" stroke="#1a1a1a" stroke-width="0.25">SI (mm)</text>
<text transform="translate(11.8 84.3) rotate(-90)" font-size="12.5" text-anchor="middle" fill="#1a1a1a" stroke="#1a1a1a" stroke-width="0.22"><tspan font-style="italic">SF</tspan></text>
<text transform="translate(268.3 81.6) rotate(-90)" font-size="12.5" text-anchor="middle" fill="#1a1a1a" stroke="#1a1a1a" stroke-width="0.22"><tspan font-style="italic">Z</tspan><tspan font-size="7.5" dy="3.3">2</tspan></text>
<text transform="translate(12.8 268.3) rotate(-90)" font-size="12.5" text-anchor="middle" fill="#1a1a1a" stroke="#1a1a1a" stroke-width="0.22"><tspan font-style="italic">R</tspan><tspan font-size="7.5" font-style="italic" dy="3.3">p</tspan></text>
<text transform="translate(269.3 267.2) rotate(-90)" font-size="13" text-anchor="middle" fill="#1a1a1a" stroke="#1a1a1a" stroke-width="0.22"><tspan font-style="italic">δ</tspan></text>
<text transform="translate(13.8 458.2) rotate(-90)" font-size="13" text-anchor="middle" fill="#1a1a1a" stroke="#1a1a1a" stroke-width="0.22"><tspan font-style="italic">θ</tspan></text>
<text transform="translate(269.8 455.8) rotate(-90)" font-size="12.5" text-anchor="middle" fill="#1a1a1a" stroke="#1a1a1a" stroke-width="0.22"><tspan>σ</tspan><tspan font-size="7.5" font-style="italic" dy="3.3">i</tspan></text>
<g font-size="6.45" fill="#1c1c1c" stroke-width="0.2">
<rect x="43.47" y="13.47" width="3.06" height="3.06" fill="#000000"/>
<text x="52.9" y="17.3" stroke="#1c1c1c">FS1</text>
<circle cx="70.4" cy="15" r="1.71" fill="#ff0000"/>
<text x="77.9" y="17.3" stroke="#1c1c1c">FS2</text>
<polygon points="95.8,12.93 93.73,16.66 97.87,16.66" fill="#0000ff"/>
<text x="103.3" y="17.3" stroke="#1c1c1c">FS3</text>
<polygon points="120.7,17.07 118.63,13.34 122.77,13.34" fill="#ff00ff"/>
<text x="128.2" y="17.3" stroke="#1c1c1c">FS4</text>
<polygon points="146.2,12.93 148.27,15 146.2,17.07 144.13,15" fill="#008000"/>
<text x="153.6" y="17.3" stroke="#1c1c1c">FS5</text>
<polygon points="169.03,15 172.76,12.93 172.76,17.07" fill="#000080"/>
<text x="178.6" y="17.3" stroke="#1c1c1c">FS6</text>
<polygon points="198.57,15 194.84,12.93 194.84,17.07" fill="#8000ff"/>
<text x="204" y="17.3" stroke="#1c1c1c">FS7</text>
<circle cx="221.7" cy="15" r="1.71" fill="#800080"/>
<text x="229.3" y="17.3" stroke="#1c1c1c">FS8</text>
<polygon points="45,21.19 45.48,22.51 46.88,22.56 45.77,23.42 46.16,24.77 45,23.98 43.84,24.77 44.23,23.42 43.12,22.56 44.52,22.51" fill="#800000"/>
<text x="52.9" y="25.47" stroke="#1c1c1c">FS9</text>
<circle cx="70.4" cy="23.17" r="1.71" fill="#808000"/>
<text x="77.9" y="25.47" stroke="#1c1c1c">FS10</text>
<circle cx="99.4" cy="23.17" r="1.71" fill="#2060b0"/>
<text x="106.4" y="25.47" stroke="#1c1c1c">CS1</text>
<path d="M123.48 23.17H126.72M125.1 21.55V24.79" stroke="#70c8d8" stroke-width="0.7" fill="none"/>
<text x="132.4" y="25.47" stroke="#1c1c1c">CS2</text>
<path d="M149.58 21.55L152.82 24.79M149.58 24.79L152.82 21.55" stroke="#e0a060" stroke-width="0.7" fill="none"/>
<text x="158.6" y="25.47" stroke="#1c1c1c">CS3</text>
<path d="M175.78 21.55L179.02 24.79M175.78 24.79L179.02 21.55M177.4 21.55V24.79" stroke="#40d060" stroke-width="0.7" fill="none"/>
<text x="184" y="25.47" stroke="#1c1c1c">CS4</text>
<path d="M201.48 23.17H204.72" stroke="#f080a0" stroke-width="0.7" fill="none"/>
<text x="210" y="25.47" stroke="#1c1c1c">CS5</text>
<path d="M228.8 21.55V24.79" stroke="#a0e0d8" stroke-width="0.7" fill="none"/>
<text x="236.3" y="25.47" stroke="#1c1c1c">CS6</text>
<rect x="43.47" y="29.81" width="3.06" height="3.06" fill="#2030b0"/>
<text x="52.9" y="33.64" stroke="#1c1c1c">CS7</text>
<polygon points="71.6,29.27 73.67,31.34 71.6,33.41 69.53,31.34" fill="#80a010"/>
<text x="78.9" y="33.64" stroke="#1c1c1c">CS8</text>
<polygon points="96.5,29.27 94.43,33 98.57,33" fill="#606060"/>
<text x="104.8" y="33.64" stroke="#1c1c1c">CS9</text>
<polygon points="123,33.41 120.93,29.68 125.07,29.68" fill="#905050"/>
<text x="130.9" y="33.64" stroke="#1c1c1c">CS10</text>
<polygon points="152.4,29.27 154.47,31.34 152.4,33.41 150.33,31.34" fill="#408040"/>
<text x="160.2" y="33.64" stroke="#1c1c1c">GR1</text>
<polygon points="176.93,31.34 180.66,29.27 180.66,33.41" fill="#20a0d0"/>
<text x="187.4" y="33.64" stroke="#1c1c1c">GR2</text>
<polygon points="208.87,31.34 205.14,29.27 205.14,33.41" fill="#1040a0"/>
<text x="213.9" y="33.64" stroke="#1c1c1c">GR3</text>
<circle cx="45" cy="39.51" r="1.71" fill="#000000"/>
<text x="52.9" y="41.81" stroke="#1c1c1c">GR4</text>
<polygon points="72.25,37.53 72.73,38.85 74.13,38.9 73.02,39.76 73.41,41.11 72.25,40.32 71.09,41.11 71.48,39.76 70.37,38.9 71.77,38.85" fill="#ff0000"/>
<text x="79.6" y="41.81" stroke="#1c1c1c">GR5</text>
<circle cx="99.4" cy="39.51" r="1.71" fill="#0000ff"/>
<text x="106.8" y="41.81" stroke="#1c1c1c">GR6</text>
<circle cx="126.7" cy="39.51" r="1.71" fill="#ff00ff"/>
<text x="133.7" y="41.81" stroke="#1c1c1c">GR7</text>
<path d="M151.58 39.51H154.82" stroke="#40c040" stroke-width="0.7" fill="none"/>
<text x="160" y="41.81" stroke="#1c1c1c">GR8</text>
<path d="M178.58 37.89L181.82 41.13M178.58 41.13L181.82 37.89" stroke="#9090e0" stroke-width="0.7" fill="none"/>
<text x="187.9" y="41.81" stroke="#1c1c1c">GR9</text>
<path d="M37.1 47.68H53.4" stroke="#202020" stroke-width="1" stroke-dasharray="3.4 2.6" fill="none"/>
<text x="54.3" y="49.98" stroke="#1c1c1c">FS1</text>
<path d="M65.2 47.68H80.6" stroke="#ff1010" stroke-width="1" stroke-dasharray="3.4 2.6" fill="none"/>
<text x="81.5" y="49.98" stroke="#1c1c1c">FS2</text>
<path d="M92.4 47.68H107.8" stroke="#1010ff" stroke-width="1" stroke-dasharray="3.4 2.6" fill="none"/>
<text x="108.7" y="49.98" stroke="#1c1c1c">FS3</text>
<path d="M119.6 47.68H135" stroke="#ff10ff" stroke-width="1" stroke-dasharray="3.4 2.6" fill="none"/>
<text x="135.9" y="49.98" stroke="#1c1c1c">FS4</text>
<path d="M146.79 47.68H162.19" stroke="#008800" stroke-width="1" stroke-dasharray="3.4 2.6" fill="none"/>
<text x="163.09" y="49.98" stroke="#1c1c1c">FS5</text>
<path d="M37.1 55.85H53.4" stroke="#101090" stroke-width="1" stroke-dasharray="3.4 2.6" fill="none"/>
<text x="54.3" y="58.15" stroke="#1c1c1c">FS6</text>
<path d="M65.2 55.85H80.6" stroke="#8010ff" stroke-width="1" stroke-dasharray="3.4 2.6" fill="none"/>
<text x="81.5" y="58.15" stroke="#1c1c1c">FS7</text>
<path d="M92.4 55.85H107.8" stroke="#881088" stroke-width="1" stroke-dasharray="3.4 2.6" fill="none"/>
<text x="108.7" y="58.15" stroke="#1c1c1c">FS8</text>
<path d="M119.6 55.85H135" stroke="#8a1010" stroke-width="1" stroke-dasharray="3.4 2.6" fill="none"/>
<text x="135.9" y="58.15" stroke="#1c1c1c">FS9</text>
<path d="M146.79 55.85H162.19" stroke="#888800" stroke-width="1" stroke-dasharray="3.4 2.6" fill="none"/>
<text x="163.09" y="58.15" stroke="#1c1c1c">FS10</text>
<path d="M37.1 64.02H53.4" stroke="#3888c0" stroke-width="1" stroke-dasharray="3.4 2.6" fill="none"/>
<text x="54.3" y="66.32" stroke="#1c1c1c">CS1</text>
<path d="M65.91 64.02H81.31" stroke="#10b4b4" stroke-width="1" stroke-dasharray="3.4 2.6" fill="none"/>
<text x="82.21" y="66.32" stroke="#1c1c1c">CS2</text>
<path d="M93.83 64.02H109.23" stroke="#c89838" stroke-width="1" stroke-dasharray="3.4 2.6" fill="none"/>
<text x="110.13" y="66.32" stroke="#1c1c1c">CS3</text>
<path d="M121.74 64.02H137.14" stroke="#10c848" stroke-width="1" stroke-dasharray="3.4 2.6" fill="none"/>
<text x="138.04" y="66.32" stroke="#1c1c1c">CS4</text>
<path d="M37.1 72.19H53.4" stroke="#d040a0" stroke-width="1" stroke-dasharray="3.4 2.6" fill="none"/>
<text x="54.3" y="74.49" stroke="#1c1c1c">CS5</text>
<path d="M65.91 72.19H81.31" stroke="#30d4d0" stroke-width="1" stroke-dasharray="3.4 2.6" fill="none"/>
<text x="82.21" y="74.49" stroke="#1c1c1c">CS6</text>
<path d="M93.83 72.19H109.23" stroke="#3434e0" stroke-width="1" stroke-dasharray="3.4 2.6" fill="none"/>
<text x="110.13" y="74.49" stroke="#1c1c1c">CS7</text>
<path d="M121.74 72.19H137.14" stroke="#a4c808" stroke-width="1" stroke-dasharray="3.4 2.6" fill="none"/>
<text x="138.04" y="74.49" stroke="#1c1c1c">CS8</text>
<path d="M37.1 80.36H53.4" stroke="#808080" stroke-width="1" stroke-dasharray="3.4 2.6" fill="none"/>
<text x="54.3" y="82.66" stroke="#1c1c1c">CS9</text>
<path d="M65.91 80.36H81.31" stroke="#c08060" stroke-width="1" stroke-dasharray="3.4 2.6" fill="none"/>
<text x="82.21" y="82.66" stroke="#1c1c1c">CS10</text>
<path d="M97.05 80.36H112.45" stroke="#28c428" stroke-width="1" stroke-dasharray="3.4 2.6" fill="none"/>
<text x="113.35" y="82.66" stroke="#1c1c1c">GR1</text>
<path d="M37.1 88.53H53.4" stroke="#10b0e0" stroke-width="1" stroke-dasharray="3.4 2.6" fill="none"/>
<text x="54.3" y="90.83" stroke="#1c1c1c">GR2</text>
<path d="M66.99 88.53H82.39" stroke="#4060d0" stroke-width="1" stroke-dasharray="3.4 2.6" fill="none"/>
<text x="83.29" y="90.83" stroke="#1c1c1c">GR3</text>
<path d="M95.97 88.53H111.37" stroke="#10e010" stroke-width="1" stroke-dasharray="3.4 2.6" fill="none"/>
<text x="112.27" y="90.83" stroke="#1c1c1c">GR4</text>
<path d="M37.1 96.7H53.4" stroke="#10dcf0" stroke-width="1" stroke-dasharray="3.4 2.6" fill="none"/>
<text x="54.3" y="99" stroke="#1c1c1c">GR5</text>
<path d="M66.99 96.7H82.39" stroke="#f0f000" stroke-width="1" stroke-dasharray="3.4 2.6" fill="none"/>
<text x="83.29" y="99" stroke="#1c1c1c">GR6</text>
<path d="M37.1 104.87H53.4" stroke="#109070" stroke-width="1" stroke-dasharray="3.4 2.6" fill="none"/>
<text x="54.3" y="107.17" stroke="#1c1c1c">GR7</text>
<path d="M66.99 104.87H82.39" stroke="#1010d0" stroke-width="1" stroke-dasharray="3.4 2.6" fill="none"/>
<text x="83.29" y="107.17" stroke="#1c1c1c">GR8</text>
<path d="M37.1 113.04H53.4" stroke="#ff8810" stroke-width="1" stroke-dasharray="3.4 2.6" fill="none"/>
<text x="54.3" y="115.34" stroke="#1c1c1c">GR9</text>
</g>
</svg>
</body></html>
